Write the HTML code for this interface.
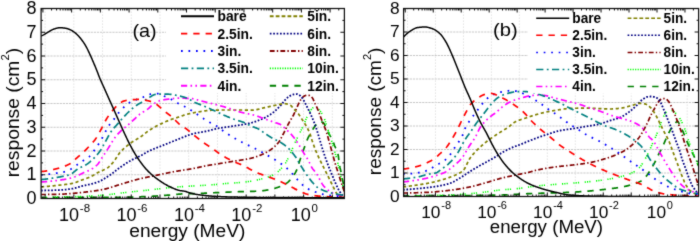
<!DOCTYPE html>
<html><head><meta charset="utf-8"><style>
html,body{margin:0;padding:0;background:#fff;}
svg{display:block;}
text{font-family:"Liberation Sans", Arial, Helvetica, sans-serif;fill:#000;}
</style></head><body>
<svg width="700" height="241" viewBox="0 0 700 241">
<defs><filter id="soft" x="0" y="0" width="700" height="241" filterUnits="userSpaceOnUse" primitiveUnits="userSpaceOnUse" color-interpolation-filters="sRGB"><feConvolveMatrix order="3" kernelMatrix="0.02 0.08 0.02 0.08 0.6 0.08 0.02 0.08 0.02" edgeMode="duplicate"/></filter></defs>
<rect width="700" height="241" fill="#fff"/>
<g filter="url(#soft)">
<rect width="700" height="241" fill="#fff"/>
<clipPath id="clipa"><rect x="41.1" y="8.5" width="303.29999999999995" height="190.0"/></clipPath>
<path d="M41.1,174.75 H344.4 M41.1,151.00 H344.4 M41.1,127.25 H344.4 M41.1,103.50 H344.4 M41.1,79.75 H344.4 M41.1,56.00 H344.4 M41.1,32.25 H344.4" stroke="#c8c8c8" stroke-width="1" stroke-dasharray="2.2,0.9" fill="none"/>
<path d="M45.12,8.5 V198.5 M73.84,8.5 V198.5 M102.56,8.5 V198.5 M131.28,8.5 V198.5 M160.00,8.5 V198.5 M188.72,8.5 V198.5 M217.44,8.5 V198.5 M246.16,8.5 V198.5 M274.88,8.5 V198.5 M303.60,8.5 V198.5 M332.32,8.5 V198.5" stroke="#dedede" stroke-width="1" stroke-dasharray="1.3,1.7" fill="none"/>
<g clip-path="url(#clipa)" fill="none" stroke-linejoin="round">
<path d="M41.00,197.80 L41.50,197.79 L42.00,197.79 L42.50,197.78 L43.00,197.78 L43.50,197.77 L44.00,197.77 L44.50,197.76 L45.00,197.76 L45.50,197.75 L46.00,197.75 L46.50,197.74 L47.00,197.73 L47.50,197.73 L48.00,197.72 L48.50,197.72 L49.00,197.71 L49.50,197.71 L50.00,197.70 L50.50,197.70 L51.00,197.69 L51.50,197.69 L52.00,197.68 L52.50,197.68 L53.00,197.67 L53.50,197.67 L54.00,197.66 L54.50,197.66 L55.00,197.65 L55.50,197.65 L56.00,197.64 L56.50,197.64 L57.00,197.64 L57.50,197.63 L58.00,197.63 L58.50,197.62 L59.00,197.62 L59.50,197.61 L60.00,197.61 L60.50,197.60 L61.00,197.60 L61.50,197.59 L62.00,197.59 L62.50,197.59 L63.00,197.58 L63.50,197.58 L64.00,197.57 L64.50,197.57 L65.00,197.56 L65.50,197.56 L66.00,197.56 L66.50,197.55 L67.00,197.55 L67.50,197.54 L68.00,197.54 L68.50,197.54 L69.00,197.53 L69.50,197.53 L70.00,197.52 L70.50,197.52 L71.00,197.52 L71.50,197.51 L72.00,197.51 L72.50,197.50 L73.00,197.50 L73.50,197.50 L74.00,197.49 L74.50,197.49 L75.00,197.49 L75.50,197.48 L76.00,197.48 L76.50,197.48 L77.00,197.47 L77.50,197.47 L78.00,197.47 L78.50,197.46 L79.00,197.46 L79.50,197.46 L80.00,197.45 L80.50,197.45 L81.00,197.45 L81.50,197.44 L82.00,197.44 L82.50,197.44 L83.00,197.44 L83.50,197.43 L84.00,197.43 L84.50,197.43 L85.00,197.42 L85.50,197.42 L86.00,197.42 L86.50,197.42 L87.00,197.41 L87.50,197.41 L88.00,197.41 L88.50,197.41 L89.00,197.40 L89.50,197.40 L90.00,197.40 L90.50,197.40 L91.00,197.40 L91.50,197.39 L92.00,197.39 L92.50,197.39 L93.00,197.39 L93.50,197.39 L94.00,197.38 L94.50,197.38 L95.00,197.38 L95.50,197.38 L96.00,197.38 L96.50,197.38 L97.00,197.37 L97.50,197.37 L98.00,197.37 L98.50,197.37 L99.00,197.37 L99.50,197.37 L100.00,197.37 L100.50,197.37 L101.00,197.36 L101.50,197.36 L102.00,197.36 L102.50,197.36 L103.00,197.36 L103.50,197.36 L104.00,197.36 L104.50,197.36 L105.00,197.36 L105.50,197.35 L106.00,197.35 L106.50,197.35 L107.00,197.35 L107.50,197.35 L108.00,197.35 L108.50,197.35 L109.00,197.35 L109.50,197.34 L110.00,197.34 L110.50,197.34 L111.00,197.34 L111.50,197.34 L112.00,197.34 L112.50,197.33 L113.00,197.33 L113.50,197.33 L114.00,197.33 L114.50,197.33 L115.00,197.33 L115.50,197.32 L116.00,197.32 L116.50,197.32 L117.00,197.32 L117.50,197.31 L118.00,197.31 L118.50,197.31 L119.00,197.31 L119.50,197.30 L120.00,197.30 L120.50,197.30 L121.00,197.29 L121.50,197.29 L122.00,197.28 L122.50,197.28 L123.00,197.27 L123.50,197.26 L124.00,197.26 L124.50,197.25 L125.00,197.24 L125.50,197.23 L126.00,197.22 L126.50,197.21 L127.00,197.20 L127.50,197.19 L128.00,197.18 L128.50,197.16 L129.00,197.15 L129.50,197.14 L130.00,197.12 L130.50,197.11 L131.00,197.10 L131.50,197.08 L132.00,197.07 L132.50,197.05 L133.00,197.03 L133.50,197.02 L134.00,197.00 L134.50,196.98 L135.00,196.97 L135.50,196.95 L136.00,196.93 L136.50,196.91 L137.00,196.90 L137.50,196.88 L138.00,196.86 L138.50,196.84 L139.00,196.82 L139.50,196.80 L140.00,196.78 L140.50,196.76 L141.00,196.74 L141.50,196.72 L142.00,196.70 L142.50,196.68 L143.00,196.66 L143.50,196.64 L144.00,196.61 L144.50,196.59 L145.00,196.57 L145.50,196.55 L146.00,196.53 L146.50,196.51 L147.00,196.49 L147.50,196.46 L148.00,196.44 L148.50,196.42 L149.00,196.40 L149.50,196.38 L150.00,196.35 L150.50,196.33 L151.00,196.31 L151.50,196.28 L152.00,196.25 L152.50,196.23 L153.00,196.20 L153.50,196.17 L154.00,196.14 L154.50,196.11 L155.00,196.08 L155.50,196.05 L156.00,196.02 L156.50,195.98 L157.00,195.95 L157.50,195.92 L158.00,195.88 L158.50,195.85 L159.00,195.81 L159.50,195.78 L160.00,195.74 L160.50,195.71 L161.00,195.67 L161.50,195.64 L162.00,195.60 L162.50,195.56 L163.00,195.52 L163.50,195.49 L164.00,195.45 L164.50,195.41 L165.00,195.37 L165.50,195.34 L166.00,195.30 L166.50,195.26 L167.00,195.22 L167.50,195.19 L168.00,195.15 L168.50,195.11 L169.00,195.07 L169.50,195.04 L170.00,195.00 L170.50,194.96 L171.00,194.92 L171.50,194.88 L172.00,194.84 L172.50,194.79 L173.00,194.75 L173.50,194.70 L174.00,194.65 L174.50,194.60 L175.00,194.55 L175.50,194.50 L176.00,194.45 L176.50,194.40 L177.00,194.36 L177.50,194.31 L178.00,194.26 L178.50,194.21 L179.00,194.16 L179.50,194.12 L180.00,194.07 L180.50,194.03 L181.00,193.99 L181.50,193.95 L182.00,193.91 L182.50,193.87 L183.00,193.84 L183.50,193.81 L184.00,193.78 L184.50,193.76 L185.00,193.73 L185.50,193.72 L186.00,193.70 L186.50,193.69 L187.00,193.67 L187.50,193.66 L188.00,193.65 L188.50,193.64 L189.00,193.64 L189.50,193.63 L190.00,193.62 L190.50,193.61 L191.00,193.61 L191.50,193.60 L192.00,193.59 L192.50,193.59 L193.00,193.58 L193.50,193.58 L194.00,193.57 L194.50,193.56 L195.00,193.55 L195.50,193.55 L196.00,193.54 L196.50,193.53 L197.00,193.52 L197.50,193.50 L198.00,193.49 L198.50,193.48 L199.00,193.46 L199.50,193.44 L200.00,193.42 L200.50,193.40 L201.00,193.38 L201.50,193.36 L202.00,193.34 L202.50,193.31 L203.00,193.28 L203.50,193.26 L204.00,193.23 L204.50,193.20 L205.00,193.18 L205.50,193.15 L206.00,193.12 L206.50,193.10 L207.00,193.07 L207.50,193.04 L208.00,193.02 L208.50,192.99 L209.00,192.96 L209.50,192.94 L210.00,192.92 L210.50,192.90 L211.00,192.87 L211.50,192.85 L212.00,192.83 L212.50,192.81 L213.00,192.79 L213.50,192.77 L214.00,192.75 L214.50,192.73 L215.00,192.71 L215.50,192.69 L216.00,192.68 L216.50,192.66 L217.00,192.64 L217.50,192.62 L218.00,192.60 L218.50,192.58 L219.00,192.56 L219.50,192.54 L220.00,192.52 L220.50,192.50 L221.00,192.48 L221.50,192.46 L222.00,192.44 L222.50,192.42 L223.00,192.40 L223.50,192.37 L224.00,192.35 L224.50,192.33 L225.00,192.30 L225.50,192.27 L226.00,192.25 L226.50,192.22 L227.00,192.19 L227.50,192.17 L228.00,192.14 L228.50,192.11 L229.00,192.09 L229.50,192.06 L230.00,192.03 L230.50,192.01 L231.00,191.98 L231.50,191.96 L232.00,191.93 L232.50,191.91 L233.00,191.89 L233.50,191.87 L234.00,191.85 L234.50,191.83 L235.00,191.81 L235.50,191.79 L236.00,191.78 L236.50,191.77 L237.00,191.75 L237.50,191.74 L238.00,191.73 L238.50,191.72 L239.00,191.71 L239.50,191.70 L240.00,191.69 L240.50,191.68 L241.00,191.67 L241.50,191.66 L242.00,191.65 L242.50,191.64 L243.00,191.63 L243.50,191.62 L244.00,191.61 L244.50,191.60 L245.00,191.59 L245.50,191.58 L246.00,191.56 L246.50,191.55 L247.00,191.54 L247.50,191.53 L248.00,191.51 L248.50,191.50 L249.00,191.48 L249.50,191.47 L250.00,191.45 L250.50,191.43 L251.00,191.42 L251.50,191.40 L252.00,191.38 L252.50,191.36 L253.00,191.34 L253.50,191.32 L254.00,191.30 L254.50,191.28 L255.00,191.26 L255.50,191.23 L256.00,191.21 L256.50,191.18 L257.00,191.16 L257.50,191.13 L258.00,191.10 L258.50,191.07 L259.00,191.04 L259.50,191.01 L260.00,190.97 L260.50,190.94 L261.00,190.90 L261.50,190.86 L262.00,190.81 L262.50,190.76 L263.00,190.70 L263.50,190.64 L264.00,190.57 L264.50,190.50 L265.00,190.42 L265.50,190.34 L266.00,190.26 L266.50,190.17 L267.00,190.08 L267.50,189.99 L268.00,189.89 L268.50,189.80 L269.00,189.70 L269.50,189.60 L270.00,189.50 L270.50,189.40 L271.00,189.29 L271.50,189.18 L272.00,189.06 L272.50,188.94 L273.00,188.81 L273.50,188.68 L274.00,188.55 L274.50,188.41 L275.00,188.26 L275.50,188.11 L276.00,187.96 L276.50,187.80 L277.00,187.64 L277.50,187.47 L278.00,187.30 L278.50,187.12 L279.00,186.94 L279.50,186.75 L280.00,186.56 L280.50,186.36 L281.00,186.15 L281.50,185.94 L282.00,185.72 L282.50,185.49 L283.00,185.25 L283.50,185.00 L284.00,184.74 L284.50,184.46 L285.00,184.18 L285.50,183.88 L286.00,183.56 L286.50,183.23 L287.00,182.89 L287.50,182.53 L288.00,182.14 L288.50,181.70 L289.00,181.20 L289.50,180.65 L290.00,180.05 L290.50,179.42 L291.00,178.76 L291.50,178.08 L292.00,177.39 L292.50,176.69 L293.00,176.00 L293.50,175.32 L294.00,174.63 L294.50,173.93 L295.00,173.19 L295.50,172.38 L296.00,171.49 L296.50,170.50 L297.00,169.29 L297.50,167.82 L298.00,166.22 L298.50,164.57 L299.00,163.00 L299.50,161.49 L300.00,159.97 L300.50,158.46 L301.00,156.96 L301.50,155.50 L302.00,154.07 L302.50,152.66 L303.00,151.27 L303.50,149.89 L304.00,148.53 L304.50,147.18 L305.00,145.83 L305.50,144.46 L306.00,143.07 L306.50,141.69 L307.00,140.37 L307.50,139.13 L308.00,138.00 L308.50,136.99 L309.00,136.06 L309.50,135.19 L310.00,134.35 L310.50,133.52 L311.00,132.67 L311.50,131.79 L312.00,130.89 L312.50,129.99 L313.00,129.12 L313.50,128.28 L314.00,127.50 L314.50,126.76 L315.00,126.04 L315.50,125.36 L316.00,124.74 L316.50,124.20 L317.00,123.71 L317.50,123.20 L318.00,122.72 L318.50,122.28 L319.00,121.92 L319.50,121.69 L320.00,121.60 L320.50,121.63 L321.00,121.72 L321.50,121.86 L322.00,122.04 L322.50,122.26 L323.00,122.50 L323.50,122.92 L324.00,123.60 L324.50,124.48 L325.00,125.48 L325.50,126.51 L326.00,127.50 L326.50,128.51 L327.00,129.61 L327.50,130.76 L328.00,131.91 L328.50,133.00 L329.00,134.00 L329.50,134.87 L330.00,135.64 L330.50,136.37 L331.00,137.09 L331.50,137.86 L332.00,138.72 L332.50,139.72 L333.00,140.99 L333.50,142.47 L334.00,144.02 L334.50,145.48 L335.00,146.72 L335.50,147.68 L336.00,148.51 L336.50,149.38 L337.00,150.46 L337.50,151.98 L338.00,154.15 L338.50,157.00 L339.00,161.80 L339.50,165.30 L340.00,167.71 L340.50,169.79 L341.00,172.00 L341.50,174.51 L342.00,177.10 L342.50,179.64 L343.00,182.00 L343.50,184.17 L344.00,186.24 L344.50,188.18 L345.00,190.00" stroke="#008000" stroke-width="1.7" stroke-dasharray="6.3,6"/>
<path d="M41.00,197.20 L41.50,197.20 L42.00,197.20 L42.50,197.20 L43.00,197.20 L43.50,197.20 L44.00,197.19 L44.50,197.19 L45.00,197.19 L45.50,197.19 L46.00,197.18 L46.50,197.18 L47.00,197.18 L47.50,197.17 L48.00,197.17 L48.50,197.16 L49.00,197.16 L49.50,197.15 L50.00,197.15 L50.50,197.14 L51.00,197.14 L51.50,197.13 L52.00,197.13 L52.50,197.12 L53.00,197.11 L53.50,197.11 L54.00,197.10 L54.50,197.09 L55.00,197.08 L55.50,197.08 L56.00,197.07 L56.50,197.06 L57.00,197.05 L57.50,197.04 L58.00,197.04 L58.50,197.03 L59.00,197.02 L59.50,197.01 L60.00,197.00 L60.50,196.99 L61.00,196.98 L61.50,196.97 L62.00,196.96 L62.50,196.95 L63.00,196.94 L63.50,196.93 L64.00,196.92 L64.50,196.91 L65.00,196.90 L65.50,196.89 L66.00,196.88 L66.50,196.87 L67.00,196.86 L67.50,196.85 L68.00,196.84 L68.50,196.83 L69.00,196.82 L69.50,196.81 L70.00,196.80 L70.50,196.79 L71.00,196.78 L71.50,196.77 L72.00,196.75 L72.50,196.74 L73.00,196.73 L73.50,196.71 L74.00,196.70 L74.50,196.69 L75.00,196.67 L75.50,196.66 L76.00,196.64 L76.50,196.62 L77.00,196.61 L77.50,196.59 L78.00,196.57 L78.50,196.55 L79.00,196.54 L79.50,196.52 L80.00,196.50 L80.50,196.48 L81.00,196.46 L81.50,196.44 L82.00,196.42 L82.50,196.40 L83.00,196.38 L83.50,196.35 L84.00,196.33 L84.50,196.31 L85.00,196.28 L85.50,196.26 L86.00,196.24 L86.50,196.21 L87.00,196.19 L87.50,196.16 L88.00,196.14 L88.50,196.11 L89.00,196.09 L89.50,196.06 L90.00,196.03 L90.50,196.01 L91.00,195.98 L91.50,195.95 L92.00,195.92 L92.50,195.89 L93.00,195.86 L93.50,195.84 L94.00,195.81 L94.50,195.78 L95.00,195.75 L95.50,195.72 L96.00,195.68 L96.50,195.65 L97.00,195.62 L97.50,195.59 L98.00,195.56 L98.50,195.53 L99.00,195.49 L99.50,195.46 L100.00,195.43 L100.50,195.39 L101.00,195.36 L101.50,195.32 L102.00,195.28 L102.50,195.24 L103.00,195.20 L103.50,195.15 L104.00,195.10 L104.50,195.06 L105.00,195.01 L105.50,194.95 L106.00,194.90 L106.50,194.85 L107.00,194.79 L107.50,194.73 L108.00,194.68 L108.50,194.62 L109.00,194.56 L109.50,194.50 L110.00,194.43 L110.50,194.37 L111.00,194.31 L111.50,194.24 L112.00,194.18 L112.50,194.11 L113.00,194.05 L113.50,193.98 L114.00,193.92 L114.50,193.85 L115.00,193.79 L115.50,193.72 L116.00,193.65 L116.50,193.59 L117.00,193.52 L117.50,193.46 L118.00,193.39 L118.50,193.33 L119.00,193.27 L119.50,193.20 L120.00,193.14 L120.50,193.08 L121.00,193.02 L121.50,192.96 L122.00,192.90 L122.50,192.84 L123.00,192.79 L123.50,192.73 L124.00,192.68 L124.50,192.62 L125.00,192.57 L125.50,192.51 L126.00,192.46 L126.50,192.40 L127.00,192.35 L127.50,192.30 L128.00,192.24 L128.50,192.19 L129.00,192.13 L129.50,192.08 L130.00,192.03 L130.50,191.97 L131.00,191.92 L131.50,191.87 L132.00,191.81 L132.50,191.76 L133.00,191.71 L133.50,191.65 L134.00,191.60 L134.50,191.55 L135.00,191.50 L135.50,191.44 L136.00,191.39 L136.50,191.34 L137.00,191.28 L137.50,191.23 L138.00,191.18 L138.50,191.13 L139.00,191.07 L139.50,191.02 L140.00,190.97 L140.50,190.91 L141.00,190.86 L141.50,190.81 L142.00,190.76 L142.50,190.70 L143.00,190.65 L143.50,190.60 L144.00,190.54 L144.50,190.49 L145.00,190.43 L145.50,190.38 L146.00,190.33 L146.50,190.27 L147.00,190.22 L147.50,190.16 L148.00,190.11 L148.50,190.05 L149.00,190.00 L149.50,189.94 L150.00,189.89 L150.50,189.83 L151.00,189.78 L151.50,189.72 L152.00,189.66 L152.50,189.60 L153.00,189.54 L153.50,189.48 L154.00,189.42 L154.50,189.36 L155.00,189.30 L155.50,189.24 L156.00,189.18 L156.50,189.12 L157.00,189.06 L157.50,189.00 L158.00,188.94 L158.50,188.87 L159.00,188.81 L159.50,188.75 L160.00,188.69 L160.50,188.63 L161.00,188.57 L161.50,188.51 L162.00,188.45 L162.50,188.39 L163.00,188.33 L163.50,188.27 L164.00,188.22 L164.50,188.16 L165.00,188.10 L165.50,188.05 L166.00,187.99 L166.50,187.93 L167.00,187.88 L167.50,187.83 L168.00,187.77 L168.50,187.72 L169.00,187.67 L169.50,187.62 L170.00,187.57 L170.50,187.52 L171.00,187.48 L171.50,187.43 L172.00,187.39 L172.50,187.34 L173.00,187.30 L173.50,187.26 L174.00,187.22 L174.50,187.18 L175.00,187.14 L175.50,187.10 L176.00,187.06 L176.50,187.02 L177.00,186.99 L177.50,186.95 L178.00,186.91 L178.50,186.88 L179.00,186.84 L179.50,186.81 L180.00,186.77 L180.50,186.74 L181.00,186.71 L181.50,186.67 L182.00,186.64 L182.50,186.61 L183.00,186.58 L183.50,186.54 L184.00,186.51 L184.50,186.48 L185.00,186.45 L185.50,186.42 L186.00,186.39 L186.50,186.36 L187.00,186.33 L187.50,186.30 L188.00,186.26 L188.50,186.23 L189.00,186.20 L189.50,186.17 L190.00,186.14 L190.50,186.11 L191.00,186.08 L191.50,186.05 L192.00,186.02 L192.50,185.99 L193.00,185.97 L193.50,185.94 L194.00,185.91 L194.50,185.88 L195.00,185.86 L195.50,185.83 L196.00,185.80 L196.50,185.78 L197.00,185.75 L197.50,185.72 L198.00,185.70 L198.50,185.67 L199.00,185.64 L199.50,185.62 L200.00,185.59 L200.50,185.56 L201.00,185.54 L201.50,185.51 L202.00,185.48 L202.50,185.45 L203.00,185.42 L203.50,185.39 L204.00,185.36 L204.50,185.33 L205.00,185.30 L205.50,185.27 L206.00,185.24 L206.50,185.20 L207.00,185.17 L207.50,185.14 L208.00,185.10 L208.50,185.07 L209.00,185.03 L209.50,185.00 L210.00,184.96 L210.50,184.93 L211.00,184.89 L211.50,184.85 L212.00,184.82 L212.50,184.78 L213.00,184.74 L213.50,184.70 L214.00,184.66 L214.50,184.62 L215.00,184.58 L215.50,184.54 L216.00,184.50 L216.50,184.46 L217.00,184.41 L217.50,184.37 L218.00,184.32 L218.50,184.27 L219.00,184.23 L219.50,184.18 L220.00,184.13 L220.50,184.07 L221.00,184.02 L221.50,183.97 L222.00,183.92 L222.50,183.87 L223.00,183.82 L223.50,183.77 L224.00,183.72 L224.50,183.67 L225.00,183.62 L225.50,183.57 L226.00,183.53 L226.50,183.48 L227.00,183.44 L227.50,183.40 L228.00,183.36 L228.50,183.32 L229.00,183.29 L229.50,183.25 L230.00,183.22 L230.50,183.19 L231.00,183.15 L231.50,183.12 L232.00,183.09 L232.50,183.06 L233.00,183.03 L233.50,183.00 L234.00,182.97 L234.50,182.94 L235.00,182.91 L235.50,182.88 L236.00,182.84 L236.50,182.81 L237.00,182.77 L237.50,182.74 L238.00,182.70 L238.50,182.66 L239.00,182.62 L239.50,182.57 L240.00,182.53 L240.50,182.48 L241.00,182.44 L241.50,182.39 L242.00,182.34 L242.50,182.29 L243.00,182.23 L243.50,182.18 L244.00,182.12 L244.50,182.07 L245.00,182.01 L245.50,181.95 L246.00,181.89 L246.50,181.83 L247.00,181.76 L247.50,181.70 L248.00,181.63 L248.50,181.56 L249.00,181.49 L249.50,181.42 L250.00,181.34 L250.50,181.27 L251.00,181.19 L251.50,181.11 L252.00,181.02 L252.50,180.94 L253.00,180.84 L253.50,180.75 L254.00,180.65 L254.50,180.55 L255.00,180.45 L255.50,180.35 L256.00,180.24 L256.50,180.13 L257.00,180.02 L257.50,179.90 L258.00,179.79 L258.50,179.67 L259.00,179.55 L259.50,179.43 L260.00,179.30 L260.50,179.18 L261.00,179.05 L261.50,178.93 L262.00,178.80 L262.50,178.67 L263.00,178.54 L263.50,178.41 L264.00,178.27 L264.50,178.13 L265.00,177.99 L265.50,177.84 L266.00,177.69 L266.50,177.54 L267.00,177.38 L267.50,177.21 L268.00,177.04 L268.50,176.87 L269.00,176.68 L269.50,176.50 L270.00,176.30 L270.50,176.10 L271.00,175.88 L271.50,175.66 L272.00,175.43 L272.50,175.18 L273.00,174.93 L273.50,174.66 L274.00,174.38 L274.50,174.09 L275.00,173.79 L275.50,173.47 L276.00,173.14 L276.50,172.79 L277.00,172.42 L277.50,172.03 L278.00,171.63 L278.50,171.20 L279.00,170.75 L279.50,170.28 L280.00,169.79 L280.50,169.29 L281.00,168.76 L281.50,168.21 L282.00,167.65 L282.50,167.07 L283.00,166.46 L283.50,165.84 L284.00,165.20 L284.50,164.54 L285.00,163.86 L285.50,163.12 L286.00,162.29 L286.50,161.40 L287.00,160.47 L287.50,159.49 L288.00,158.50 L288.50,157.50 L289.00,156.47 L289.50,155.40 L290.00,154.28 L290.50,153.14 L291.00,151.99 L291.50,150.83 L292.00,149.68 L292.50,148.55 L293.00,147.41 L293.50,146.26 L294.00,145.10 L294.50,143.95 L295.00,142.80 L295.50,141.68 L296.00,140.57 L296.50,139.50 L297.00,138.46 L297.50,137.46 L298.00,136.49 L298.50,135.52 L299.00,134.56 L299.50,133.60 L300.00,132.62 L300.50,131.62 L301.00,130.58 L301.50,129.52 L302.00,128.44 L302.50,127.35 L303.00,126.24 L303.50,125.13 L304.00,124.00 L304.50,122.85 L305.00,121.66 L305.50,120.46 L306.00,119.27 L306.50,118.11 L307.00,117.00 L307.50,115.89 L308.00,114.76 L308.50,113.66 L309.00,112.63 L309.50,111.73 L310.00,111.00 L310.50,110.37 L311.00,109.76 L311.50,109.17 L312.00,108.63 L312.50,108.17 L313.00,107.81 L313.50,107.58 L314.00,107.50 L314.50,107.53 L315.00,107.62 L315.50,107.77 L316.00,107.95 L316.50,108.18 L317.00,108.45 L317.50,108.73 L318.00,109.04 L318.50,109.37 L319.00,109.73 L319.50,110.21 L320.00,110.82 L320.50,111.50 L321.00,112.24 L321.50,113.00 L322.00,113.80 L322.50,114.69 L323.00,115.65 L323.50,116.69 L324.00,117.80 L324.50,118.99 L325.00,120.36 L325.50,121.87 L326.00,123.47 L326.50,125.11 L327.00,126.74 L327.50,128.31 L328.00,129.83 L328.50,131.36 L329.00,132.89 L329.50,134.43 L330.00,136.00 L330.50,137.60 L331.00,139.22 L331.50,140.85 L332.00,142.51 L332.50,144.17 L333.00,145.83 L333.50,147.50 L334.00,149.15 L334.50,150.80 L335.00,152.48 L335.50,154.21 L336.00,156.00 L336.50,157.86 L337.00,159.78 L337.50,161.76 L338.00,163.79 L338.50,165.87 L339.00,168.00 L339.50,170.23 L340.00,172.59 L340.50,175.00 L341.00,177.41 L341.50,179.77 L342.00,182.00 L342.50,184.13 L343.00,186.21 L343.50,188.24 L344.00,190.22 L344.50,192.14 L345.00,194.00" stroke="#00ff00" stroke-width="1.6" stroke-dasharray="1.2,1.1,1.2,1.1,1.2,5.6"/>
<path d="M41.00,194.50 L41.50,194.50 L42.00,194.50 L42.50,194.50 L43.00,194.50 L43.50,194.49 L44.00,194.49 L44.50,194.49 L45.00,194.48 L45.50,194.48 L46.00,194.47 L46.50,194.47 L47.00,194.46 L47.50,194.46 L48.00,194.45 L48.50,194.44 L49.00,194.44 L49.50,194.43 L50.00,194.42 L50.50,194.41 L51.00,194.40 L51.50,194.39 L52.00,194.38 L52.50,194.38 L53.00,194.37 L53.50,194.35 L54.00,194.34 L54.50,194.33 L55.00,194.32 L55.50,194.31 L56.00,194.30 L56.50,194.29 L57.00,194.28 L57.50,194.26 L58.00,194.25 L58.50,194.24 L59.00,194.23 L59.50,194.21 L60.00,194.20 L60.50,194.19 L61.00,194.17 L61.50,194.15 L62.00,194.13 L62.50,194.11 L63.00,194.09 L63.50,194.06 L64.00,194.03 L64.50,194.01 L65.00,193.98 L65.50,193.94 L66.00,193.91 L66.50,193.88 L67.00,193.84 L67.50,193.81 L68.00,193.77 L68.50,193.73 L69.00,193.70 L69.50,193.66 L70.00,193.62 L70.50,193.58 L71.00,193.54 L71.50,193.49 L72.00,193.45 L72.50,193.41 L73.00,193.37 L73.50,193.33 L74.00,193.28 L74.50,193.24 L75.00,193.20 L75.50,193.16 L76.00,193.11 L76.50,193.07 L77.00,193.02 L77.50,192.97 L78.00,192.92 L78.50,192.87 L79.00,192.82 L79.50,192.77 L80.00,192.72 L80.50,192.66 L81.00,192.61 L81.50,192.55 L82.00,192.50 L82.50,192.44 L83.00,192.38 L83.50,192.32 L84.00,192.26 L84.50,192.20 L85.00,192.14 L85.50,192.08 L86.00,192.01 L86.50,191.95 L87.00,191.89 L87.50,191.82 L88.00,191.76 L88.50,191.70 L89.00,191.63 L89.50,191.57 L90.00,191.50 L90.50,191.43 L91.00,191.37 L91.50,191.30 L92.00,191.24 L92.50,191.17 L93.00,191.10 L93.50,191.04 L94.00,190.97 L94.50,190.90 L95.00,190.83 L95.50,190.76 L96.00,190.68 L96.50,190.61 L97.00,190.54 L97.50,190.46 L98.00,190.38 L98.50,190.30 L99.00,190.22 L99.50,190.14 L100.00,190.05 L100.50,189.97 L101.00,189.88 L101.50,189.79 L102.00,189.69 L102.50,189.60 L103.00,189.50 L103.50,189.40 L104.00,189.29 L104.50,189.18 L105.00,189.06 L105.50,188.94 L106.00,188.81 L106.50,188.68 L107.00,188.55 L107.50,188.41 L108.00,188.27 L108.50,188.12 L109.00,187.97 L109.50,187.82 L110.00,187.67 L110.50,187.52 L111.00,187.36 L111.50,187.20 L112.00,187.04 L112.50,186.88 L113.00,186.72 L113.50,186.56 L114.00,186.39 L114.50,186.23 L115.00,186.07 L115.50,185.91 L116.00,185.74 L116.50,185.58 L117.00,185.42 L117.50,185.26 L118.00,185.11 L118.50,184.95 L119.00,184.80 L119.50,184.65 L120.00,184.50 L120.50,184.35 L121.00,184.20 L121.50,184.05 L122.00,183.90 L122.50,183.75 L123.00,183.60 L123.50,183.45 L124.00,183.30 L124.50,183.14 L125.00,182.99 L125.50,182.83 L126.00,182.68 L126.50,182.53 L127.00,182.37 L127.50,182.22 L128.00,182.07 L128.50,181.91 L129.00,181.76 L129.50,181.61 L130.00,181.46 L130.50,181.31 L131.00,181.16 L131.50,181.02 L132.00,180.87 L132.50,180.73 L133.00,180.58 L133.50,180.44 L134.00,180.30 L134.50,180.16 L135.00,180.03 L135.50,179.89 L136.00,179.76 L136.50,179.63 L137.00,179.50 L137.50,179.38 L138.00,179.25 L138.50,179.13 L139.00,179.01 L139.50,178.89 L140.00,178.77 L140.50,178.66 L141.00,178.54 L141.50,178.43 L142.00,178.31 L142.50,178.20 L143.00,178.09 L143.50,177.98 L144.00,177.87 L144.50,177.77 L145.00,177.66 L145.50,177.55 L146.00,177.45 L146.50,177.34 L147.00,177.24 L147.50,177.13 L148.00,177.03 L148.50,176.92 L149.00,176.82 L149.50,176.72 L150.00,176.62 L150.50,176.51 L151.00,176.41 L151.50,176.31 L152.00,176.20 L152.50,176.10 L153.00,176.00 L153.50,175.89 L154.00,175.79 L154.50,175.68 L155.00,175.58 L155.50,175.47 L156.00,175.37 L156.50,175.26 L157.00,175.16 L157.50,175.05 L158.00,174.94 L158.50,174.84 L159.00,174.73 L159.50,174.63 L160.00,174.52 L160.50,174.41 L161.00,174.31 L161.50,174.20 L162.00,174.10 L162.50,173.99 L163.00,173.89 L163.50,173.78 L164.00,173.68 L164.50,173.57 L165.00,173.47 L165.50,173.37 L166.00,173.26 L166.50,173.16 L167.00,173.06 L167.50,172.96 L168.00,172.85 L168.50,172.75 L169.00,172.65 L169.50,172.55 L170.00,172.45 L170.50,172.36 L171.00,172.26 L171.50,172.16 L172.00,172.06 L172.50,171.97 L173.00,171.87 L173.50,171.78 L174.00,171.68 L174.50,171.59 L175.00,171.50 L175.50,171.41 L176.00,171.32 L176.50,171.23 L177.00,171.15 L177.50,171.06 L178.00,170.98 L178.50,170.89 L179.00,170.81 L179.50,170.73 L180.00,170.65 L180.50,170.57 L181.00,170.49 L181.50,170.41 L182.00,170.33 L182.50,170.25 L183.00,170.17 L183.50,170.10 L184.00,170.02 L184.50,169.94 L185.00,169.86 L185.50,169.78 L186.00,169.71 L186.50,169.63 L187.00,169.55 L187.50,169.47 L188.00,169.39 L188.50,169.31 L189.00,169.23 L189.50,169.15 L190.00,169.07 L190.50,168.98 L191.00,168.90 L191.50,168.81 L192.00,168.73 L192.50,168.64 L193.00,168.55 L193.50,168.46 L194.00,168.37 L194.50,168.28 L195.00,168.18 L195.50,168.08 L196.00,167.98 L196.50,167.88 L197.00,167.77 L197.50,167.66 L198.00,167.55 L198.50,167.43 L199.00,167.32 L199.50,167.20 L200.00,167.09 L200.50,166.97 L201.00,166.86 L201.50,166.74 L202.00,166.63 L202.50,166.52 L203.00,166.41 L203.50,166.30 L204.00,166.20 L204.50,166.10 L205.00,166.00 L205.50,165.91 L206.00,165.81 L206.50,165.72 L207.00,165.63 L207.50,165.54 L208.00,165.45 L208.50,165.36 L209.00,165.28 L209.50,165.19 L210.00,165.11 L210.50,165.03 L211.00,164.94 L211.50,164.86 L212.00,164.78 L212.50,164.70 L213.00,164.62 L213.50,164.54 L214.00,164.46 L214.50,164.38 L215.00,164.30 L215.50,164.22 L216.00,164.14 L216.50,164.06 L217.00,163.97 L217.50,163.89 L218.00,163.81 L218.50,163.73 L219.00,163.65 L219.50,163.57 L220.00,163.48 L220.50,163.40 L221.00,163.32 L221.50,163.23 L222.00,163.15 L222.50,163.07 L223.00,162.98 L223.50,162.90 L224.00,162.82 L224.50,162.73 L225.00,162.65 L225.50,162.56 L226.00,162.48 L226.50,162.40 L227.00,162.31 L227.50,162.23 L228.00,162.15 L228.50,162.06 L229.00,161.98 L229.50,161.90 L230.00,161.81 L230.50,161.73 L231.00,161.65 L231.50,161.57 L232.00,161.48 L232.50,161.40 L233.00,161.32 L233.50,161.23 L234.00,161.15 L234.50,161.07 L235.00,160.98 L235.50,160.90 L236.00,160.82 L236.50,160.74 L237.00,160.67 L237.50,160.59 L238.00,160.51 L238.50,160.44 L239.00,160.37 L239.50,160.29 L240.00,160.22 L240.50,160.15 L241.00,160.07 L241.50,160.00 L242.00,159.93 L242.50,159.85 L243.00,159.77 L243.50,159.70 L244.00,159.62 L244.50,159.54 L245.00,159.46 L245.50,159.37 L246.00,159.29 L246.50,159.20 L247.00,159.11 L247.50,159.01 L248.00,158.92 L248.50,158.82 L249.00,158.72 L249.50,158.61 L250.00,158.50 L250.50,158.39 L251.00,158.27 L251.50,158.14 L252.00,158.01 L252.50,157.88 L253.00,157.74 L253.50,157.60 L254.00,157.45 L254.50,157.30 L255.00,157.14 L255.50,156.98 L256.00,156.82 L256.50,156.65 L257.00,156.47 L257.50,156.30 L258.00,156.11 L258.50,155.93 L259.00,155.74 L259.50,155.55 L260.00,155.35 L260.50,155.15 L261.00,154.95 L261.50,154.74 L262.00,154.53 L262.50,154.31 L263.00,154.09 L263.50,153.86 L264.00,153.62 L264.50,153.37 L265.00,153.12 L265.50,152.86 L266.00,152.59 L266.50,152.32 L267.00,152.03 L267.50,151.74 L268.00,151.45 L268.50,151.14 L269.00,150.82 L269.50,150.50 L270.00,150.17 L270.50,149.83 L271.00,149.48 L271.50,149.12 L272.00,148.75 L272.50,148.37 L273.00,147.98 L273.50,147.56 L274.00,147.14 L274.50,146.69 L275.00,146.23 L275.50,145.74 L276.00,145.24 L276.50,144.71 L277.00,144.17 L277.50,143.59 L278.00,143.00 L278.50,142.38 L279.00,141.73 L279.50,141.03 L280.00,140.24 L280.50,139.36 L281.00,138.43 L281.50,137.46 L282.00,136.46 L282.50,135.47 L283.00,134.50 L283.50,133.53 L284.00,132.53 L284.50,131.51 L285.00,130.49 L285.50,129.48 L286.00,128.50 L286.50,127.53 L287.00,126.58 L287.50,125.63 L288.00,124.69 L288.50,123.76 L289.00,122.84 L289.50,121.94 L290.00,121.07 L290.50,120.22 L291.00,119.39 L291.50,118.55 L292.00,117.71 L292.50,116.84 L293.00,115.94 L293.50,115.00 L294.00,114.00 L294.50,112.94 L295.00,111.85 L295.50,110.73 L296.00,109.61 L296.50,108.50 L297.00,107.36 L297.50,106.19 L298.00,105.00 L298.50,103.85 L299.00,102.77 L299.50,101.80 L300.00,100.91 L300.50,100.07 L301.00,99.29 L301.50,98.59 L302.00,98.00 L302.50,97.48 L303.00,96.99 L303.50,96.55 L304.00,96.17 L304.50,95.89 L305.00,95.68 L305.50,95.50 L306.00,95.35 L306.50,95.24 L307.00,95.20 L307.50,95.22 L308.00,95.26 L308.50,95.32 L309.00,95.40 L309.50,95.54 L310.00,95.77 L310.50,96.09 L311.00,96.47 L311.50,96.91 L312.00,97.40 L312.50,98.06 L313.00,98.96 L313.50,100.04 L314.00,101.21 L314.50,102.39 L315.00,103.50 L315.50,104.54 L316.00,105.57 L316.50,106.62 L317.00,107.70 L317.50,108.83 L318.00,110.03 L318.50,111.33 L319.00,112.69 L319.50,114.08 L320.00,115.46 L320.50,116.80 L321.00,118.11 L321.50,119.40 L322.00,120.69 L322.50,121.97 L323.00,123.24 L323.50,124.50 L324.00,125.71 L324.50,126.90 L325.00,128.10 L325.50,129.36 L326.00,130.71 L326.50,132.21 L327.00,133.85 L327.50,135.59 L328.00,137.39 L328.50,139.21 L329.00,141.00 L329.50,142.78 L330.00,144.59 L330.50,146.42 L331.00,148.26 L331.50,150.09 L332.00,151.91 L332.50,153.72 L333.00,155.56 L333.50,157.41 L334.00,159.26 L334.50,161.09 L335.00,162.88 L335.50,164.61 L336.00,166.28 L336.50,167.84 L337.00,169.30 L337.50,170.73 L338.00,172.19 L338.50,173.75 L339.00,175.40 L339.50,177.09 L340.00,178.79 L340.50,180.44 L341.00,182.00 L341.50,183.49 L342.00,184.96 L342.50,186.39 L343.00,187.79 L343.50,189.15 L344.00,190.48 L344.50,191.76 L345.00,193.00" stroke="#800000" stroke-width="1.7" stroke-dasharray="4.8,2.2,1.4,2.2"/>
<path d="M41.00,190.50 L41.50,190.50 L42.00,190.50 L42.50,190.50 L43.00,190.49 L43.50,190.49 L44.00,190.48 L44.50,190.48 L45.00,190.47 L45.50,190.46 L46.00,190.46 L46.50,190.45 L47.00,190.44 L47.50,190.43 L48.00,190.42 L48.50,190.41 L49.00,190.39 L49.50,190.38 L50.00,190.37 L50.50,190.35 L51.00,190.34 L51.50,190.32 L52.00,190.31 L52.50,190.29 L53.00,190.27 L53.50,190.25 L54.00,190.24 L54.50,190.22 L55.00,190.20 L55.50,190.18 L56.00,190.16 L56.50,190.14 L57.00,190.11 L57.50,190.09 L58.00,190.07 L58.50,190.05 L59.00,190.03 L59.50,190.00 L60.00,189.98 L60.50,189.95 L61.00,189.93 L61.50,189.90 L62.00,189.88 L62.50,189.85 L63.00,189.82 L63.50,189.78 L64.00,189.74 L64.50,189.69 L65.00,189.65 L65.50,189.60 L66.00,189.54 L66.50,189.49 L67.00,189.43 L67.50,189.37 L68.00,189.30 L68.50,189.23 L69.00,189.16 L69.50,189.09 L70.00,189.02 L70.50,188.94 L71.00,188.86 L71.50,188.78 L72.00,188.70 L72.50,188.62 L73.00,188.53 L73.50,188.45 L74.00,188.34 L74.50,188.23 L75.00,188.11 L75.50,187.98 L76.00,187.84 L76.50,187.69 L77.00,187.54 L77.50,187.39 L78.00,187.23 L78.50,187.08 L79.00,186.93 L79.50,186.78 L80.00,186.64 L80.50,186.50 L81.00,186.37 L81.50,186.24 L82.00,186.11 L82.50,185.99 L83.00,185.87 L83.50,185.75 L84.00,185.64 L84.50,185.52 L85.00,185.41 L85.50,185.30 L86.00,185.18 L86.50,185.07 L87.00,184.96 L87.50,184.85 L88.00,184.74 L88.50,184.62 L89.00,184.51 L89.50,184.40 L90.00,184.28 L90.50,184.16 L91.00,184.04 L91.50,183.92 L92.00,183.79 L92.50,183.66 L93.00,183.53 L93.50,183.39 L94.00,183.25 L94.50,183.11 L95.00,182.96 L95.50,182.81 L96.00,182.65 L96.50,182.49 L97.00,182.32 L97.50,182.14 L98.00,181.96 L98.50,181.77 L99.00,181.56 L99.50,181.34 L100.00,181.11 L100.50,180.87 L101.00,180.62 L101.50,180.35 L102.00,180.08 L102.50,179.80 L103.00,179.51 L103.50,179.21 L104.00,178.91 L104.50,178.60 L105.00,178.28 L105.50,177.96 L106.00,177.64 L106.50,177.31 L107.00,176.99 L107.50,176.66 L108.00,176.32 L108.50,175.99 L109.00,175.66 L109.50,175.33 L110.00,175.00 L110.50,174.67 L111.00,174.32 L111.50,173.97 L112.00,173.60 L112.50,173.23 L113.00,172.85 L113.50,172.47 L114.00,172.08 L114.50,171.69 L115.00,171.30 L115.50,170.90 L116.00,170.51 L116.50,170.12 L117.00,169.73 L117.50,169.34 L118.00,168.96 L118.50,168.58 L119.00,168.21 L119.50,167.85 L120.00,167.50 L120.50,167.15 L121.00,166.81 L121.50,166.46 L122.00,166.12 L122.50,165.78 L123.00,165.44 L123.50,165.10 L124.00,164.76 L124.50,164.43 L125.00,164.10 L125.50,163.77 L126.00,163.44 L126.50,163.12 L127.00,162.81 L127.50,162.49 L128.00,162.18 L128.50,161.88 L129.00,161.58 L129.50,161.28 L130.00,161.00 L130.50,160.71 L131.00,160.43 L131.50,160.16 L132.00,159.90 L132.50,159.65 L133.00,159.39 L133.50,159.15 L134.00,158.91 L134.50,158.67 L135.00,158.43 L135.50,158.20 L136.00,157.97 L136.50,157.74 L137.00,157.50 L137.50,157.27 L138.00,157.04 L138.50,156.80 L139.00,156.56 L139.50,156.31 L140.00,156.07 L140.50,155.81 L141.00,155.55 L141.50,155.29 L142.00,155.01 L142.50,154.72 L143.00,154.43 L143.50,154.14 L144.00,153.84 L144.50,153.53 L145.00,153.23 L145.50,152.93 L146.00,152.64 L146.50,152.34 L147.00,152.06 L147.50,151.78 L148.00,151.51 L148.50,151.25 L149.00,151.00 L149.50,150.76 L150.00,150.53 L150.50,150.30 L151.00,150.08 L151.50,149.86 L152.00,149.64 L152.50,149.43 L153.00,149.22 L153.50,149.02 L154.00,148.81 L154.50,148.61 L155.00,148.41 L155.50,148.22 L156.00,148.03 L156.50,147.83 L157.00,147.64 L157.50,147.45 L158.00,147.26 L158.50,147.07 L159.00,146.88 L159.50,146.69 L160.00,146.50 L160.50,146.31 L161.00,146.12 L161.50,145.93 L162.00,145.73 L162.50,145.54 L163.00,145.34 L163.50,145.14 L164.00,144.94 L164.50,144.74 L165.00,144.53 L165.50,144.33 L166.00,144.12 L166.50,143.92 L167.00,143.71 L167.50,143.51 L168.00,143.30 L168.50,143.10 L169.00,142.89 L169.50,142.69 L170.00,142.49 L170.50,142.28 L171.00,142.08 L171.50,141.88 L172.00,141.68 L172.50,141.48 L173.00,141.28 L173.50,141.08 L174.00,140.89 L174.50,140.69 L175.00,140.50 L175.50,140.31 L176.00,140.11 L176.50,139.92 L177.00,139.72 L177.50,139.52 L178.00,139.32 L178.50,139.12 L179.00,138.91 L179.50,138.71 L180.00,138.51 L180.50,138.30 L181.00,138.10 L181.50,137.90 L182.00,137.69 L182.50,137.49 L183.00,137.29 L183.50,137.09 L184.00,136.89 L184.50,136.70 L185.00,136.50 L185.50,136.31 L186.00,136.11 L186.50,135.93 L187.00,135.74 L187.50,135.56 L188.00,135.38 L188.50,135.20 L189.00,135.02 L189.50,134.85 L190.00,134.69 L190.50,134.52 L191.00,134.37 L191.50,134.21 L192.00,134.06 L192.50,133.92 L193.00,133.78 L193.50,133.65 L194.00,133.52 L194.50,133.39 L195.00,133.28 L195.50,133.17 L196.00,133.06 L196.50,132.96 L197.00,132.87 L197.50,132.77 L198.00,132.69 L198.50,132.60 L199.00,132.52 L199.50,132.44 L200.00,132.36 L200.50,132.28 L201.00,132.20 L201.50,132.12 L202.00,132.04 L202.50,131.96 L203.00,131.87 L203.50,131.79 L204.00,131.69 L204.50,131.60 L205.00,131.50 L205.50,131.40 L206.00,131.29 L206.50,131.17 L207.00,131.05 L207.50,130.93 L208.00,130.81 L208.50,130.68 L209.00,130.56 L209.50,130.43 L210.00,130.29 L210.50,130.16 L211.00,130.03 L211.50,129.90 L212.00,129.77 L212.50,129.63 L213.00,129.51 L213.50,129.38 L214.00,129.25 L214.50,129.13 L215.00,129.01 L215.50,128.90 L216.00,128.79 L216.50,128.68 L217.00,128.58 L217.50,128.48 L218.00,128.39 L218.50,128.30 L219.00,128.21 L219.50,128.12 L220.00,128.04 L220.50,127.96 L221.00,127.88 L221.50,127.80 L222.00,127.72 L222.50,127.65 L223.00,127.57 L223.50,127.50 L224.00,127.43 L224.50,127.35 L225.00,127.28 L225.50,127.21 L226.00,127.14 L226.50,127.07 L227.00,127.00 L227.50,126.93 L228.00,126.86 L228.50,126.79 L229.00,126.71 L229.50,126.64 L230.00,126.57 L230.50,126.49 L231.00,126.42 L231.50,126.34 L232.00,126.26 L232.50,126.18 L233.00,126.10 L233.50,126.03 L234.00,125.95 L234.50,125.87 L235.00,125.80 L235.50,125.72 L236.00,125.65 L236.50,125.57 L237.00,125.50 L237.50,125.42 L238.00,125.35 L238.50,125.27 L239.00,125.20 L239.50,125.12 L240.00,125.04 L240.50,124.97 L241.00,124.89 L241.50,124.81 L242.00,124.73 L242.50,124.65 L243.00,124.56 L243.50,124.48 L244.00,124.39 L244.50,124.30 L245.00,124.21 L245.50,124.11 L246.00,124.02 L246.50,123.92 L247.00,123.82 L247.50,123.72 L248.00,123.61 L248.50,123.50 L249.00,123.39 L249.50,123.27 L250.00,123.15 L250.50,123.02 L251.00,122.89 L251.50,122.75 L252.00,122.62 L252.50,122.47 L253.00,122.32 L253.50,122.17 L254.00,122.02 L254.50,121.86 L255.00,121.70 L255.50,121.53 L256.00,121.36 L256.50,121.19 L257.00,121.01 L257.50,120.83 L258.00,120.65 L258.50,120.46 L259.00,120.27 L259.50,120.08 L260.00,119.88 L260.50,119.68 L261.00,119.47 L261.50,119.26 L262.00,119.04 L262.50,118.81 L263.00,118.58 L263.50,118.34 L264.00,118.10 L264.50,117.85 L265.00,117.60 L265.50,117.33 L266.00,117.07 L266.50,116.79 L267.00,116.52 L267.50,116.23 L268.00,115.94 L268.50,115.64 L269.00,115.34 L269.50,115.03 L270.00,114.72 L270.50,114.39 L271.00,114.07 L271.50,113.73 L272.00,113.38 L272.50,113.01 L273.00,112.63 L273.50,112.23 L274.00,111.83 L274.50,111.41 L275.00,110.98 L275.50,110.53 L276.00,110.08 L276.50,109.62 L277.00,109.15 L277.50,108.67 L278.00,108.19 L278.50,107.70 L279.00,107.20 L279.50,106.70 L280.00,106.17 L280.50,105.60 L281.00,105.01 L281.50,104.40 L282.00,103.78 L282.50,103.14 L283.00,102.51 L283.50,101.89 L284.00,101.28 L284.50,100.69 L285.00,100.13 L285.50,99.60 L286.00,99.10 L286.50,98.59 L287.00,98.10 L287.50,97.62 L288.00,97.18 L288.50,96.79 L289.00,96.46 L289.50,96.17 L290.00,95.90 L290.50,95.63 L291.00,95.38 L291.50,95.14 L292.00,94.93 L292.50,94.74 L293.00,94.57 L293.50,94.44 L294.00,94.34 L294.50,94.28 L295.00,94.22 L295.50,94.17 L296.00,94.13 L296.50,94.11 L297.00,94.10 L297.50,94.17 L298.00,94.34 L298.50,94.59 L299.00,94.89 L299.50,95.20 L300.00,95.55 L300.50,96.00 L301.00,96.51 L301.50,97.09 L302.00,97.71 L302.50,98.37 L303.00,99.08 L303.50,99.92 L304.00,100.84 L304.50,101.82 L305.00,102.82 L305.50,103.81 L306.00,104.78 L306.50,105.76 L307.00,106.75 L307.50,107.75 L308.00,108.77 L308.50,109.79 L309.00,110.82 L309.50,111.86 L310.00,112.91 L310.50,113.97 L311.00,115.06 L311.50,116.16 L312.00,117.28 L312.50,118.40 L313.00,119.56 L313.50,120.76 L314.00,122.00 L314.50,123.30 L315.00,124.66 L315.50,126.06 L316.00,127.50 L316.50,128.99 L317.00,130.52 L317.50,132.12 L318.00,133.78 L318.50,135.48 L319.00,137.18 L319.50,138.87 L320.00,140.53 L320.50,142.21 L321.00,143.90 L321.50,145.59 L322.00,147.26 L322.50,148.91 L323.00,150.52 L323.50,152.09 L324.00,153.62 L324.50,155.11 L325.00,156.58 L325.50,158.02 L326.00,159.44 L326.50,160.83 L327.00,162.19 L327.50,163.53 L328.00,164.85 L328.50,166.14 L329.00,167.42 L329.50,168.67 L330.00,169.91 L330.50,171.14 L331.00,172.36 L331.50,173.57 L332.00,174.78 L332.50,175.98 L333.00,177.19 L333.50,178.41 L334.00,179.61 L334.50,180.80 L335.00,181.97 L335.50,183.12 L336.00,184.23 L336.50,185.30 L337.00,186.36 L337.50,187.42 L338.00,188.47 L338.50,189.48 L339.00,190.42 L339.50,191.27 L340.00,192.00 L340.50,192.66 L341.00,193.30 L341.50,193.92 L342.00,194.50 L342.50,195.05 L343.00,195.55 L343.50,196.00 L344.00,196.40 L344.50,196.73 L345.00,197.00" stroke="#000080" stroke-width="1.8" stroke-dasharray="1.7,1.7"/>
<path d="M41.00,186.90 L41.50,186.87 L42.00,186.83 L42.50,186.80 L43.00,186.76 L43.50,186.72 L44.00,186.69 L44.50,186.65 L45.00,186.61 L45.50,186.57 L46.00,186.53 L46.50,186.48 L47.00,186.44 L47.50,186.40 L48.00,186.35 L48.50,186.31 L49.00,186.26 L49.50,186.21 L50.00,186.17 L50.50,186.12 L51.00,186.07 L51.50,186.02 L52.00,185.97 L52.50,185.92 L53.00,185.87 L53.50,185.81 L54.00,185.76 L54.50,185.71 L55.00,185.65 L55.50,185.60 L56.00,185.54 L56.50,185.49 L57.00,185.43 L57.50,185.38 L58.00,185.32 L58.50,185.26 L59.00,185.21 L59.50,185.15 L60.00,185.09 L60.50,185.03 L61.00,184.97 L61.50,184.91 L62.00,184.85 L62.50,184.79 L63.00,184.74 L63.50,184.68 L64.00,184.62 L64.50,184.56 L65.00,184.50 L65.50,184.44 L66.00,184.37 L66.50,184.31 L67.00,184.25 L67.50,184.18 L68.00,184.11 L68.50,184.04 L69.00,183.96 L69.50,183.89 L70.00,183.80 L70.50,183.72 L71.00,183.63 L71.50,183.54 L72.00,183.45 L72.50,183.35 L73.00,183.24 L73.50,183.13 L74.00,183.00 L74.50,182.85 L75.00,182.69 L75.50,182.51 L76.00,182.33 L76.50,182.13 L77.00,181.93 L77.50,181.72 L78.00,181.51 L78.50,181.30 L79.00,181.09 L79.50,180.89 L80.00,180.69 L80.50,180.50 L81.00,180.32 L81.50,180.14 L82.00,179.96 L82.50,179.79 L83.00,179.61 L83.50,179.44 L84.00,179.27 L84.50,179.10 L85.00,178.93 L85.50,178.75 L86.00,178.57 L86.50,178.39 L87.00,178.21 L87.50,178.02 L88.00,177.83 L88.50,177.63 L89.00,177.43 L89.50,177.22 L90.00,177.00 L90.50,176.77 L91.00,176.53 L91.50,176.27 L92.00,176.01 L92.50,175.74 L93.00,175.46 L93.50,175.17 L94.00,174.88 L94.50,174.58 L95.00,174.28 L95.50,173.99 L96.00,173.69 L96.50,173.39 L97.00,173.10 L97.50,172.82 L98.00,172.54 L98.50,172.26 L99.00,172.00 L99.50,171.75 L100.00,171.51 L100.50,171.28 L101.00,171.06 L101.50,170.85 L102.00,170.63 L102.50,170.42 L103.00,170.21 L103.50,169.99 L104.00,169.77 L104.50,169.54 L105.00,169.30 L105.50,169.05 L106.00,168.78 L106.50,168.50 L107.00,168.19 L107.50,167.87 L108.00,167.50 L108.50,167.11 L109.00,166.68 L109.50,166.22 L110.00,165.74 L110.50,165.24 L111.00,164.72 L111.50,164.18 L112.00,163.63 L112.50,163.07 L113.00,162.50 L113.50,161.90 L114.00,161.26 L114.50,160.57 L115.00,159.85 L115.50,159.10 L116.00,158.33 L116.50,157.55 L117.00,156.77 L117.50,156.00 L118.00,155.24 L118.50,154.49 L119.00,153.78 L119.50,153.10 L120.00,152.47 L120.50,151.89 L121.00,151.34 L121.50,150.82 L122.00,150.31 L122.50,149.82 L123.00,149.35 L123.50,148.89 L124.00,148.44 L124.50,148.00 L125.00,147.56 L125.50,147.13 L126.00,146.70 L126.50,146.27 L127.00,145.85 L127.50,145.44 L128.00,145.04 L128.50,144.64 L129.00,144.26 L129.50,143.88 L130.00,143.51 L130.50,143.14 L131.00,142.79 L131.50,142.45 L132.00,142.11 L132.50,141.79 L133.00,141.47 L133.50,141.16 L134.00,140.86 L134.50,140.56 L135.00,140.26 L135.50,139.97 L136.00,139.67 L136.50,139.38 L137.00,139.09 L137.50,138.79 L138.00,138.49 L138.50,138.19 L139.00,137.88 L139.50,137.56 L140.00,137.24 L140.50,136.91 L141.00,136.57 L141.50,136.22 L142.00,135.85 L142.50,135.47 L143.00,135.08 L143.50,134.68 L144.00,134.28 L144.50,133.88 L145.00,133.48 L145.50,133.08 L146.00,132.69 L146.50,132.30 L147.00,131.93 L147.50,131.57 L148.00,131.22 L148.50,130.88 L149.00,130.54 L149.50,130.21 L150.00,129.88 L150.50,129.56 L151.00,129.24 L151.50,128.93 L152.00,128.62 L152.50,128.32 L153.00,128.02 L153.50,127.73 L154.00,127.44 L154.50,127.16 L155.00,126.89 L155.50,126.62 L156.00,126.35 L156.50,126.09 L157.00,125.83 L157.50,125.57 L158.00,125.32 L158.50,125.07 L159.00,124.83 L159.50,124.58 L160.00,124.34 L160.50,124.10 L161.00,123.86 L161.50,123.63 L162.00,123.39 L162.50,123.16 L163.00,122.93 L163.50,122.69 L164.00,122.46 L164.50,122.23 L165.00,122.01 L165.50,121.78 L166.00,121.56 L166.50,121.34 L167.00,121.12 L167.50,120.90 L168.00,120.69 L168.50,120.48 L169.00,120.28 L169.50,120.08 L170.00,119.89 L170.50,119.70 L171.00,119.52 L171.50,119.34 L172.00,119.17 L172.50,119.00 L173.00,118.83 L173.50,118.67 L174.00,118.51 L174.50,118.36 L175.00,118.20 L175.50,118.04 L176.00,117.89 L176.50,117.73 L177.00,117.58 L177.50,117.42 L178.00,117.26 L178.50,117.10 L179.00,116.93 L179.50,116.76 L180.00,116.59 L180.50,116.41 L181.00,116.23 L181.50,116.05 L182.00,115.87 L182.50,115.69 L183.00,115.51 L183.50,115.34 L184.00,115.17 L184.50,115.00 L185.00,114.85 L185.50,114.70 L186.00,114.55 L186.50,114.42 L187.00,114.29 L187.50,114.16 L188.00,114.04 L188.50,113.91 L189.00,113.79 L189.50,113.67 L190.00,113.55 L190.50,113.44 L191.00,113.33 L191.50,113.22 L192.00,113.11 L192.50,113.01 L193.00,112.90 L193.50,112.80 L194.00,112.70 L194.50,112.61 L195.00,112.52 L195.50,112.42 L196.00,112.34 L196.50,112.25 L197.00,112.17 L197.50,112.08 L198.00,112.00 L198.50,111.92 L199.00,111.84 L199.50,111.75 L200.00,111.67 L200.50,111.59 L201.00,111.51 L201.50,111.42 L202.00,111.34 L202.50,111.26 L203.00,111.18 L203.50,111.11 L204.00,111.03 L204.50,110.96 L205.00,110.88 L205.50,110.81 L206.00,110.75 L206.50,110.68 L207.00,110.62 L207.50,110.56 L208.00,110.51 L208.50,110.45 L209.00,110.41 L209.50,110.36 L210.00,110.32 L210.50,110.29 L211.00,110.26 L211.50,110.23 L212.00,110.21 L212.50,110.19 L213.00,110.18 L213.50,110.16 L214.00,110.15 L214.50,110.14 L215.00,110.12 L215.50,110.11 L216.00,110.10 L216.50,110.09 L217.00,110.08 L217.50,110.07 L218.00,110.06 L218.50,110.05 L219.00,110.04 L219.50,110.03 L220.00,110.02 L220.50,110.02 L221.00,110.01 L221.50,110.01 L222.00,110.00 L222.50,110.00 L223.00,110.00 L223.50,110.00 L224.00,110.00 L224.50,110.00 L225.00,110.00 L225.50,110.00 L226.00,110.00 L226.50,110.00 L227.00,110.00 L227.50,110.00 L228.00,110.00 L228.50,110.00 L229.00,110.00 L229.50,110.00 L230.00,110.00 L230.50,110.00 L231.00,110.00 L231.50,110.00 L232.00,110.00 L232.50,110.00 L233.00,110.00 L233.50,110.00 L234.00,110.00 L234.50,110.00 L235.00,110.00 L235.50,110.00 L236.00,110.00 L236.50,110.00 L237.00,110.00 L237.50,110.00 L238.00,110.00 L238.50,110.00 L239.00,110.00 L239.50,110.00 L240.00,110.00 L240.50,110.00 L241.00,110.00 L241.50,110.00 L242.00,110.01 L242.50,110.01 L243.00,110.01 L243.50,110.02 L244.00,110.02 L244.50,110.03 L245.00,110.04 L245.50,110.04 L246.00,110.05 L246.50,110.05 L247.00,110.06 L247.50,110.07 L248.00,110.07 L248.50,110.08 L249.00,110.08 L249.50,110.09 L250.00,110.09 L250.50,110.09 L251.00,110.10 L251.50,110.10 L252.00,110.10 L252.50,110.10 L253.00,110.09 L253.50,110.06 L254.00,110.03 L254.50,109.97 L255.00,109.91 L255.50,109.84 L256.00,109.75 L256.50,109.66 L257.00,109.56 L257.50,109.45 L258.00,109.34 L258.50,109.22 L259.00,109.09 L259.50,108.96 L260.00,108.83 L260.50,108.70 L261.00,108.57 L261.50,108.43 L262.00,108.30 L262.50,108.17 L263.00,108.04 L263.50,107.92 L264.00,107.80 L264.50,107.69 L265.00,107.58 L265.50,107.47 L266.00,107.36 L266.50,107.25 L267.00,107.14 L267.50,107.03 L268.00,106.91 L268.50,106.80 L269.00,106.68 L269.50,106.57 L270.00,106.45 L270.50,106.34 L271.00,106.22 L271.50,106.11 L272.00,105.99 L272.50,105.88 L273.00,105.77 L273.50,105.67 L274.00,105.56 L274.50,105.46 L275.00,105.36 L275.50,105.26 L276.00,105.16 L276.50,105.05 L277.00,104.94 L277.50,104.83 L278.00,104.71 L278.50,104.60 L279.00,104.48 L279.50,104.37 L280.00,104.27 L280.50,104.16 L281.00,104.07 L281.50,103.98 L282.00,103.90 L282.50,103.84 L283.00,103.78 L283.50,103.74 L284.00,103.71 L284.50,103.70 L285.00,103.71 L285.50,103.75 L286.00,103.82 L286.50,103.91 L287.00,104.03 L287.50,104.17 L288.00,104.33 L288.50,104.51 L289.00,104.70 L289.50,104.90 L290.00,105.11 L290.50,105.36 L291.00,105.72 L291.50,106.19 L292.00,106.74 L292.50,107.34 L293.00,107.96 L293.50,108.58 L294.00,109.17 L294.50,109.71 L295.00,110.23 L295.50,110.73 L296.00,111.24 L296.50,111.75 L297.00,112.27 L297.50,112.82 L298.00,113.39 L298.50,114.00 L299.00,114.66 L299.50,115.38 L300.00,116.13 L300.50,116.92 L301.00,117.72 L301.50,118.53 L302.00,119.35 L302.50,120.14 L303.00,120.92 L303.50,121.68 L304.00,122.44 L304.50,123.21 L305.00,123.98 L305.50,124.78 L306.00,125.60 L306.50,126.46 L307.00,127.37 L307.50,128.30 L308.00,129.26 L308.50,130.28 L309.00,131.36 L309.50,132.51 L310.00,133.76 L310.50,135.22 L311.00,136.87 L311.50,138.58 L312.00,140.26 L312.50,141.79 L313.00,143.25 L313.50,144.67 L314.00,146.06 L314.50,147.41 L315.00,148.73 L315.50,150.01 L316.00,151.26 L316.50,152.46 L317.00,153.62 L317.50,154.76 L318.00,155.87 L318.50,156.95 L319.00,158.02 L319.50,159.08 L320.00,160.12 L320.50,161.16 L321.00,162.19 L321.50,163.22 L322.00,164.24 L322.50,165.23 L323.00,166.22 L323.50,167.20 L324.00,168.17 L324.50,169.14 L325.00,170.12 L325.50,171.10 L326.00,172.10 L326.50,173.11 L327.00,174.12 L327.50,175.14 L328.00,176.16 L328.50,177.18 L329.00,178.21 L329.50,179.23 L330.00,180.25 L330.50,181.28 L331.00,182.30 L331.50,183.32 L332.00,184.36 L332.50,185.42 L333.00,186.46 L333.50,187.49 L334.00,188.49 L334.50,189.45 L335.00,190.37 L335.50,191.33 L336.00,192.31 L336.50,193.27 L337.00,194.17 L337.50,194.95 L338.00,195.58 L338.50,196.00 L339.00,196.30 L339.50,196.59 L340.00,196.86 L340.50,197.11 L341.00,197.34 L341.50,197.55 L342.00,197.74 L342.50,197.91 L343.00,198.04 L343.50,198.15 L344.00,198.23 L344.50,198.28 L345.00,198.30" stroke="#808000" stroke-width="1.7" stroke-dasharray="3.2,2.6"/>
<path d="M41.00,181.90 L41.50,181.89 L42.00,181.87 L42.50,181.85 L43.00,181.83 L43.50,181.81 L44.00,181.78 L44.50,181.76 L45.00,181.73 L45.50,181.70 L46.00,181.66 L46.50,181.63 L47.00,181.59 L47.50,181.55 L48.00,181.50 L48.50,181.46 L49.00,181.41 L49.50,181.37 L50.00,181.32 L50.50,181.27 L51.00,181.22 L51.50,181.16 L52.00,181.11 L52.50,181.05 L53.00,180.99 L53.50,180.93 L54.00,180.87 L54.50,180.81 L55.00,180.75 L55.50,180.68 L56.00,180.62 L56.50,180.55 L57.00,180.48 L57.50,180.42 L58.00,180.35 L58.50,180.28 L59.00,180.21 L59.50,180.14 L60.00,180.07 L60.50,179.99 L61.00,179.92 L61.50,179.85 L62.00,179.78 L62.50,179.70 L63.00,179.63 L63.50,179.56 L64.00,179.48 L64.50,179.40 L65.00,179.31 L65.50,179.23 L66.00,179.13 L66.50,179.04 L67.00,178.94 L67.50,178.84 L68.00,178.73 L68.50,178.62 L69.00,178.51 L69.50,178.39 L70.00,178.27 L70.50,178.15 L71.00,178.02 L71.50,177.88 L72.00,177.75 L72.50,177.61 L73.00,177.46 L73.50,177.31 L74.00,177.14 L74.50,176.95 L75.00,176.75 L75.50,176.53 L76.00,176.31 L76.50,176.08 L77.00,175.84 L77.50,175.60 L78.00,175.37 L78.50,175.13 L79.00,174.90 L79.50,174.67 L80.00,174.43 L80.50,174.19 L81.00,173.95 L81.50,173.70 L82.00,173.46 L82.50,173.21 L83.00,172.97 L83.50,172.73 L84.00,172.50 L84.50,172.28 L85.00,172.06 L85.50,171.86 L86.00,171.66 L86.50,171.46 L87.00,171.27 L87.50,171.07 L88.00,170.86 L88.50,170.66 L89.00,170.44 L89.50,170.21 L90.00,169.97 L90.50,169.71 L91.00,169.43 L91.50,169.15 L92.00,168.85 L92.50,168.54 L93.00,168.22 L93.50,167.88 L94.00,167.52 L94.50,167.15 L95.00,166.76 L95.50,166.35 L96.00,165.92 L96.50,165.47 L97.00,165.00 L97.50,164.50 L98.00,163.95 L98.50,163.31 L99.00,162.61 L99.50,161.85 L100.00,161.06 L100.50,160.24 L101.00,159.41 L101.50,158.59 L102.00,157.78 L102.50,157.00 L103.00,156.24 L103.50,155.49 L104.00,154.73 L104.50,153.97 L105.00,153.21 L105.50,152.45 L106.00,151.69 L106.50,150.92 L107.00,150.16 L107.50,149.39 L108.00,148.62 L108.50,147.84 L109.00,147.06 L109.50,146.25 L110.00,145.42 L110.50,144.59 L111.00,143.76 L111.50,142.92 L112.00,142.10 L112.50,141.28 L113.00,140.48 L113.50,139.69 L114.00,138.94 L114.50,138.21 L115.00,137.52 L115.50,136.87 L116.00,136.25 L116.50,135.64 L117.00,135.05 L117.50,134.47 L118.00,133.91 L118.50,133.36 L119.00,132.83 L119.50,132.31 L120.00,131.80 L120.50,131.30 L121.00,130.81 L121.50,130.34 L122.00,129.87 L122.50,129.41 L123.00,128.97 L123.50,128.55 L124.00,128.14 L124.50,127.75 L125.00,127.36 L125.50,126.98 L126.00,126.60 L126.50,126.21 L127.00,125.82 L127.50,125.42 L128.00,125.00 L128.50,124.57 L129.00,124.13 L129.50,123.68 L130.00,123.22 L130.50,122.76 L131.00,122.30 L131.50,121.83 L132.00,121.36 L132.50,120.89 L133.00,120.43 L133.50,119.96 L134.00,119.50 L134.50,119.04 L135.00,118.56 L135.50,118.08 L136.00,117.59 L136.50,117.11 L137.00,116.62 L137.50,116.15 L138.00,115.68 L138.50,115.23 L139.00,114.80 L139.50,114.39 L140.00,114.00 L140.50,113.64 L141.00,113.29 L141.50,112.97 L142.00,112.65 L142.50,112.35 L143.00,112.06 L143.50,111.77 L144.00,111.49 L144.50,111.20 L145.00,110.91 L145.50,110.61 L146.00,110.31 L146.50,109.99 L147.00,109.65 L147.50,109.30 L148.00,108.92 L148.50,108.50 L149.00,108.06 L149.50,107.61 L150.00,107.14 L150.50,106.66 L151.00,106.18 L151.50,105.71 L152.00,105.26 L152.50,104.82 L153.00,104.41 L153.50,104.04 L154.00,103.70 L154.50,103.39 L155.00,103.08 L155.50,102.77 L156.00,102.48 L156.50,102.20 L157.00,101.92 L157.50,101.67 L158.00,101.42 L158.50,101.20 L159.00,101.00 L159.50,100.81 L160.00,100.66 L160.50,100.52 L161.00,100.39 L161.50,100.27 L162.00,100.16 L162.50,100.05 L163.00,99.94 L163.50,99.85 L164.00,99.75 L164.50,99.67 L165.00,99.58 L165.50,99.50 L166.00,99.43 L166.50,99.36 L167.00,99.29 L167.50,99.22 L168.00,99.16 L168.50,99.10 L169.00,99.04 L169.50,98.98 L170.00,98.92 L170.50,98.85 L171.00,98.79 L171.50,98.73 L172.00,98.67 L172.50,98.62 L173.00,98.56 L173.50,98.51 L174.00,98.46 L174.50,98.41 L175.00,98.37 L175.50,98.33 L176.00,98.29 L176.50,98.26 L177.00,98.24 L177.50,98.22 L178.00,98.21 L178.50,98.20 L179.00,98.20 L179.50,98.20 L180.00,98.20 L180.50,98.21 L181.00,98.21 L181.50,98.21 L182.00,98.22 L182.50,98.23 L183.00,98.23 L183.50,98.24 L184.00,98.25 L184.50,98.26 L185.00,98.27 L185.50,98.28 L186.00,98.29 L186.50,98.30 L187.00,98.31 L187.50,98.33 L188.00,98.34 L188.50,98.36 L189.00,98.37 L189.50,98.39 L190.00,98.40 L190.50,98.43 L191.00,98.47 L191.50,98.53 L192.00,98.60 L192.50,98.68 L193.00,98.78 L193.50,98.88 L194.00,98.99 L194.50,99.11 L195.00,99.23 L195.50,99.37 L196.00,99.50 L196.50,99.64 L197.00,99.78 L197.50,99.93 L198.00,100.07 L198.50,100.21 L199.00,100.35 L199.50,100.49 L200.00,100.62 L200.50,100.75 L201.00,100.88 L201.50,100.99 L202.00,101.11 L202.50,101.23 L203.00,101.35 L203.50,101.48 L204.00,101.60 L204.50,101.72 L205.00,101.84 L205.50,101.97 L206.00,102.09 L206.50,102.22 L207.00,102.34 L207.50,102.47 L208.00,102.60 L208.50,102.72 L209.00,102.85 L209.50,102.98 L210.00,103.11 L210.50,103.24 L211.00,103.36 L211.50,103.49 L212.00,103.62 L212.50,103.75 L213.00,103.88 L213.50,104.01 L214.00,104.14 L214.50,104.27 L215.00,104.40 L215.50,104.52 L216.00,104.65 L216.50,104.78 L217.00,104.91 L217.50,105.04 L218.00,105.17 L218.50,105.30 L219.00,105.43 L219.50,105.56 L220.00,105.69 L220.50,105.83 L221.00,105.96 L221.50,106.09 L222.00,106.23 L222.50,106.37 L223.00,106.50 L223.50,106.64 L224.00,106.78 L224.50,106.92 L225.00,107.06 L225.50,107.20 L226.00,107.35 L226.50,107.49 L227.00,107.64 L227.50,107.79 L228.00,107.94 L228.50,108.10 L229.00,108.26 L229.50,108.43 L230.00,108.60 L230.50,108.77 L231.00,108.94 L231.50,109.12 L232.00,109.29 L232.50,109.47 L233.00,109.65 L233.50,109.83 L234.00,110.00 L234.50,110.18 L235.00,110.36 L235.50,110.54 L236.00,110.71 L236.50,110.88 L237.00,111.05 L237.50,111.22 L238.00,111.38 L238.50,111.54 L239.00,111.70 L239.50,111.85 L240.00,112.00 L240.50,112.14 L241.00,112.27 L241.50,112.40 L242.00,112.53 L242.50,112.65 L243.00,112.77 L243.50,112.88 L244.00,112.99 L244.50,113.09 L245.00,113.20 L245.50,113.30 L246.00,113.40 L246.50,113.49 L247.00,113.59 L247.50,113.69 L248.00,113.78 L248.50,113.88 L249.00,113.98 L249.50,114.08 L250.00,114.18 L250.50,114.28 L251.00,114.38 L251.50,114.49 L252.00,114.60 L252.50,114.71 L253.00,114.83 L253.50,114.96 L254.00,115.08 L254.50,115.22 L255.00,115.36 L255.50,115.51 L256.00,115.66 L256.50,115.83 L257.00,116.00 L257.50,116.18 L258.00,116.36 L258.50,116.55 L259.00,116.74 L259.50,116.94 L260.00,117.13 L260.50,117.33 L261.00,117.52 L261.50,117.72 L262.00,117.90 L262.50,118.09 L263.00,118.27 L263.50,118.45 L264.00,118.63 L264.50,118.82 L265.00,119.00 L265.50,119.18 L266.00,119.36 L266.50,119.54 L267.00,119.72 L267.50,119.90 L268.00,120.08 L268.50,120.26 L269.00,120.44 L269.50,120.62 L270.00,120.80 L270.50,120.98 L271.00,121.16 L271.50,121.34 L272.00,121.52 L272.50,121.70 L273.00,121.88 L273.50,122.05 L274.00,122.23 L274.50,122.40 L275.00,122.57 L275.50,122.72 L276.00,122.87 L276.50,123.02 L277.00,123.17 L277.50,123.33 L278.00,123.49 L278.50,123.67 L279.00,123.86 L279.50,124.07 L280.00,124.30 L280.50,124.57 L281.00,124.88 L281.50,125.23 L282.00,125.62 L282.50,126.04 L283.00,126.48 L283.50,126.94 L284.00,127.41 L284.50,127.89 L285.00,128.37 L285.50,128.85 L286.00,129.32 L286.50,129.77 L287.00,130.23 L287.50,130.69 L288.00,131.16 L288.50,131.63 L289.00,132.11 L289.50,132.60 L290.00,133.10 L290.50,133.61 L291.00,134.14 L291.50,134.68 L292.00,135.24 L292.50,135.82 L293.00,136.42 L293.50,137.04 L294.00,137.69 L294.50,138.35 L295.00,139.03 L295.50,139.73 L296.00,140.45 L296.50,141.17 L297.00,141.92 L297.50,142.67 L298.00,143.44 L298.50,144.21 L299.00,144.99 L299.50,145.78 L300.00,146.59 L300.50,147.44 L301.00,148.32 L301.50,149.22 L302.00,150.11 L302.50,150.99 L303.00,151.83 L303.50,152.65 L304.00,153.44 L304.50,154.22 L305.00,155.00 L305.50,155.77 L306.00,156.54 L306.50,157.33 L307.00,158.14 L307.50,158.96 L308.00,159.82 L308.50,160.74 L309.00,161.72 L309.50,162.75 L310.00,163.80 L310.50,164.85 L311.00,165.87 L311.50,166.84 L312.00,167.72 L312.50,168.50 L313.00,169.19 L313.50,169.82 L314.00,170.42 L314.50,170.99 L315.00,171.58 L315.50,172.19 L316.00,172.86 L316.50,173.59 L317.00,174.40 L317.50,175.25 L318.00,176.15 L318.50,177.09 L319.00,178.04 L319.50,179.00 L320.00,179.97 L320.50,180.92 L321.00,181.85 L321.50,182.74 L322.00,183.59 L322.50,184.39 L323.00,185.12 L323.50,185.76 L324.00,186.34 L324.50,186.88 L325.00,187.39 L325.50,187.89 L326.00,188.36 L326.50,188.80 L327.00,189.23 L327.50,189.64 L328.00,190.03 L328.50,190.40 L329.00,190.76 L329.50,191.10 L330.00,191.43 L330.50,191.76 L331.00,192.08 L331.50,192.40 L332.00,192.71 L332.50,193.01 L333.00,193.30 L333.50,193.57 L334.00,193.82 L334.50,194.05 L335.00,194.25 L335.50,194.43 L336.00,194.57 L336.50,194.70 L337.00,194.82 L337.50,194.94 L338.00,195.06 L338.50,195.17 L339.00,195.28 L339.50,195.38 L340.00,195.48 L340.50,195.57 L341.00,195.65 L341.50,195.73 L342.00,195.80 L342.50,195.86 L343.00,195.91 L343.50,195.95 L344.00,195.98 L344.50,195.99 L345.00,196.00" stroke="#ff00ff" stroke-width="1.7" stroke-dasharray="6.2,3.3,1.6,3.3,1.6,3.3"/>
<path d="M41.00,179.60 L41.50,179.56 L42.00,179.51 L42.50,179.46 L43.00,179.41 L43.50,179.36 L44.00,179.31 L44.50,179.25 L45.00,179.20 L45.50,179.14 L46.00,179.08 L46.50,179.01 L47.00,178.95 L47.50,178.89 L48.00,178.82 L48.50,178.75 L49.00,178.68 L49.50,178.61 L50.00,178.54 L50.50,178.47 L51.00,178.39 L51.50,178.32 L52.00,178.24 L52.50,178.16 L53.00,178.08 L53.50,178.00 L54.00,177.92 L54.50,177.84 L55.00,177.76 L55.50,177.67 L56.00,177.59 L56.50,177.50 L57.00,177.41 L57.50,177.33 L58.00,177.24 L58.50,177.15 L59.00,177.06 L59.50,176.97 L60.00,176.88 L60.50,176.79 L61.00,176.70 L61.50,176.61 L62.00,176.52 L62.50,176.43 L63.00,176.34 L63.50,176.25 L64.00,176.15 L64.50,176.05 L65.00,175.94 L65.50,175.84 L66.00,175.72 L66.50,175.60 L67.00,175.48 L67.50,175.34 L68.00,175.21 L68.50,175.06 L69.00,174.90 L69.50,174.74 L70.00,174.56 L70.50,174.35 L71.00,174.10 L71.50,173.81 L72.00,173.48 L72.50,173.12 L73.00,172.74 L73.50,172.35 L74.00,171.93 L74.50,171.52 L75.00,171.09 L75.50,170.67 L76.00,170.26 L76.50,169.86 L77.00,169.48 L77.50,169.12 L78.00,168.78 L78.50,168.48 L79.00,168.20 L79.50,167.94 L80.00,167.68 L80.50,167.44 L81.00,167.21 L81.50,166.98 L82.00,166.75 L82.50,166.52 L83.00,166.30 L83.50,166.07 L84.00,165.83 L84.50,165.58 L85.00,165.33 L85.50,165.05 L86.00,164.77 L86.50,164.46 L87.00,164.14 L87.50,163.80 L88.00,163.44 L88.50,163.06 L89.00,162.67 L89.50,162.26 L90.00,161.84 L90.50,161.40 L91.00,160.96 L91.50,160.50 L92.00,160.04 L92.50,159.56 L93.00,159.08 L93.50,158.59 L94.00,158.10 L94.50,157.60 L95.00,157.08 L95.50,156.55 L96.00,156.01 L96.50,155.45 L97.00,154.88 L97.50,154.28 L98.00,153.67 L98.50,153.05 L99.00,152.40 L99.50,151.73 L100.00,151.04 L100.50,150.32 L101.00,149.54 L101.50,148.72 L102.00,147.86 L102.50,146.97 L103.00,146.06 L103.50,145.14 L104.00,144.22 L104.50,143.29 L105.00,142.39 L105.50,141.50 L106.00,140.61 L106.50,139.70 L107.00,138.77 L107.50,137.84 L108.00,136.91 L108.50,135.99 L109.00,135.08 L109.50,134.20 L110.00,133.35 L110.50,132.54 L111.00,131.79 L111.50,131.08 L112.00,130.41 L112.50,129.77 L113.00,129.16 L113.50,128.57 L114.00,127.99 L114.50,127.43 L115.00,126.88 L115.50,126.33 L116.00,125.78 L116.50,125.22 L117.00,124.66 L117.50,124.08 L118.00,123.50 L118.50,122.92 L119.00,122.34 L119.50,121.75 L120.00,121.17 L120.50,120.59 L121.00,120.02 L121.50,119.44 L122.00,118.88 L122.50,118.32 L123.00,117.76 L123.50,117.22 L124.00,116.68 L124.50,116.14 L125.00,115.61 L125.50,115.08 L126.00,114.55 L126.50,114.03 L127.00,113.52 L127.50,113.01 L128.00,112.51 L128.50,112.02 L129.00,111.54 L129.50,111.07 L130.00,110.61 L130.50,110.16 L131.00,109.71 L131.50,109.27 L132.00,108.83 L132.50,108.40 L133.00,107.98 L133.50,107.57 L134.00,107.17 L134.50,106.77 L135.00,106.39 L135.50,106.03 L136.00,105.67 L136.50,105.33 L137.00,105.00 L137.50,104.69 L138.00,104.38 L138.50,104.08 L139.00,103.79 L139.50,103.51 L140.00,103.23 L140.50,102.95 L141.00,102.67 L141.50,102.38 L142.00,102.10 L142.50,101.80 L143.00,101.50 L143.50,101.19 L144.00,100.87 L144.50,100.55 L145.00,100.23 L145.50,99.90 L146.00,99.58 L146.50,99.25 L147.00,98.93 L147.50,98.61 L148.00,98.29 L148.50,97.98 L149.00,97.67 L149.50,97.37 L150.00,97.08 L150.50,96.77 L151.00,96.45 L151.50,96.11 L152.00,95.79 L152.50,95.47 L153.00,95.18 L153.50,94.93 L154.00,94.72 L154.50,94.57 L155.00,94.49 L155.50,94.43 L156.00,94.37 L156.50,94.32 L157.00,94.27 L157.50,94.22 L158.00,94.18 L158.50,94.14 L159.00,94.11 L159.50,94.08 L160.00,94.06 L160.50,94.04 L161.00,94.02 L161.50,94.01 L162.00,94.00 L162.50,94.00 L163.00,94.00 L163.50,94.01 L164.00,94.02 L164.50,94.03 L165.00,94.05 L165.50,94.06 L166.00,94.08 L166.50,94.11 L167.00,94.13 L167.50,94.16 L168.00,94.18 L168.50,94.21 L169.00,94.24 L169.50,94.27 L170.00,94.31 L170.50,94.35 L171.00,94.40 L171.50,94.45 L172.00,94.52 L172.50,94.59 L173.00,94.67 L173.50,94.76 L174.00,94.85 L174.50,94.94 L175.00,95.04 L175.50,95.14 L176.00,95.24 L176.50,95.34 L177.00,95.44 L177.50,95.54 L178.00,95.64 L178.50,95.75 L179.00,95.86 L179.50,95.97 L180.00,96.08 L180.50,96.20 L181.00,96.32 L181.50,96.45 L182.00,96.58 L182.50,96.72 L183.00,96.86 L183.50,97.00 L184.00,97.15 L184.50,97.30 L185.00,97.46 L185.50,97.63 L186.00,97.80 L186.50,97.98 L187.00,98.19 L187.50,98.41 L188.00,98.64 L188.50,98.89 L189.00,99.15 L189.50,99.42 L190.00,99.70 L190.50,99.98 L191.00,100.27 L191.50,100.56 L192.00,100.85 L192.50,101.13 L193.00,101.41 L193.50,101.69 L194.00,101.96 L194.50,102.22 L195.00,102.47 L195.50,102.70 L196.00,102.92 L196.50,103.14 L197.00,103.35 L197.50,103.56 L198.00,103.77 L198.50,103.97 L199.00,104.16 L199.50,104.36 L200.00,104.55 L200.50,104.75 L201.00,104.94 L201.50,105.13 L202.00,105.33 L202.50,105.52 L203.00,105.72 L203.50,105.92 L204.00,106.12 L204.50,106.33 L205.00,106.54 L205.50,106.76 L206.00,106.97 L206.50,107.19 L207.00,107.41 L207.50,107.64 L208.00,107.86 L208.50,108.08 L209.00,108.31 L209.50,108.54 L210.00,108.76 L210.50,108.99 L211.00,109.22 L211.50,109.45 L212.00,109.68 L212.50,109.91 L213.00,110.14 L213.50,110.37 L214.00,110.60 L214.50,110.83 L215.00,111.05 L215.50,111.28 L216.00,111.51 L216.50,111.74 L217.00,111.97 L217.50,112.20 L218.00,112.44 L218.50,112.67 L219.00,112.90 L219.50,113.14 L220.00,113.37 L220.50,113.60 L221.00,113.84 L221.50,114.07 L222.00,114.29 L222.50,114.52 L223.00,114.75 L223.50,114.97 L224.00,115.19 L224.50,115.41 L225.00,115.63 L225.50,115.84 L226.00,116.05 L226.50,116.27 L227.00,116.48 L227.50,116.68 L228.00,116.89 L228.50,117.10 L229.00,117.30 L229.50,117.51 L230.00,117.71 L230.50,117.91 L231.00,118.11 L231.50,118.30 L232.00,118.50 L232.50,118.69 L233.00,118.88 L233.50,119.06 L234.00,119.25 L234.50,119.43 L235.00,119.61 L235.50,119.78 L236.00,119.94 L236.50,120.10 L237.00,120.25 L237.50,120.41 L238.00,120.56 L238.50,120.70 L239.00,120.85 L239.50,121.00 L240.00,121.15 L240.50,121.30 L241.00,121.45 L241.50,121.61 L242.00,121.78 L242.50,121.95 L243.00,122.12 L243.50,122.31 L244.00,122.50 L244.50,122.71 L245.00,122.93 L245.50,123.17 L246.00,123.42 L246.50,123.67 L247.00,123.94 L247.50,124.21 L248.00,124.48 L248.50,124.75 L249.00,125.01 L249.50,125.27 L250.00,125.53 L250.50,125.77 L251.00,126.00 L251.50,126.22 L252.00,126.42 L252.50,126.62 L253.00,126.81 L253.50,126.99 L254.00,127.17 L254.50,127.35 L255.00,127.53 L255.50,127.71 L256.00,127.90 L256.50,128.10 L257.00,128.30 L257.50,128.52 L258.00,128.75 L258.50,129.00 L259.00,129.27 L259.50,129.57 L260.00,129.89 L260.50,130.22 L261.00,130.58 L261.50,130.94 L262.00,131.32 L262.50,131.69 L263.00,132.07 L263.50,132.44 L264.00,132.81 L264.50,133.16 L265.00,133.50 L265.50,133.83 L266.00,134.16 L266.50,134.49 L267.00,134.82 L267.50,135.15 L268.00,135.47 L268.50,135.80 L269.00,136.12 L269.50,136.44 L270.00,136.75 L270.50,137.06 L271.00,137.37 L271.50,137.67 L272.00,137.96 L272.50,138.25 L273.00,138.53 L273.50,138.81 L274.00,139.07 L274.50,139.32 L275.00,139.56 L275.50,139.79 L276.00,140.02 L276.50,140.25 L277.00,140.48 L277.50,140.71 L278.00,140.94 L278.50,141.19 L279.00,141.44 L279.50,141.71 L280.00,142.00 L280.50,142.30 L281.00,142.61 L281.50,142.93 L282.00,143.25 L282.50,143.59 L283.00,143.94 L283.50,144.29 L284.00,144.66 L284.50,145.04 L285.00,145.42 L285.50,145.82 L286.00,146.23 L286.50,146.65 L287.00,147.09 L287.50,147.53 L288.00,147.98 L288.50,148.46 L289.00,148.95 L289.50,149.46 L290.00,149.99 L290.50,150.54 L291.00,151.10 L291.50,151.68 L292.00,152.28 L292.50,152.89 L293.00,153.52 L293.50,154.16 L294.00,154.82 L294.50,155.49 L295.00,156.17 L295.50,156.86 L296.00,157.58 L296.50,158.36 L297.00,159.18 L297.50,160.02 L298.00,160.89 L298.50,161.76 L299.00,162.63 L299.50,163.47 L300.00,164.29 L300.50,165.11 L301.00,165.94 L301.50,166.76 L302.00,167.58 L302.50,168.40 L303.00,169.21 L303.50,170.00 L304.00,170.79 L304.50,171.55 L305.00,172.30 L305.50,173.04 L306.00,173.77 L306.50,174.50 L307.00,175.22 L307.50,175.93 L308.00,176.64 L308.50,177.33 L309.00,178.02 L309.50,178.69 L310.00,179.35 L310.50,180.00 L311.00,180.63 L311.50,181.24 L312.00,181.84 L312.50,182.41 L313.00,182.99 L313.50,183.55 L314.00,184.12 L314.50,184.67 L315.00,185.20 L315.50,185.70 L316.00,186.18 L316.50,186.62 L317.00,187.02 L317.50,187.37 L318.00,187.69 L318.50,188.00 L319.00,188.30 L319.50,188.58 L320.00,188.86 L320.50,189.12 L321.00,189.37 L321.50,189.61 L322.00,189.84 L322.50,190.06 L323.00,190.27 L323.50,190.47 L324.00,190.67 L324.50,190.86 L325.00,191.05 L325.50,191.23 L326.00,191.40 L326.50,191.57 L327.00,191.74 L327.50,191.90 L328.00,192.06 L328.50,192.21 L329.00,192.35 L329.50,192.49 L330.00,192.63 L330.50,192.77 L331.00,192.90 L331.50,193.02 L332.00,193.14 L332.50,193.26 L333.00,193.38 L333.50,193.49 L334.00,193.60 L334.50,193.71 L335.00,193.81 L335.50,193.92 L336.00,194.02 L336.50,194.12 L337.00,194.22 L337.50,194.32 L338.00,194.41 L338.50,194.51 L339.00,194.60 L339.50,194.69 L340.00,194.78 L340.50,194.86 L341.00,194.94 L341.50,195.02 L342.00,195.10 L342.50,195.18 L343.00,195.25 L343.50,195.31 L344.00,195.38 L344.50,195.44 L345.00,195.50" stroke="#008080" stroke-width="1.7" stroke-dasharray="7.2,3.4,1.8,3.4"/>
<path d="M41.00,174.90 L41.50,174.87 L42.00,174.83 L42.50,174.79 L43.00,174.75 L43.50,174.71 L44.00,174.67 L44.50,174.63 L45.00,174.58 L45.50,174.53 L46.00,174.48 L46.50,174.43 L47.00,174.38 L47.50,174.32 L48.00,174.27 L48.50,174.21 L49.00,174.15 L49.50,174.09 L50.00,174.03 L50.50,173.97 L51.00,173.91 L51.50,173.84 L52.00,173.78 L52.50,173.71 L53.00,173.64 L53.50,173.58 L54.00,173.51 L54.50,173.44 L55.00,173.37 L55.50,173.30 L56.00,173.22 L56.50,173.15 L57.00,173.08 L57.50,173.00 L58.00,172.93 L58.50,172.86 L59.00,172.78 L59.50,172.71 L60.00,172.63 L60.50,172.55 L61.00,172.47 L61.50,172.39 L62.00,172.31 L62.50,172.22 L63.00,172.12 L63.50,172.02 L64.00,171.92 L64.50,171.81 L65.00,171.69 L65.50,171.57 L66.00,171.44 L66.50,171.30 L67.00,171.14 L67.50,170.96 L68.00,170.75 L68.50,170.51 L69.00,170.26 L69.50,169.99 L70.00,169.71 L70.50,169.42 L71.00,169.11 L71.50,168.80 L72.00,168.49 L72.50,168.18 L73.00,167.86 L73.50,167.54 L74.00,167.21 L74.50,166.85 L75.00,166.48 L75.50,166.10 L76.00,165.70 L76.50,165.30 L77.00,164.90 L77.50,164.50 L78.00,164.10 L78.50,163.70 L79.00,163.31 L79.50,162.94 L80.00,162.58 L80.50,162.23 L81.00,161.91 L81.50,161.60 L82.00,161.31 L82.50,161.02 L83.00,160.75 L83.50,160.48 L84.00,160.21 L84.50,159.94 L85.00,159.67 L85.50,159.39 L86.00,159.09 L86.50,158.79 L87.00,158.46 L87.50,158.12 L88.00,157.76 L88.50,157.36 L89.00,156.94 L89.50,156.46 L90.00,155.94 L90.50,155.38 L91.00,154.78 L91.50,154.15 L92.00,153.50 L92.50,152.83 L93.00,152.14 L93.50,151.45 L94.00,150.75 L94.50,150.05 L95.00,149.36 L95.50,148.67 L96.00,147.95 L96.50,147.23 L97.00,146.48 L97.50,145.73 L98.00,144.96 L98.50,144.18 L99.00,143.38 L99.50,142.58 L100.00,141.76 L100.50,140.94 L101.00,140.09 L101.50,139.23 L102.00,138.35 L102.50,137.45 L103.00,136.54 L103.50,135.62 L104.00,134.68 L104.50,133.71 L105.00,132.67 L105.50,131.59 L106.00,130.51 L106.50,129.47 L107.00,128.52 L107.50,127.68 L108.00,126.91 L108.50,126.18 L109.00,125.49 L109.50,124.83 L110.00,124.19 L110.50,123.57 L111.00,122.96 L111.50,122.36 L112.00,121.75 L112.50,121.13 L113.00,120.49 L113.50,119.83 L114.00,119.16 L114.50,118.47 L115.00,117.77 L115.50,117.07 L116.00,116.37 L116.50,115.67 L117.00,114.98 L117.50,114.30 L118.00,113.64 L118.50,113.00 L119.00,112.39 L119.50,111.80 L120.00,111.23 L120.50,110.67 L121.00,110.13 L121.50,109.59 L122.00,109.06 L122.50,108.55 L123.00,108.05 L123.50,107.56 L124.00,107.09 L124.50,106.63 L125.00,106.19 L125.50,105.77 L126.00,105.35 L126.50,104.94 L127.00,104.54 L127.50,104.14 L128.00,103.75 L128.50,103.37 L129.00,103.01 L129.50,102.66 L130.00,102.32 L130.50,102.01 L131.00,101.71 L131.50,101.44 L132.00,101.20 L132.50,100.98 L133.00,100.77 L133.50,100.58 L134.00,100.40 L134.50,100.23 L135.00,100.07 L135.50,99.91 L136.00,99.77 L136.50,99.62 L137.00,99.48 L137.50,99.34 L138.00,99.20 L138.50,99.05 L139.00,98.90 L139.50,98.74 L140.00,98.58 L140.50,98.40 L141.00,98.22 L141.50,98.02 L142.00,97.79 L142.50,97.53 L143.00,97.26 L143.50,96.97 L144.00,96.67 L144.50,96.38 L145.00,96.08 L145.50,95.79 L146.00,95.52 L146.50,95.27 L147.00,95.04 L147.50,94.85 L148.00,94.69 L148.50,94.58 L149.00,94.48 L149.50,94.39 L150.00,94.30 L150.50,94.21 L151.00,94.13 L151.50,94.05 L152.00,93.98 L152.50,93.91 L153.00,93.85 L153.50,93.79 L154.00,93.74 L154.50,93.69 L155.00,93.66 L155.50,93.63 L156.00,93.61 L156.50,93.60 L157.00,93.60 L157.50,93.64 L158.00,93.71 L158.50,93.82 L159.00,93.96 L159.50,94.12 L160.00,94.31 L160.50,94.51 L161.00,94.72 L161.50,94.95 L162.00,95.18 L162.50,95.41 L163.00,95.64 L163.50,95.87 L164.00,96.08 L164.50,96.28 L165.00,96.48 L165.50,96.69 L166.00,96.90 L166.50,97.12 L167.00,97.34 L167.50,97.56 L168.00,97.79 L168.50,98.02 L169.00,98.26 L169.50,98.50 L170.00,98.74 L170.50,98.99 L171.00,99.24 L171.50,99.50 L172.00,99.76 L172.50,100.03 L173.00,100.31 L173.50,100.60 L174.00,100.90 L174.50,101.20 L175.00,101.51 L175.50,101.82 L176.00,102.13 L176.50,102.43 L177.00,102.73 L177.50,103.03 L178.00,103.31 L178.50,103.59 L179.00,103.86 L179.50,104.12 L180.00,104.37 L180.50,104.61 L181.00,104.85 L181.50,105.08 L182.00,105.31 L182.50,105.54 L183.00,105.77 L183.50,106.00 L184.00,106.24 L184.50,106.47 L185.00,106.71 L185.50,106.96 L186.00,107.21 L186.50,107.47 L187.00,107.74 L187.50,108.03 L188.00,108.32 L188.50,108.61 L189.00,108.92 L189.50,109.23 L190.00,109.55 L190.50,109.88 L191.00,110.20 L191.50,110.53 L192.00,110.87 L192.50,111.20 L193.00,111.54 L193.50,111.87 L194.00,112.20 L194.50,112.53 L195.00,112.86 L195.50,113.20 L196.00,113.53 L196.50,113.87 L197.00,114.21 L197.50,114.56 L198.00,114.90 L198.50,115.24 L199.00,115.59 L199.50,115.93 L200.00,116.27 L200.50,116.61 L201.00,116.94 L201.50,117.27 L202.00,117.60 L202.50,117.93 L203.00,118.25 L203.50,118.57 L204.00,118.90 L204.50,119.22 L205.00,119.54 L205.50,119.86 L206.00,120.17 L206.50,120.48 L207.00,120.79 L207.50,121.10 L208.00,121.41 L208.50,121.70 L209.00,122.00 L209.50,122.29 L210.00,122.57 L210.50,122.84 L211.00,123.11 L211.50,123.37 L212.00,123.63 L212.50,123.89 L213.00,124.15 L213.50,124.41 L214.00,124.67 L214.50,124.93 L215.00,125.20 L215.50,125.47 L216.00,125.76 L216.50,126.05 L217.00,126.35 L217.50,126.66 L218.00,126.99 L218.50,127.34 L219.00,127.70 L219.50,128.07 L220.00,128.45 L220.50,128.84 L221.00,129.24 L221.50,129.63 L222.00,130.03 L222.50,130.42 L223.00,130.81 L223.50,131.19 L224.00,131.56 L224.50,131.92 L225.00,132.27 L225.50,132.61 L226.00,132.94 L226.50,133.27 L227.00,133.59 L227.50,133.91 L228.00,134.22 L228.50,134.54 L229.00,134.85 L229.50,135.15 L230.00,135.46 L230.50,135.76 L231.00,136.06 L231.50,136.36 L232.00,136.66 L232.50,136.96 L233.00,137.26 L233.50,137.55 L234.00,137.85 L234.50,138.14 L235.00,138.43 L235.50,138.72 L236.00,139.01 L236.50,139.29 L237.00,139.57 L237.50,139.85 L238.00,140.13 L238.50,140.40 L239.00,140.67 L239.50,140.94 L240.00,141.21 L240.50,141.47 L241.00,141.72 L241.50,141.98 L242.00,142.23 L242.50,142.47 L243.00,142.72 L243.50,142.96 L244.00,143.21 L244.50,143.45 L245.00,143.69 L245.50,143.93 L246.00,144.17 L246.50,144.41 L247.00,144.65 L247.50,144.90 L248.00,145.14 L248.50,145.38 L249.00,145.62 L249.50,145.86 L250.00,146.09 L250.50,146.33 L251.00,146.57 L251.50,146.80 L252.00,147.04 L252.50,147.28 L253.00,147.52 L253.50,147.76 L254.00,148.00 L254.50,148.25 L255.00,148.49 L255.50,148.75 L256.00,149.00 L256.50,149.26 L257.00,149.52 L257.50,149.78 L258.00,150.05 L258.50,150.31 L259.00,150.58 L259.50,150.86 L260.00,151.13 L260.50,151.40 L261.00,151.68 L261.50,151.96 L262.00,152.24 L262.50,152.52 L263.00,152.80 L263.50,153.08 L264.00,153.36 L264.50,153.65 L265.00,153.93 L265.50,154.22 L266.00,154.50 L266.50,154.78 L267.00,155.07 L267.50,155.35 L268.00,155.63 L268.50,155.91 L269.00,156.20 L269.50,156.48 L270.00,156.77 L270.50,157.05 L271.00,157.34 L271.50,157.63 L272.00,157.92 L272.50,158.22 L273.00,158.51 L273.50,158.81 L274.00,159.12 L274.50,159.42 L275.00,159.74 L275.50,160.05 L276.00,160.37 L276.50,160.69 L277.00,161.02 L277.50,161.35 L278.00,161.68 L278.50,162.01 L279.00,162.35 L279.50,162.68 L280.00,163.03 L280.50,163.37 L281.00,163.72 L281.50,164.08 L282.00,164.44 L282.50,164.80 L283.00,165.18 L283.50,165.55 L284.00,165.94 L284.50,166.33 L285.00,166.73 L285.50,167.13 L286.00,167.55 L286.50,167.97 L287.00,168.41 L287.50,168.86 L288.00,169.32 L288.50,169.80 L289.00,170.29 L289.50,170.79 L290.00,171.29 L290.50,171.81 L291.00,172.33 L291.50,172.85 L292.00,173.39 L292.50,173.92 L293.00,174.46 L293.50,174.99 L294.00,175.54 L294.50,176.11 L295.00,176.70 L295.50,177.30 L296.00,177.91 L296.50,178.52 L297.00,179.14 L297.50,179.75 L298.00,180.34 L298.50,180.92 L299.00,181.47 L299.50,182.00 L300.00,182.50 L300.50,182.98 L301.00,183.45 L301.50,183.92 L302.00,184.38 L302.50,184.83 L303.00,185.27 L303.50,185.70 L304.00,186.11 L304.50,186.52 L305.00,186.90 L305.50,187.27 L306.00,187.62 L306.50,187.96 L307.00,188.27 L307.50,188.56 L308.00,188.83 L308.50,189.09 L309.00,189.35 L309.50,189.59 L310.00,189.83 L310.50,190.05 L311.00,190.27 L311.50,190.49 L312.00,190.69 L312.50,190.89 L313.00,191.09 L313.50,191.28 L314.00,191.46 L314.50,191.64 L315.00,191.82 L315.50,191.99 L316.00,192.17 L316.50,192.34 L317.00,192.51 L317.50,192.68 L318.00,192.85 L318.50,193.01 L319.00,193.18 L319.50,193.34 L320.00,193.49 L320.50,193.65 L321.00,193.79 L321.50,193.94 L322.00,194.07 L322.50,194.20 L323.00,194.32 L323.50,194.43 L324.00,194.54 L324.50,194.63 L325.00,194.72 L325.50,194.80 L326.00,194.88 L326.50,194.96 L327.00,195.04 L327.50,195.12 L328.00,195.19 L328.50,195.27 L329.00,195.35 L329.50,195.42 L330.00,195.50 L330.50,195.57 L331.00,195.64 L331.50,195.71 L332.00,195.78 L332.50,195.85 L333.00,195.92 L333.50,195.98 L334.00,196.04 L334.50,196.11 L335.00,196.16 L335.50,196.22 L336.00,196.28 L336.50,196.33 L337.00,196.38 L337.50,196.43 L338.00,196.47 L338.50,196.51 L339.00,196.55 L339.50,196.59 L340.00,196.63 L340.50,196.66 L341.00,196.69 L341.50,196.71 L342.00,196.74 L342.50,196.75 L343.00,196.77 L343.50,196.78 L344.00,196.79 L344.50,196.80 L345.00,196.80" stroke="#0000ff" stroke-width="1.8" stroke-dasharray="1.7,5.8"/>
<path d="M41.00,171.60 L41.50,171.56 L42.00,171.52 L42.50,171.47 L43.00,171.42 L43.50,171.36 L44.00,171.30 L44.50,171.24 L45.00,171.17 L45.50,171.10 L46.00,171.02 L46.50,170.94 L47.00,170.85 L47.50,170.77 L48.00,170.68 L48.50,170.58 L49.00,170.49 L49.50,170.39 L50.00,170.28 L50.50,170.18 L51.00,170.07 L51.50,169.96 L52.00,169.85 L52.50,169.73 L53.00,169.61 L53.50,169.49 L54.00,169.37 L54.50,169.25 L55.00,169.13 L55.50,169.00 L56.00,168.87 L56.50,168.74 L57.00,168.61 L57.50,168.48 L58.00,168.35 L58.50,168.22 L59.00,168.08 L59.50,167.94 L60.00,167.80 L60.50,167.65 L61.00,167.49 L61.50,167.33 L62.00,167.17 L62.50,167.00 L63.00,166.82 L63.50,166.64 L64.00,166.45 L64.50,166.26 L65.00,166.06 L65.50,165.86 L66.00,165.64 L66.50,165.43 L67.00,165.20 L67.50,164.97 L68.00,164.73 L68.50,164.48 L69.00,164.23 L69.50,163.96 L70.00,163.69 L70.50,163.41 L71.00,163.12 L71.50,162.79 L72.00,162.42 L72.50,162.01 L73.00,161.58 L73.50,161.13 L74.00,160.66 L74.50,160.17 L75.00,159.69 L75.50,159.20 L76.00,158.71 L76.50,158.23 L77.00,157.77 L77.50,157.32 L78.00,156.89 L78.50,156.45 L79.00,156.02 L79.50,155.58 L80.00,155.15 L80.50,154.71 L81.00,154.27 L81.50,153.83 L82.00,153.38 L82.50,152.93 L83.00,152.47 L83.50,152.00 L84.00,151.52 L84.50,151.04 L85.00,150.55 L85.50,150.06 L86.00,149.56 L86.50,149.06 L87.00,148.55 L87.50,148.03 L88.00,147.51 L88.50,146.99 L89.00,146.45 L89.50,145.92 L90.00,145.38 L90.50,144.84 L91.00,144.31 L91.50,143.77 L92.00,143.23 L92.50,142.69 L93.00,142.13 L93.50,141.56 L94.00,140.97 L94.50,140.35 L95.00,139.72 L95.50,139.05 L96.00,138.36 L96.50,137.61 L97.00,136.81 L97.50,135.96 L98.00,135.08 L98.50,134.17 L99.00,133.24 L99.50,132.29 L100.00,131.35 L100.50,130.41 L101.00,129.48 L101.50,128.56 L102.00,127.61 L102.50,126.63 L103.00,125.64 L103.50,124.65 L104.00,123.66 L104.50,122.67 L105.00,121.70 L105.50,120.76 L106.00,119.85 L106.50,118.98 L107.00,118.16 L107.50,117.38 L108.00,116.62 L108.50,115.89 L109.00,115.17 L109.50,114.47 L110.00,113.79 L110.50,113.13 L111.00,112.48 L111.50,111.85 L112.00,111.23 L112.50,110.63 L113.00,110.05 L113.50,109.47 L114.00,108.90 L114.50,108.33 L115.00,107.77 L115.50,107.22 L116.00,106.68 L116.50,106.15 L117.00,105.65 L117.50,105.16 L118.00,104.70 L118.50,104.27 L119.00,103.87 L119.50,103.50 L120.00,103.15 L120.50,102.81 L121.00,102.47 L121.50,102.16 L122.00,101.86 L122.50,101.60 L123.00,101.36 L123.50,101.16 L124.00,101.00 L124.50,100.87 L125.00,100.74 L125.50,100.63 L126.00,100.52 L126.50,100.41 L127.00,100.32 L127.50,100.23 L128.00,100.15 L128.50,100.07 L129.00,100.00 L129.50,99.94 L130.00,99.89 L130.50,99.84 L131.00,99.80 L131.50,99.76 L132.00,99.73 L132.50,99.69 L133.00,99.65 L133.50,99.62 L134.00,99.59 L134.50,99.56 L135.00,99.53 L135.50,99.51 L136.00,99.48 L136.50,99.46 L137.00,99.44 L137.50,99.43 L138.00,99.41 L138.50,99.41 L139.00,99.40 L139.50,99.40 L140.00,99.41 L140.50,99.45 L141.00,99.49 L141.50,99.56 L142.00,99.63 L142.50,99.71 L143.00,99.80 L143.50,99.90 L144.00,99.99 L144.50,100.09 L145.00,100.19 L145.50,100.28 L146.00,100.37 L146.50,100.47 L147.00,100.57 L147.50,100.68 L148.00,100.79 L148.50,100.91 L149.00,101.03 L149.50,101.16 L150.00,101.30 L150.50,101.44 L151.00,101.59 L151.50,101.75 L152.00,101.92 L152.50,102.10 L153.00,102.29 L153.50,102.49 L154.00,102.71 L154.50,102.95 L155.00,103.22 L155.50,103.54 L156.00,103.89 L156.50,104.28 L157.00,104.68 L157.50,105.09 L158.00,105.50 L158.50,105.91 L159.00,106.35 L159.50,106.79 L160.00,107.24 L160.50,107.69 L161.00,108.14 L161.50,108.60 L162.00,109.06 L162.50,109.52 L163.00,109.97 L163.50,110.42 L164.00,110.85 L164.50,111.26 L165.00,111.67 L165.50,112.05 L166.00,112.43 L166.50,112.80 L167.00,113.16 L167.50,113.52 L168.00,113.88 L168.50,114.24 L169.00,114.60 L169.50,114.97 L170.00,115.34 L170.50,115.72 L171.00,116.12 L171.50,116.53 L172.00,116.96 L172.50,117.41 L173.00,117.89 L173.50,118.38 L174.00,118.89 L174.50,119.40 L175.00,119.92 L175.50,120.45 L176.00,120.97 L176.50,121.48 L177.00,121.99 L177.50,122.48 L178.00,122.96 L178.50,123.41 L179.00,123.84 L179.50,124.24 L180.00,124.62 L180.50,124.98 L181.00,125.33 L181.50,125.67 L182.00,126.00 L182.50,126.32 L183.00,126.64 L183.50,126.96 L184.00,127.29 L184.50,127.61 L185.00,127.95 L185.50,128.29 L186.00,128.65 L186.50,129.02 L187.00,129.41 L187.50,129.80 L188.00,130.20 L188.50,130.60 L189.00,131.01 L189.50,131.43 L190.00,131.85 L190.50,132.27 L191.00,132.69 L191.50,133.11 L192.00,133.53 L192.50,133.95 L193.00,134.37 L193.50,134.79 L194.00,135.20 L194.50,135.60 L195.00,136.00 L195.50,136.39 L196.00,136.79 L196.50,137.18 L197.00,137.57 L197.50,137.96 L198.00,138.35 L198.50,138.74 L199.00,139.13 L199.50,139.52 L200.00,139.90 L200.50,140.28 L201.00,140.66 L201.50,141.04 L202.00,141.41 L202.50,141.79 L203.00,142.16 L203.50,142.52 L204.00,142.88 L204.50,143.24 L205.00,143.60 L205.50,143.95 L206.00,144.30 L206.50,144.63 L207.00,144.97 L207.50,145.30 L208.00,145.63 L208.50,145.96 L209.00,146.28 L209.50,146.61 L210.00,146.93 L210.50,147.26 L211.00,147.59 L211.50,147.92 L212.00,148.26 L212.50,148.60 L213.00,148.95 L213.50,149.30 L214.00,149.66 L214.50,150.03 L215.00,150.39 L215.50,150.77 L216.00,151.14 L216.50,151.51 L217.00,151.88 L217.50,152.25 L218.00,152.61 L218.50,152.97 L219.00,153.33 L219.50,153.68 L220.00,154.02 L220.50,154.35 L221.00,154.67 L221.50,154.99 L222.00,155.30 L222.50,155.60 L223.00,155.91 L223.50,156.21 L224.00,156.50 L224.50,156.80 L225.00,157.09 L225.50,157.38 L226.00,157.66 L226.50,157.94 L227.00,158.22 L227.50,158.49 L228.00,158.76 L228.50,159.03 L229.00,159.30 L229.50,159.56 L230.00,159.81 L230.50,160.07 L231.00,160.32 L231.50,160.56 L232.00,160.81 L232.50,161.05 L233.00,161.28 L233.50,161.51 L234.00,161.73 L234.50,161.95 L235.00,162.16 L235.50,162.36 L236.00,162.57 L236.50,162.77 L237.00,162.97 L237.50,163.17 L238.00,163.36 L238.50,163.56 L239.00,163.76 L239.50,163.96 L240.00,164.16 L240.50,164.37 L241.00,164.57 L241.50,164.79 L242.00,165.00 L242.50,165.22 L243.00,165.45 L243.50,165.69 L244.00,165.93 L244.50,166.18 L245.00,166.44 L245.50,166.70 L246.00,166.97 L246.50,167.24 L247.00,167.52 L247.50,167.80 L248.00,168.08 L248.50,168.36 L249.00,168.65 L249.50,168.93 L250.00,169.21 L250.50,169.49 L251.00,169.77 L251.50,170.05 L252.00,170.32 L252.50,170.59 L253.00,170.85 L253.50,171.11 L254.00,171.36 L254.50,171.60 L255.00,171.84 L255.50,172.07 L256.00,172.29 L256.50,172.50 L257.00,172.71 L257.50,172.91 L258.00,173.11 L258.50,173.30 L259.00,173.49 L259.50,173.68 L260.00,173.86 L260.50,174.04 L261.00,174.22 L261.50,174.40 L262.00,174.58 L262.50,174.76 L263.00,174.93 L263.50,175.11 L264.00,175.28 L264.50,175.46 L265.00,175.63 L265.50,175.81 L266.00,175.99 L266.50,176.17 L267.00,176.35 L267.50,176.54 L268.00,176.72 L268.50,176.91 L269.00,177.09 L269.50,177.27 L270.00,177.45 L270.50,177.63 L271.00,177.81 L271.50,177.99 L272.00,178.17 L272.50,178.35 L273.00,178.53 L273.50,178.71 L274.00,178.89 L274.50,179.08 L275.00,179.26 L275.50,179.45 L276.00,179.64 L276.50,179.84 L277.00,180.03 L277.50,180.23 L278.00,180.44 L278.50,180.65 L279.00,180.86 L279.50,181.07 L280.00,181.30 L280.50,181.52 L281.00,181.76 L281.50,181.99 L282.00,182.24 L282.50,182.48 L283.00,182.73 L283.50,182.98 L284.00,183.24 L284.50,183.50 L285.00,183.75 L285.50,184.01 L286.00,184.28 L286.50,184.54 L287.00,184.80 L287.50,185.06 L288.00,185.32 L288.50,185.58 L289.00,185.84 L289.50,186.10 L290.00,186.35 L290.50,186.60 L291.00,186.85 L291.50,187.10 L292.00,187.35 L292.50,187.61 L293.00,187.86 L293.50,188.11 L294.00,188.37 L294.50,188.62 L295.00,188.88 L295.50,189.13 L296.00,189.38 L296.50,189.63 L297.00,189.87 L297.50,190.11 L298.00,190.35 L298.50,190.59 L299.00,190.82 L299.50,191.05 L300.00,191.27 L300.50,191.51 L301.00,191.74 L301.50,191.98 L302.00,192.21 L302.50,192.44 L303.00,192.67 L303.50,192.90 L304.00,193.11 L304.50,193.32 L305.00,193.52 L305.50,193.71 L306.00,193.89 L306.50,194.05 L307.00,194.20 L307.50,194.32 L308.00,194.44 L308.50,194.56 L309.00,194.67 L309.50,194.78 L310.00,194.88 L310.50,194.98 L311.00,195.07 L311.50,195.16 L312.00,195.25 L312.50,195.33 L313.00,195.41 L313.50,195.48 L314.00,195.55 L314.50,195.62 L315.00,195.68 L315.50,195.74 L316.00,195.80 L316.50,195.85 L317.00,195.91 L317.50,195.96 L318.00,196.01 L318.50,196.06 L319.00,196.11 L319.50,196.15 L320.00,196.20 L320.50,196.24 L321.00,196.29 L321.50,196.33 L322.00,196.37 L322.50,196.40 L323.00,196.44 L323.50,196.48 L324.00,196.51 L324.50,196.54 L325.00,196.57 L325.50,196.60 L326.00,196.63 L326.50,196.66 L327.00,196.69 L327.50,196.71 L328.00,196.73 L328.50,196.76 L329.00,196.78 L329.50,196.81 L330.00,196.83 L330.50,196.85 L331.00,196.88 L331.50,196.90 L332.00,196.92 L332.50,196.95 L333.00,196.97 L333.50,196.99 L334.00,197.01 L334.50,197.03 L335.00,197.05 L335.50,197.07 L336.00,197.09 L336.50,197.11 L337.00,197.13 L337.50,197.14 L338.00,197.16 L338.50,197.18 L339.00,197.19 L339.50,197.20 L340.00,197.22 L340.50,197.23 L341.00,197.24 L341.50,197.25 L342.00,197.26 L342.50,197.27 L343.00,197.28 L343.50,197.29 L344.00,197.29 L344.50,197.30 L345.00,197.30" stroke="#ff0000" stroke-width="1.7" stroke-dasharray="6.3,6"/>
<path d="M41.00,36.00 L41.50,35.83 L42.00,35.64 L42.50,35.42 L43.00,35.18 L43.50,34.91 L44.00,34.63 L44.50,34.33 L45.00,34.03 L45.50,33.72 L46.00,33.40 L46.50,33.08 L47.00,32.77 L47.50,32.47 L48.00,32.17 L48.50,31.89 L49.00,31.60 L49.50,31.30 L50.00,30.99 L50.50,30.69 L51.00,30.40 L51.50,30.12 L52.00,29.86 L52.50,29.62 L53.00,29.41 L53.50,29.23 L54.00,29.06 L54.50,28.89 L55.00,28.72 L55.50,28.55 L56.00,28.39 L56.50,28.25 L57.00,28.11 L57.50,27.99 L58.00,27.89 L58.50,27.81 L59.00,27.75 L59.50,27.71 L60.00,27.70 L60.50,27.71 L61.00,27.73 L61.50,27.75 L62.00,27.79 L62.50,27.83 L63.00,27.88 L63.50,27.94 L64.00,28.01 L64.50,28.07 L65.00,28.15 L65.50,28.22 L66.00,28.30 L66.50,28.39 L67.00,28.52 L67.50,28.67 L68.00,28.84 L68.50,29.03 L69.00,29.23 L69.50,29.45 L70.00,29.68 L70.50,29.91 L71.00,30.14 L71.50,30.40 L72.00,30.69 L72.50,30.99 L73.00,31.31 L73.50,31.65 L74.00,32.01 L74.50,32.37 L75.00,32.75 L75.50,33.16 L76.00,33.59 L76.50,34.05 L77.00,34.52 L77.50,35.02 L78.00,35.53 L78.50,36.06 L79.00,36.60 L79.50,37.16 L80.00,37.74 L80.50,38.34 L81.00,38.96 L81.50,39.61 L82.00,40.27 L82.50,40.96 L83.00,41.66 L83.50,42.38 L84.00,43.13 L84.50,43.90 L85.00,44.71 L85.50,45.54 L86.00,46.41 L86.50,47.30 L87.00,48.24 L87.50,49.24 L88.00,50.28 L88.50,51.34 L89.00,52.42 L89.50,53.50 L90.00,54.58 L90.50,55.68 L91.00,56.79 L91.50,57.92 L92.00,59.05 L92.50,60.20 L93.00,61.35 L93.50,62.52 L94.00,63.69 L94.50,64.88 L95.00,66.07 L95.50,67.28 L96.00,68.50 L96.50,69.74 L97.00,71.01 L97.50,72.30 L98.00,73.60 L98.50,74.90 L99.00,76.19 L99.50,77.45 L100.00,78.68 L100.50,79.87 L101.00,81.02 L101.50,82.15 L102.00,83.26 L102.50,84.35 L103.00,85.45 L103.50,86.55 L104.00,87.67 L104.50,88.79 L105.00,89.91 L105.50,91.03 L106.00,92.15 L106.50,93.28 L107.00,94.40 L107.50,95.51 L108.00,96.63 L108.50,97.75 L109.00,98.86 L109.50,99.96 L110.00,101.07 L110.50,102.18 L111.00,103.28 L111.50,104.39 L112.00,105.51 L112.50,106.62 L113.00,107.75 L113.50,108.88 L114.00,110.01 L114.50,111.15 L115.00,112.29 L115.50,113.42 L116.00,114.55 L116.50,115.67 L117.00,116.80 L117.50,117.92 L118.00,119.04 L118.50,120.15 L119.00,121.27 L119.50,122.39 L120.00,123.50 L120.50,124.62 L121.00,125.74 L121.50,126.85 L122.00,127.97 L122.50,129.08 L123.00,130.19 L123.50,131.28 L124.00,132.37 L124.50,133.45 L125.00,134.53 L125.50,135.61 L126.00,136.67 L126.50,137.72 L127.00,138.77 L127.50,139.80 L128.00,140.81 L128.50,141.82 L129.00,142.82 L129.50,143.81 L130.00,144.79 L130.50,145.76 L131.00,146.71 L131.50,147.65 L132.00,148.57 L132.50,149.48 L133.00,150.37 L133.50,151.26 L134.00,152.13 L134.50,152.99 L135.00,153.83 L135.50,154.66 L136.00,155.46 L136.50,156.25 L137.00,157.02 L137.50,157.78 L138.00,158.53 L138.50,159.26 L139.00,159.98 L139.50,160.68 L140.00,161.36 L140.50,162.04 L141.00,162.71 L141.50,163.38 L142.00,164.04 L142.50,164.69 L143.00,165.34 L143.50,165.98 L144.00,166.60 L144.50,167.22 L145.00,167.82 L145.50,168.41 L146.00,168.98 L146.50,169.54 L147.00,170.08 L147.50,170.60 L148.00,171.10 L148.50,171.60 L149.00,172.09 L149.50,172.56 L150.00,173.03 L150.50,173.50 L151.00,173.95 L151.50,174.40 L152.00,174.83 L152.50,175.26 L153.00,175.69 L153.50,176.10 L154.00,176.51 L154.50,176.91 L155.00,177.31 L155.50,177.69 L156.00,178.08 L156.50,178.45 L157.00,178.82 L157.50,179.18 L158.00,179.54 L158.50,179.90 L159.00,180.25 L159.50,180.60 L160.00,180.94 L160.50,181.28 L161.00,181.62 L161.50,181.95 L162.00,182.28 L162.50,182.60 L163.00,182.92 L163.50,183.24 L164.00,183.54 L164.50,183.85 L165.00,184.14 L165.50,184.44 L166.00,184.72 L166.50,185.00 L167.00,185.28 L167.50,185.54 L168.00,185.81 L168.50,186.06 L169.00,186.31 L169.50,186.55 L170.00,186.79 L170.50,187.02 L171.00,187.26 L171.50,187.50 L172.00,187.73 L172.50,187.96 L173.00,188.19 L173.50,188.41 L174.00,188.63 L174.50,188.84 L175.00,189.05 L175.50,189.25 L176.00,189.44 L176.50,189.62 L177.00,189.79 L177.50,189.95 L178.00,190.10 L178.50,190.24 L179.00,190.37 L179.50,190.48 L180.00,190.58 L180.50,190.66 L181.00,190.74 L181.50,190.80 L182.00,190.86 L182.50,190.92 L183.00,190.98 L183.50,191.05 L184.00,191.12 L184.50,191.20 L185.00,191.30 L185.50,191.42 L186.00,191.57 L186.50,191.74 L187.00,191.92 L187.50,192.11 L188.00,192.30 L188.50,192.48 L189.00,192.64 L189.50,192.78 L190.00,192.92 L190.50,193.06 L191.00,193.20 L191.50,193.33 L192.00,193.46 L192.50,193.58 L193.00,193.70 L193.50,193.82 L194.00,193.93 L194.50,194.03 L195.00,194.13 L195.50,194.22 L196.00,194.30 L196.50,194.39 L197.00,194.47 L197.50,194.55 L198.00,194.63 L198.50,194.71 L199.00,194.78 L199.50,194.85 L200.00,194.92 L200.50,194.99 L201.00,195.06 L201.50,195.12 L202.00,195.18 L202.50,195.24 L203.00,195.30 L203.50,195.36 L204.00,195.41 L204.50,195.47 L205.00,195.52 L205.50,195.57 L206.00,195.62 L206.50,195.67 L207.00,195.71 L207.50,195.76 L208.00,195.81 L208.50,195.85 L209.00,195.89 L209.50,195.94 L210.00,195.98 L210.50,196.02 L211.00,196.06 L211.50,196.10 L212.00,196.13 L212.50,196.17 L213.00,196.21 L213.50,196.24 L214.00,196.27 L214.50,196.30 L215.00,196.33 L215.50,196.36 L216.00,196.39 L216.50,196.42 L217.00,196.44 L217.50,196.47 L218.00,196.49 L218.50,196.52 L219.00,196.54 L219.50,196.57 L220.00,196.59 L220.50,196.61 L221.00,196.64 L221.50,196.66 L222.00,196.68 L222.50,196.70 L223.00,196.72 L223.50,196.74 L224.00,196.76 L224.50,196.78 L225.00,196.80 L225.50,196.82 L226.00,196.84 L226.50,196.85 L227.00,196.87 L227.50,196.89 L228.00,196.90 L228.50,196.92 L229.00,196.93 L229.50,196.95 L230.00,196.96 L230.50,196.97 L231.00,196.98 L231.50,197.00 L232.00,197.01 L232.50,197.02 L233.00,197.03 L233.50,197.04 L234.00,197.05 L234.50,197.06 L235.00,197.07 L235.50,197.08 L236.00,197.09 L236.50,197.10 L237.00,197.11 L237.50,197.12 L238.00,197.13 L238.50,197.14 L239.00,197.14 L239.50,197.15 L240.00,197.16 L240.50,197.17 L241.00,197.18 L241.50,197.19 L242.00,197.20 L242.50,197.20 L243.00,197.21 L243.50,197.22 L244.00,197.23 L244.50,197.23 L245.00,197.24 L245.50,197.25 L246.00,197.26 L246.50,197.26 L247.00,197.27 L247.50,197.28 L248.00,197.28 L248.50,197.29 L249.00,197.30 L249.50,197.30 L250.00,197.31 L250.50,197.31 L251.00,197.32 L251.50,197.33 L252.00,197.33 L252.50,197.34 L253.00,197.34 L253.50,197.35 L254.00,197.35 L254.50,197.36 L255.00,197.36 L255.50,197.37 L256.00,197.37 L256.50,197.37 L257.00,197.38 L257.50,197.38 L258.00,197.39 L258.50,197.39 L259.00,197.39 L259.50,197.40 L260.00,197.40 L260.50,197.40 L261.00,197.41 L261.50,197.41 L262.00,197.41 L262.50,197.42 L263.00,197.42 L263.50,197.42 L264.00,197.42 L264.50,197.43 L265.00,197.43 L265.50,197.43 L266.00,197.44 L266.50,197.44 L267.00,197.44 L267.50,197.45 L268.00,197.45 L268.50,197.45 L269.00,197.45 L269.50,197.46 L270.00,197.46 L270.50,197.46 L271.00,197.47 L271.50,197.47 L272.00,197.47 L272.50,197.47 L273.00,197.48 L273.50,197.48 L274.00,197.48 L274.50,197.49 L275.00,197.49 L275.50,197.49 L276.00,197.49 L276.50,197.50 L277.00,197.50 L277.50,197.50 L278.00,197.50 L278.50,197.51 L279.00,197.51 L279.50,197.51 L280.00,197.52 L280.50,197.52 L281.00,197.52 L281.50,197.52 L282.00,197.53 L282.50,197.53 L283.00,197.53 L283.50,197.53 L284.00,197.54 L284.50,197.54 L285.00,197.54 L285.50,197.54 L286.00,197.55 L286.50,197.55 L287.00,197.55 L287.50,197.55 L288.00,197.56 L288.50,197.56 L289.00,197.56 L289.50,197.56 L290.00,197.56 L290.50,197.57 L291.00,197.57 L291.50,197.57 L292.00,197.57 L292.50,197.58 L293.00,197.58 L293.50,197.58 L294.00,197.58 L294.50,197.58 L295.00,197.59 L295.50,197.59 L296.00,197.59 L296.50,197.59 L297.00,197.60 L297.50,197.60 L298.00,197.60 L298.50,197.60 L299.00,197.60 L299.50,197.61 L300.00,197.61 L300.50,197.61 L301.00,197.61 L301.50,197.61 L302.00,197.61 L302.50,197.62 L303.00,197.62 L303.50,197.62 L304.00,197.62 L304.50,197.62 L305.00,197.63 L305.50,197.63 L306.00,197.63 L306.50,197.63 L307.00,197.63 L307.50,197.63 L308.00,197.64 L308.50,197.64 L309.00,197.64 L309.50,197.64 L310.00,197.64 L310.50,197.64 L311.00,197.65 L311.50,197.65 L312.00,197.65 L312.50,197.65 L313.00,197.65 L313.50,197.65 L314.00,197.65 L314.50,197.66 L315.00,197.66 L315.50,197.66 L316.00,197.66 L316.50,197.66 L317.00,197.66 L317.50,197.66 L318.00,197.67 L318.50,197.67 L319.00,197.67 L319.50,197.67 L320.00,197.67 L320.50,197.67 L321.00,197.67 L321.50,197.67 L322.00,197.67 L322.50,197.68 L323.00,197.68 L323.50,197.68 L324.00,197.68 L324.50,197.68 L325.00,197.68 L325.50,197.68 L326.00,197.68 L326.50,197.68 L327.00,197.68 L327.50,197.69 L328.00,197.69 L328.50,197.69 L329.00,197.69 L329.50,197.69 L330.00,197.69 L330.50,197.69 L331.00,197.69 L331.50,197.69 L332.00,197.69 L332.50,197.69 L333.00,197.69 L333.50,197.69 L334.00,197.69 L334.50,197.69 L335.00,197.70 L335.50,197.70 L336.00,197.70 L336.50,197.70 L337.00,197.70 L337.50,197.70 L338.00,197.70 L338.50,197.70 L339.00,197.70 L339.50,197.70 L340.00,197.70 L340.50,197.70 L341.00,197.70 L341.50,197.70 L342.00,197.70 L342.50,197.70 L343.00,197.70 L343.50,197.70 L344.00,197.70 L344.50,197.70 L345.00,197.70" stroke="#000000" stroke-width="1.5"/>
</g>
<rect x="166" y="9.2" width="177.8" height="83.8" fill="#fff"/>
<path d="M41.1,198.50 h4 M344.4,198.50 h-4 M41.1,186.62 h2 M344.4,186.62 h-2 M41.1,174.75 h4 M344.4,174.75 h-4 M41.1,162.88 h2 M344.4,162.88 h-2 M41.1,151.00 h4 M344.4,151.00 h-4 M41.1,139.12 h2 M344.4,139.12 h-2 M41.1,127.25 h4 M344.4,127.25 h-4 M41.1,115.38 h2 M344.4,115.38 h-2 M41.1,103.50 h4 M344.4,103.50 h-4 M41.1,91.62 h2 M344.4,91.62 h-2 M41.1,79.75 h4 M344.4,79.75 h-4 M41.1,67.88 h2 M344.4,67.88 h-2 M41.1,56.00 h4 M344.4,56.00 h-4 M41.1,44.12 h2 M344.4,44.12 h-2 M41.1,32.25 h4 M344.4,32.25 h-4 M41.1,20.38 h2 M344.4,20.38 h-2 M41.1,8.50 h4 M344.4,8.50 h-4 M42.34,198.5 v-2 M43.81,198.5 v-2 M41.61,8.5 v2 M45.12,198.5 v-4 M42.92,8.5 v4 M53.77,198.5 v-2 M51.57,8.5 v2 M58.82,198.5 v-2 M56.62,8.5 v2 M62.41,198.5 v-2 M60.21,8.5 v2 M65.19,198.5 v-2 M62.99,8.5 v2 M67.47,198.5 v-2 M65.27,8.5 v2 M69.39,198.5 v-2 M67.19,8.5 v2 M71.06,198.5 v-2 M68.86,8.5 v2 M72.53,198.5 v-2 M70.33,8.5 v2 M73.84,198.5 v-4 M71.64,8.5 v4 M82.49,198.5 v-2 M80.29,8.5 v2 M87.54,198.5 v-2 M85.34,8.5 v2 M91.13,198.5 v-2 M88.93,8.5 v2 M93.91,198.5 v-2 M91.71,8.5 v2 M96.19,198.5 v-2 M93.99,8.5 v2 M98.11,198.5 v-2 M95.91,8.5 v2 M99.78,198.5 v-2 M97.58,8.5 v2 M101.25,198.5 v-2 M99.05,8.5 v2 M102.56,198.5 v-4 M100.36,8.5 v4 M111.21,198.5 v-2 M109.01,8.5 v2 M116.26,198.5 v-2 M114.06,8.5 v2 M119.85,198.5 v-2 M117.65,8.5 v2 M122.63,198.5 v-2 M120.43,8.5 v2 M124.91,198.5 v-2 M122.71,8.5 v2 M126.83,198.5 v-2 M124.63,8.5 v2 M128.50,198.5 v-2 M126.30,8.5 v2 M129.97,198.5 v-2 M127.77,8.5 v2 M131.28,198.5 v-4 M129.08,8.5 v4 M139.93,198.5 v-2 M137.73,8.5 v2 M144.98,198.5 v-2 M142.78,8.5 v2 M148.57,198.5 v-2 M146.37,8.5 v2 M151.35,198.5 v-2 M149.15,8.5 v2 M153.63,198.5 v-2 M151.43,8.5 v2 M155.55,198.5 v-2 M153.35,8.5 v2 M157.22,198.5 v-2 M155.02,8.5 v2 M158.69,198.5 v-2 M156.49,8.5 v2 M160.00,198.5 v-4 M157.80,8.5 v4 M168.65,198.5 v-2 M166.45,8.5 v2 M173.70,198.5 v-2 M171.50,8.5 v2 M177.29,198.5 v-2 M175.09,8.5 v2 M180.07,198.5 v-2 M177.87,8.5 v2 M182.35,198.5 v-2 M180.15,8.5 v2 M184.27,198.5 v-2 M182.07,8.5 v2 M185.94,198.5 v-2 M183.74,8.5 v2 M187.41,198.5 v-2 M185.21,8.5 v2 M188.72,198.5 v-4 M186.52,8.5 v4 M197.37,198.5 v-2 M195.17,8.5 v2 M202.42,198.5 v-2 M200.22,8.5 v2 M206.01,198.5 v-2 M203.81,8.5 v2 M208.79,198.5 v-2 M206.59,8.5 v2 M211.07,198.5 v-2 M208.87,8.5 v2 M212.99,198.5 v-2 M210.79,8.5 v2 M214.66,198.5 v-2 M212.46,8.5 v2 M216.13,198.5 v-2 M213.93,8.5 v2 M217.44,198.5 v-4 M215.24,8.5 v4 M226.09,198.5 v-2 M223.89,8.5 v2 M231.14,198.5 v-2 M228.94,8.5 v2 M234.73,198.5 v-2 M232.53,8.5 v2 M237.51,198.5 v-2 M235.31,8.5 v2 M239.79,198.5 v-2 M237.59,8.5 v2 M241.71,198.5 v-2 M239.51,8.5 v2 M243.38,198.5 v-2 M241.18,8.5 v2 M244.85,198.5 v-2 M242.65,8.5 v2 M246.16,198.5 v-4 M243.96,8.5 v4 M254.81,198.5 v-2 M252.61,8.5 v2 M259.86,198.5 v-2 M257.66,8.5 v2 M263.45,198.5 v-2 M261.25,8.5 v2 M266.23,198.5 v-2 M264.03,8.5 v2 M268.51,198.5 v-2 M266.31,8.5 v2 M270.43,198.5 v-2 M268.23,8.5 v2 M272.10,198.5 v-2 M269.90,8.5 v2 M273.57,198.5 v-2 M271.37,8.5 v2 M274.88,198.5 v-4 M272.68,8.5 v4 M283.53,198.5 v-2 M281.33,8.5 v2 M288.58,198.5 v-2 M286.38,8.5 v2 M292.17,198.5 v-2 M289.97,8.5 v2 M294.95,198.5 v-2 M292.75,8.5 v2 M297.23,198.5 v-2 M295.03,8.5 v2 M299.15,198.5 v-2 M296.95,8.5 v2 M300.82,198.5 v-2 M298.62,8.5 v2 M302.29,198.5 v-2 M300.09,8.5 v2 M303.60,198.5 v-4 M301.40,8.5 v4 M312.25,198.5 v-2 M310.05,8.5 v2 M317.30,198.5 v-2 M315.10,8.5 v2 M320.89,198.5 v-2 M318.69,8.5 v2 M323.67,198.5 v-2 M321.47,8.5 v2 M325.95,198.5 v-2 M323.75,8.5 v2 M327.87,198.5 v-2 M325.67,8.5 v2 M329.54,198.5 v-2 M327.34,8.5 v2 M331.01,198.5 v-2 M328.81,8.5 v2 M332.32,198.5 v-4 M330.12,8.5 v4 M340.97,198.5 v-2 M338.77,8.5 v2" stroke="#111" stroke-width="1" fill="none"/>
<rect x="41.1" y="8.5" width="303.29999999999995" height="190.0" fill="none" stroke="#111" stroke-width="1.25"/>
<text x="36.5" y="204.00" text-anchor="end" font-size="18">0</text>
<text x="36.5" y="180.25" text-anchor="end" font-size="18">1</text>
<text x="36.5" y="156.50" text-anchor="end" font-size="18">2</text>
<text x="36.5" y="132.75" text-anchor="end" font-size="18">3</text>
<text x="36.5" y="109.00" text-anchor="end" font-size="18">4</text>
<text x="36.5" y="85.25" text-anchor="end" font-size="18">5</text>
<text x="36.5" y="61.50" text-anchor="end" font-size="18">6</text>
<text x="36.5" y="37.75" text-anchor="end" font-size="18">7</text>
<text x="36.5" y="14.00" text-anchor="end" font-size="18">8</text>
<text x="59.02" y="221.3" font-size="18" transform="translate(59.02 0) scale(1.0 1) translate(-59.02 0)">10</text>
<text x="79.84" y="211.5" font-size="11.5" transform="translate(79.84 0) scale(1.0 1) translate(-79.84 0)">-8</text>
<text x="116.46" y="221.3" font-size="18" transform="translate(116.46 0) scale(1.0 1) translate(-116.46 0)">10</text>
<text x="137.28" y="211.5" font-size="11.5" transform="translate(137.28 0) scale(1.0 1) translate(-137.28 0)">-6</text>
<text x="173.90" y="221.3" font-size="18" transform="translate(173.90 0) scale(1.0 1) translate(-173.90 0)">10</text>
<text x="194.72" y="211.5" font-size="11.5" transform="translate(194.72 0) scale(1.0 1) translate(-194.72 0)">-4</text>
<text x="231.34" y="221.3" font-size="18" transform="translate(231.34 0) scale(1.0 1) translate(-231.34 0)">10</text>
<text x="252.16" y="211.5" font-size="11.5" transform="translate(252.16 0) scale(1.0 1) translate(-252.16 0)">-2</text>
<text x="290.70" y="221.3" font-size="18" transform="translate(290.70 0) scale(1.0 1) translate(-290.70 0)">10</text>
<text x="311.51" y="211.5" font-size="11.5" transform="translate(311.51 0) scale(1.0 1) translate(-311.51 0)">0</text>
<text x="129.3" y="237.2" font-size="19" transform="translate(129.3 0) scale(1.01 1) translate(-129.3 0)">energy (MeV)</text>
<text transform="translate(18.6 177.3) rotate(-90) scale(1.015 1)" x="0" y="0" font-size="19">response (cm<tspan font-size="11.0" dy="-10.1">2</tspan><tspan dy="10.1">)</tspan></text>
<text x="132.5" y="37.5" font-size="18" transform="translate(132.5 0) scale(1.1 1) translate(-132.5 0)">(a)</text>
<path d="M181,16.30 H214" stroke="#000000" stroke-width="1.9"/>
<text x="217.5" y="21.20" font-size="13.8" font-weight="bold" transform="translate(217.5 0) scale(1.0 1) translate(-217.5 0)">bare</text>
<path d="M181,33.65 H214" stroke="#ff0000" stroke-width="1.9" stroke-dasharray="6.3,6"/>
<text x="217.5" y="38.55" font-size="13.8" font-weight="bold" transform="translate(217.5 0) scale(1.0 1) translate(-217.5 0)">2.5in.</text>
<path d="M181,51.00 H214" stroke="#0000ff" stroke-width="1.9" stroke-dasharray="1.7,5.8"/>
<text x="217.5" y="55.90" font-size="13.8" font-weight="bold" transform="translate(217.5 0) scale(1.0 1) translate(-217.5 0)">3in.</text>
<path d="M181,68.35 H214" stroke="#008080" stroke-width="1.9" stroke-dasharray="7.2,3.4,1.8,3.4"/>
<text x="217.5" y="73.25" font-size="13.8" font-weight="bold" transform="translate(217.5 0) scale(1.0 1) translate(-217.5 0)">3.5in.</text>
<path d="M181,85.70 H214" stroke="#ff00ff" stroke-width="1.9" stroke-dasharray="6.2,3.3,1.6,3.3,1.6,3.3"/>
<text x="217.5" y="90.60" font-size="13.8" font-weight="bold" transform="translate(217.5 0) scale(1.0 1) translate(-217.5 0)">4in.</text>
<path d="M269.8,16.30 H302.8" stroke="#808000" stroke-width="1.9" stroke-dasharray="3.8,2.1"/>
<text x="307.3" y="21.20" font-size="13.8" font-weight="bold" transform="translate(307.3 0) scale(1.0 1) translate(-307.3 0)">5in.</text>
<path d="M269.8,33.65 H302.8" stroke="#000080" stroke-width="1.9" stroke-dasharray="1.7,1.7"/>
<text x="307.3" y="38.55" font-size="13.8" font-weight="bold" transform="translate(307.3 0) scale(1.0 1) translate(-307.3 0)">6in.</text>
<path d="M269.8,51.00 H302.8" stroke="#800000" stroke-width="1.9" stroke-dasharray="4.8,2.2,1.4,2.2"/>
<text x="307.3" y="55.90" font-size="13.8" font-weight="bold" transform="translate(307.3 0) scale(1.0 1) translate(-307.3 0)">8in.</text>
<path d="M269.8,68.35 H302.8" stroke="#00ff00" stroke-width="1.9" stroke-dasharray="1.2,1.3"/>
<text x="307.3" y="73.25" font-size="13.8" font-weight="bold" transform="translate(307.3 0) scale(1.0 1) translate(-307.3 0)">10in.</text>
<path d="M269.8,85.70 H302.8" stroke="#008000" stroke-width="1.9" stroke-dasharray="6.3,6"/>
<text x="307.3" y="90.60" font-size="13.8" font-weight="bold" transform="translate(307.3 0) scale(1.0 1) translate(-307.3 0)">12in.</text>
<clipPath id="clipb"><rect x="403.6" y="8.5" width="295.0" height="188.0"/></clipPath>
<path d="M403.6,173.00 H698.6 M403.6,149.50 H698.6 M403.6,126.00 H698.6 M403.6,102.50 H698.6 M403.6,79.00 H698.6 M403.6,55.50 H698.6 M403.6,32.00 H698.6" stroke="#c8c8c8" stroke-width="1" stroke-dasharray="2.2,0.9" fill="none"/>
<path d="M407.47,8.5 V196.5 M435.44,8.5 V196.5 M463.41,8.5 V196.5 M491.38,8.5 V196.5 M519.35,8.5 V196.5 M547.32,8.5 V196.5 M575.29,8.5 V196.5 M603.26,8.5 V196.5 M631.23,8.5 V196.5 M659.20,8.5 V196.5 M687.17,8.5 V196.5" stroke="#dedede" stroke-width="1" stroke-dasharray="1.3,1.7" fill="none"/>
<g clip-path="url(#clipb)" fill="none" stroke-linejoin="round">
<path d="M403.00,196.20 L403.50,196.20 L404.00,196.19 L404.50,196.19 L405.00,196.19 L405.50,196.19 L406.00,196.18 L406.50,196.18 L407.00,196.18 L407.50,196.17 L408.00,196.17 L408.50,196.17 L409.00,196.17 L409.50,196.16 L410.00,196.16 L410.50,196.16 L411.00,196.15 L411.50,196.15 L412.00,196.15 L412.50,196.14 L413.00,196.14 L413.50,196.14 L414.00,196.13 L414.50,196.13 L415.00,196.13 L415.50,196.12 L416.00,196.12 L416.50,196.11 L417.00,196.11 L417.50,196.11 L418.00,196.10 L418.50,196.10 L419.00,196.10 L419.50,196.09 L420.00,196.09 L420.50,196.08 L421.00,196.08 L421.50,196.08 L422.00,196.07 L422.50,196.07 L423.00,196.06 L423.50,196.06 L424.00,196.05 L424.50,196.05 L425.00,196.05 L425.50,196.04 L426.00,196.04 L426.50,196.03 L427.00,196.03 L427.50,196.02 L428.00,196.02 L428.50,196.02 L429.00,196.01 L429.50,196.01 L430.00,196.00 L430.50,196.00 L431.00,195.99 L431.50,195.99 L432.00,195.98 L432.50,195.98 L433.00,195.97 L433.50,195.97 L434.00,195.96 L434.50,195.96 L435.00,195.96 L435.50,195.95 L436.00,195.95 L436.50,195.94 L437.00,195.94 L437.50,195.93 L438.00,195.93 L438.50,195.92 L439.00,195.92 L439.50,195.91 L440.00,195.91 L440.50,195.90 L441.00,195.90 L441.50,195.89 L442.00,195.89 L442.50,195.88 L443.00,195.87 L443.50,195.87 L444.00,195.86 L444.50,195.86 L445.00,195.85 L445.50,195.85 L446.00,195.84 L446.50,195.84 L447.00,195.83 L447.50,195.83 L448.00,195.82 L448.50,195.82 L449.00,195.81 L449.50,195.81 L450.00,195.80 L450.50,195.79 L451.00,195.79 L451.50,195.78 L452.00,195.78 L452.50,195.77 L453.00,195.77 L453.50,195.76 L454.00,195.76 L454.50,195.75 L455.00,195.75 L455.50,195.74 L456.00,195.73 L456.50,195.73 L457.00,195.72 L457.50,195.72 L458.00,195.71 L458.50,195.71 L459.00,195.70 L459.50,195.70 L460.00,195.69 L460.50,195.68 L461.00,195.68 L461.50,195.67 L462.00,195.67 L462.50,195.66 L463.00,195.66 L463.50,195.65 L464.00,195.64 L464.50,195.64 L465.00,195.63 L465.50,195.63 L466.00,195.62 L466.50,195.61 L467.00,195.61 L467.50,195.60 L468.00,195.60 L468.50,195.59 L469.00,195.58 L469.50,195.58 L470.00,195.57 L470.50,195.56 L471.00,195.56 L471.50,195.55 L472.00,195.55 L472.50,195.54 L473.00,195.53 L473.50,195.53 L474.00,195.52 L474.50,195.51 L475.00,195.50 L475.50,195.50 L476.00,195.49 L476.50,195.48 L477.00,195.48 L477.50,195.47 L478.00,195.46 L478.50,195.45 L479.00,195.45 L479.50,195.44 L480.00,195.43 L480.50,195.42 L481.00,195.42 L481.50,195.41 L482.00,195.40 L482.50,195.39 L483.00,195.38 L483.50,195.38 L484.00,195.37 L484.50,195.36 L485.00,195.35 L485.50,195.34 L486.00,195.33 L486.50,195.32 L487.00,195.32 L487.50,195.31 L488.00,195.30 L488.50,195.29 L489.00,195.28 L489.50,195.27 L490.00,195.26 L490.50,195.25 L491.00,195.24 L491.50,195.23 L492.00,195.22 L492.50,195.21 L493.00,195.20 L493.50,195.19 L494.00,195.18 L494.50,195.17 L495.00,195.16 L495.50,195.15 L496.00,195.14 L496.50,195.13 L497.00,195.12 L497.50,195.10 L498.00,195.09 L498.50,195.08 L499.00,195.07 L499.50,195.06 L500.00,195.05 L500.50,195.03 L501.00,195.02 L501.50,195.01 L502.00,195.00 L502.50,194.98 L503.00,194.97 L503.50,194.95 L504.00,194.94 L504.50,194.92 L505.00,194.90 L505.50,194.88 L506.00,194.86 L506.50,194.84 L507.00,194.82 L507.50,194.80 L508.00,194.77 L508.50,194.75 L509.00,194.73 L509.50,194.70 L510.00,194.67 L510.50,194.65 L511.00,194.62 L511.50,194.59 L512.00,194.57 L512.50,194.54 L513.00,194.51 L513.50,194.48 L514.00,194.45 L514.50,194.42 L515.00,194.39 L515.50,194.36 L516.00,194.33 L516.50,194.30 L517.00,194.27 L517.50,194.24 L518.00,194.21 L518.50,194.18 L519.00,194.15 L519.50,194.12 L520.00,194.09 L520.50,194.06 L521.00,194.03 L521.50,194.00 L522.00,193.98 L522.50,193.95 L523.00,193.92 L523.50,193.89 L524.00,193.86 L524.50,193.84 L525.00,193.81 L525.50,193.78 L526.00,193.76 L526.50,193.73 L527.00,193.71 L527.50,193.69 L528.00,193.66 L528.50,193.64 L529.00,193.62 L529.50,193.60 L530.00,193.58 L530.50,193.56 L531.00,193.54 L531.50,193.52 L532.00,193.50 L532.50,193.49 L533.00,193.47 L533.50,193.45 L534.00,193.43 L534.50,193.42 L535.00,193.40 L535.50,193.38 L536.00,193.37 L536.50,193.35 L537.00,193.34 L537.50,193.32 L538.00,193.30 L538.50,193.29 L539.00,193.27 L539.50,193.26 L540.00,193.24 L540.50,193.23 L541.00,193.22 L541.50,193.20 L542.00,193.19 L542.50,193.17 L543.00,193.16 L543.50,193.15 L544.00,193.13 L544.50,193.12 L545.00,193.10 L545.50,193.09 L546.00,193.08 L546.50,193.06 L547.00,193.05 L547.50,193.04 L548.00,193.02 L548.50,193.01 L549.00,193.00 L549.50,192.98 L550.00,192.97 L550.50,192.96 L551.00,192.94 L551.50,192.93 L552.00,192.92 L552.50,192.90 L553.00,192.89 L553.50,192.87 L554.00,192.86 L554.50,192.85 L555.00,192.83 L555.50,192.82 L556.00,192.80 L556.50,192.79 L557.00,192.77 L557.50,192.76 L558.00,192.74 L558.50,192.73 L559.00,192.71 L559.50,192.70 L560.00,192.68 L560.50,192.66 L561.00,192.65 L561.50,192.63 L562.00,192.61 L562.50,192.60 L563.00,192.58 L563.50,192.56 L564.00,192.54 L564.50,192.53 L565.00,192.51 L565.50,192.49 L566.00,192.47 L566.50,192.45 L567.00,192.43 L567.50,192.41 L568.00,192.39 L568.50,192.37 L569.00,192.34 L569.50,192.32 L570.00,192.30 L570.50,192.28 L571.00,192.25 L571.50,192.23 L572.00,192.20 L572.50,192.18 L573.00,192.15 L573.50,192.12 L574.00,192.10 L574.50,192.07 L575.00,192.04 L575.50,192.01 L576.00,191.98 L576.50,191.95 L577.00,191.92 L577.50,191.89 L578.00,191.85 L578.50,191.82 L579.00,191.79 L579.50,191.75 L580.00,191.72 L580.50,191.68 L581.00,191.65 L581.50,191.61 L582.00,191.58 L582.50,191.54 L583.00,191.50 L583.50,191.47 L584.00,191.43 L584.50,191.39 L585.00,191.35 L585.50,191.31 L586.00,191.28 L586.50,191.24 L587.00,191.20 L587.50,191.16 L588.00,191.12 L588.50,191.08 L589.00,191.03 L589.50,190.99 L590.00,190.95 L590.50,190.91 L591.00,190.86 L591.50,190.82 L592.00,190.77 L592.50,190.72 L593.00,190.67 L593.50,190.63 L594.00,190.58 L594.50,190.53 L595.00,190.48 L595.50,190.43 L596.00,190.38 L596.50,190.32 L597.00,190.27 L597.50,190.22 L598.00,190.16 L598.50,190.11 L599.00,190.05 L599.50,190.00 L600.00,189.94 L600.50,189.89 L601.00,189.83 L601.50,189.77 L602.00,189.72 L602.50,189.66 L603.00,189.60 L603.50,189.54 L604.00,189.48 L604.50,189.43 L605.00,189.37 L605.50,189.31 L606.00,189.25 L606.50,189.19 L607.00,189.13 L607.50,189.07 L608.00,189.01 L608.50,188.95 L609.00,188.89 L609.50,188.83 L610.00,188.77 L610.50,188.70 L611.00,188.64 L611.50,188.58 L612.00,188.52 L612.50,188.45 L613.00,188.39 L613.50,188.32 L614.00,188.26 L614.50,188.19 L615.00,188.12 L615.50,188.05 L616.00,187.98 L616.50,187.91 L617.00,187.83 L617.50,187.76 L618.00,187.68 L618.50,187.61 L619.00,187.53 L619.50,187.44 L620.00,187.36 L620.50,187.28 L621.00,187.19 L621.50,187.10 L622.00,187.01 L622.50,186.91 L623.00,186.82 L623.50,186.72 L624.00,186.62 L624.50,186.51 L625.00,186.40 L625.50,186.29 L626.00,186.18 L626.50,186.06 L627.00,185.94 L627.50,185.82 L628.00,185.70 L628.50,185.57 L629.00,185.44 L629.50,185.30 L630.00,185.17 L630.50,185.03 L631.00,184.89 L631.50,184.74 L632.00,184.59 L632.50,184.44 L633.00,184.29 L633.50,184.13 L634.00,183.97 L634.50,183.81 L635.00,183.64 L635.50,183.47 L636.00,183.29 L636.50,183.11 L637.00,182.92 L637.50,182.72 L638.00,182.51 L638.50,182.29 L639.00,182.06 L639.50,181.81 L640.00,181.56 L640.50,181.29 L641.00,181.00 L641.50,180.69 L642.00,180.34 L642.50,179.95 L643.00,179.53 L643.50,179.09 L644.00,178.61 L644.50,178.11 L645.00,177.59 L645.50,177.06 L646.00,176.50 L646.50,175.91 L647.00,175.26 L647.50,174.56 L648.00,173.83 L648.50,173.06 L649.00,172.27 L649.50,171.46 L650.00,170.64 L650.50,169.82 L651.00,169.00 L651.50,168.18 L652.00,167.36 L652.50,166.51 L653.00,165.66 L653.50,164.78 L654.00,163.88 L654.50,162.95 L655.00,162.00 L655.50,161.00 L656.00,159.93 L656.50,158.83 L657.00,157.72 L657.50,156.61 L658.00,155.53 L658.50,154.50 L659.00,153.53 L659.50,152.61 L660.00,151.72 L660.50,150.83 L661.00,149.93 L661.50,148.99 L662.00,148.00 L662.50,146.94 L663.00,145.82 L663.50,144.66 L664.00,143.48 L664.50,142.30 L665.00,141.13 L665.50,140.00 L666.00,138.89 L666.50,137.77 L667.00,136.66 L667.50,135.57 L668.00,134.51 L668.50,133.48 L669.00,132.50 L669.50,131.55 L670.00,130.63 L670.50,129.73 L671.00,128.86 L671.50,128.02 L672.00,127.24 L672.50,126.50 L673.00,125.80 L673.50,125.13 L674.00,124.49 L674.50,123.89 L675.00,123.32 L675.50,122.79 L676.00,122.30 L676.50,121.76 L677.00,121.33 L677.50,121.21 L678.00,121.64 L678.50,122.44 L679.00,123.34 L679.50,124.18 L680.00,125.12 L680.50,126.14 L681.00,127.21 L681.50,128.29 L682.00,129.37 L682.50,130.50 L683.00,131.66 L683.50,132.84 L684.00,134.04 L684.50,135.24 L685.00,136.49 L685.50,137.77 L686.00,139.06 L686.50,140.33 L687.00,141.56 L687.50,142.73 L688.00,143.83 L688.50,144.90 L689.00,145.93 L689.50,146.95 L690.00,147.96 L690.50,148.97 L691.00,150.00 L691.50,151.04 L692.00,152.08 L692.50,153.12 L693.00,154.15 L693.50,155.19 L694.00,156.23 L694.50,157.27 L695.00,158.32 L695.50,159.37 L696.00,160.42 L696.50,161.48 L697.00,162.55 L697.50,163.61 L698.00,164.68 L698.50,165.76 L699.00,166.84 L699.50,167.92 L700.00,169.00" stroke="#008000" stroke-width="1.7" stroke-dasharray="6.3,6"/>
<path d="M403.00,196.00 L403.50,196.00 L404.00,196.00 L404.50,196.00 L405.00,196.00 L405.50,196.00 L406.00,195.99 L406.50,195.99 L407.00,195.99 L407.50,195.99 L408.00,195.99 L408.50,195.98 L409.00,195.98 L409.50,195.97 L410.00,195.97 L410.50,195.97 L411.00,195.96 L411.50,195.96 L412.00,195.95 L412.50,195.95 L413.00,195.94 L413.50,195.94 L414.00,195.93 L414.50,195.92 L415.00,195.92 L415.50,195.91 L416.00,195.90 L416.50,195.90 L417.00,195.89 L417.50,195.88 L418.00,195.87 L418.50,195.87 L419.00,195.86 L419.50,195.85 L420.00,195.84 L420.50,195.83 L421.00,195.82 L421.50,195.81 L422.00,195.80 L422.50,195.79 L423.00,195.78 L423.50,195.77 L424.00,195.76 L424.50,195.75 L425.00,195.74 L425.50,195.73 L426.00,195.72 L426.50,195.71 L427.00,195.69 L427.50,195.68 L428.00,195.67 L428.50,195.66 L429.00,195.64 L429.50,195.63 L430.00,195.62 L430.50,195.61 L431.00,195.59 L431.50,195.58 L432.00,195.57 L432.50,195.55 L433.00,195.54 L433.50,195.53 L434.00,195.51 L434.50,195.50 L435.00,195.48 L435.50,195.47 L436.00,195.45 L436.50,195.44 L437.00,195.42 L437.50,195.41 L438.00,195.39 L438.50,195.38 L439.00,195.36 L439.50,195.35 L440.00,195.33 L440.50,195.32 L441.00,195.30 L441.50,195.29 L442.00,195.27 L442.50,195.25 L443.00,195.24 L443.50,195.22 L444.00,195.20 L444.50,195.19 L445.00,195.17 L445.50,195.15 L446.00,195.14 L446.50,195.12 L447.00,195.10 L447.50,195.09 L448.00,195.07 L448.50,195.05 L449.00,195.03 L449.50,195.02 L450.00,195.00 L450.50,194.98 L451.00,194.96 L451.50,194.94 L452.00,194.92 L452.50,194.90 L453.00,194.88 L453.50,194.85 L454.00,194.83 L454.50,194.80 L455.00,194.77 L455.50,194.75 L456.00,194.72 L456.50,194.69 L457.00,194.66 L457.50,194.63 L458.00,194.60 L458.50,194.56 L459.00,194.53 L459.50,194.49 L460.00,194.46 L460.50,194.42 L461.00,194.39 L461.50,194.35 L462.00,194.31 L462.50,194.27 L463.00,194.23 L463.50,194.19 L464.00,194.15 L464.50,194.11 L465.00,194.07 L465.50,194.03 L466.00,193.99 L466.50,193.94 L467.00,193.90 L467.50,193.86 L468.00,193.81 L468.50,193.77 L469.00,193.72 L469.50,193.67 L470.00,193.63 L470.50,193.58 L471.00,193.53 L471.50,193.49 L472.00,193.44 L472.50,193.39 L473.00,193.34 L473.50,193.29 L474.00,193.24 L474.50,193.20 L475.00,193.15 L475.50,193.10 L476.00,193.05 L476.50,193.00 L477.00,192.95 L477.50,192.90 L478.00,192.85 L478.50,192.79 L479.00,192.74 L479.50,192.69 L480.00,192.64 L480.50,192.59 L481.00,192.54 L481.50,192.49 L482.00,192.44 L482.50,192.38 L483.00,192.32 L483.50,192.27 L484.00,192.20 L484.50,192.14 L485.00,192.07 L485.50,192.01 L486.00,191.94 L486.50,191.87 L487.00,191.80 L487.50,191.73 L488.00,191.66 L488.50,191.58 L489.00,191.51 L489.50,191.43 L490.00,191.36 L490.50,191.28 L491.00,191.21 L491.50,191.13 L492.00,191.06 L492.50,190.99 L493.00,190.91 L493.50,190.84 L494.00,190.77 L494.50,190.70 L495.00,190.63 L495.50,190.56 L496.00,190.49 L496.50,190.42 L497.00,190.36 L497.50,190.30 L498.00,190.24 L498.50,190.18 L499.00,190.12 L499.50,190.07 L500.00,190.02 L500.50,189.97 L501.00,189.92 L501.50,189.88 L502.00,189.84 L502.50,189.79 L503.00,189.75 L503.50,189.72 L504.00,189.68 L504.50,189.64 L505.00,189.60 L505.50,189.57 L506.00,189.53 L506.50,189.50 L507.00,189.46 L507.50,189.43 L508.00,189.40 L508.50,189.36 L509.00,189.33 L509.50,189.29 L510.00,189.26 L510.50,189.23 L511.00,189.19 L511.50,189.15 L512.00,189.12 L512.50,189.08 L513.00,189.04 L513.50,189.00 L514.00,188.96 L514.50,188.91 L515.00,188.87 L515.50,188.82 L516.00,188.77 L516.50,188.72 L517.00,188.67 L517.50,188.61 L518.00,188.55 L518.50,188.49 L519.00,188.43 L519.50,188.36 L520.00,188.30 L520.50,188.23 L521.00,188.16 L521.50,188.09 L522.00,188.02 L522.50,187.95 L523.00,187.88 L523.50,187.80 L524.00,187.73 L524.50,187.65 L525.00,187.57 L525.50,187.50 L526.00,187.42 L526.50,187.35 L527.00,187.27 L527.50,187.19 L528.00,187.12 L528.50,187.04 L529.00,186.97 L529.50,186.89 L530.00,186.82 L530.50,186.75 L531.00,186.67 L531.50,186.60 L532.00,186.53 L532.50,186.47 L533.00,186.40 L533.50,186.34 L534.00,186.27 L534.50,186.21 L535.00,186.15 L535.50,186.10 L536.00,186.04 L536.50,185.99 L537.00,185.94 L537.50,185.89 L538.00,185.84 L538.50,185.79 L539.00,185.74 L539.50,185.69 L540.00,185.65 L540.50,185.60 L541.00,185.55 L541.50,185.51 L542.00,185.46 L542.50,185.42 L543.00,185.37 L543.50,185.33 L544.00,185.29 L544.50,185.25 L545.00,185.20 L545.50,185.16 L546.00,185.12 L546.50,185.08 L547.00,185.04 L547.50,185.00 L548.00,184.96 L548.50,184.92 L549.00,184.88 L549.50,184.84 L550.00,184.80 L550.50,184.76 L551.00,184.73 L551.50,184.69 L552.00,184.65 L552.50,184.61 L553.00,184.57 L553.50,184.54 L554.00,184.50 L554.50,184.46 L555.00,184.43 L555.50,184.39 L556.00,184.35 L556.50,184.32 L557.00,184.28 L557.50,184.24 L558.00,184.21 L558.50,184.17 L559.00,184.13 L559.50,184.10 L560.00,184.06 L560.50,184.03 L561.00,183.99 L561.50,183.95 L562.00,183.92 L562.50,183.88 L563.00,183.84 L563.50,183.80 L564.00,183.77 L564.50,183.73 L565.00,183.69 L565.50,183.65 L566.00,183.62 L566.50,183.58 L567.00,183.54 L567.50,183.50 L568.00,183.46 L568.50,183.42 L569.00,183.38 L569.50,183.34 L570.00,183.30 L570.50,183.26 L571.00,183.22 L571.50,183.18 L572.00,183.14 L572.50,183.10 L573.00,183.06 L573.50,183.02 L574.00,182.98 L574.50,182.95 L575.00,182.91 L575.50,182.87 L576.00,182.83 L576.50,182.79 L577.00,182.75 L577.50,182.72 L578.00,182.68 L578.50,182.64 L579.00,182.60 L579.50,182.56 L580.00,182.52 L580.50,182.48 L581.00,182.44 L581.50,182.40 L582.00,182.36 L582.50,182.32 L583.00,182.28 L583.50,182.23 L584.00,182.19 L584.50,182.15 L585.00,182.10 L585.50,182.06 L586.00,182.01 L586.50,181.96 L587.00,181.92 L587.50,181.87 L588.00,181.82 L588.50,181.77 L589.00,181.72 L589.50,181.67 L590.00,181.62 L590.50,181.56 L591.00,181.51 L591.50,181.46 L592.00,181.40 L592.50,181.35 L593.00,181.29 L593.50,181.23 L594.00,181.18 L594.50,181.12 L595.00,181.06 L595.50,181.00 L596.00,180.94 L596.50,180.88 L597.00,180.81 L597.50,180.75 L598.00,180.69 L598.50,180.62 L599.00,180.56 L599.50,180.49 L600.00,180.43 L600.50,180.36 L601.00,180.29 L601.50,180.22 L602.00,180.15 L602.50,180.08 L603.00,180.01 L603.50,179.94 L604.00,179.86 L604.50,179.79 L605.00,179.71 L605.50,179.64 L606.00,179.56 L606.50,179.48 L607.00,179.41 L607.50,179.33 L608.00,179.25 L608.50,179.17 L609.00,179.08 L609.50,179.00 L610.00,178.92 L610.50,178.83 L611.00,178.74 L611.50,178.66 L612.00,178.57 L612.50,178.47 L613.00,178.38 L613.50,178.29 L614.00,178.19 L614.50,178.09 L615.00,177.99 L615.50,177.89 L616.00,177.79 L616.50,177.68 L617.00,177.57 L617.50,177.46 L618.00,177.35 L618.50,177.24 L619.00,177.12 L619.50,177.00 L620.00,176.88 L620.50,176.76 L621.00,176.63 L621.50,176.50 L622.00,176.37 L622.50,176.23 L623.00,176.09 L623.50,175.95 L624.00,175.81 L624.50,175.66 L625.00,175.50 L625.50,175.34 L626.00,175.18 L626.50,175.01 L627.00,174.84 L627.50,174.66 L628.00,174.48 L628.50,174.29 L629.00,174.10 L629.50,173.90 L630.00,173.69 L630.50,173.48 L631.00,173.26 L631.50,173.03 L632.00,172.80 L632.50,172.56 L633.00,172.31 L633.50,172.05 L634.00,171.78 L634.50,171.50 L635.00,171.19 L635.50,170.87 L636.00,170.52 L636.50,170.15 L637.00,169.77 L637.50,169.36 L638.00,168.93 L638.50,168.48 L639.00,168.01 L639.50,167.52 L640.00,167.00 L640.50,166.43 L641.00,165.78 L641.50,165.07 L642.00,164.30 L642.50,163.50 L643.00,162.67 L643.50,161.84 L644.00,161.00 L644.50,160.16 L645.00,159.29 L645.50,158.40 L646.00,157.49 L646.50,156.56 L647.00,155.61 L647.50,154.63 L648.00,153.63 L648.50,152.62 L649.00,151.58 L649.50,150.49 L650.00,149.34 L650.50,148.17 L651.00,146.98 L651.50,145.80 L652.00,144.63 L652.50,143.50 L653.00,142.41 L653.50,141.36 L654.00,140.32 L654.50,139.28 L655.00,138.23 L655.50,137.14 L656.00,136.00 L656.50,134.80 L657.00,133.55 L657.50,132.27 L658.00,130.96 L658.50,129.63 L659.00,128.31 L659.50,127.00 L660.00,125.65 L660.50,124.24 L661.00,122.81 L661.50,121.39 L662.00,120.02 L662.50,118.74 L663.00,117.60 L663.50,116.62 L664.00,115.65 L664.50,114.70 L665.00,113.79 L665.50,112.94 L666.00,112.19 L666.50,111.57 L667.00,111.09 L667.50,110.80 L668.00,110.61 L668.50,110.45 L669.00,110.32 L669.50,110.23 L670.00,110.20 L670.50,110.23 L671.00,110.31 L671.50,110.43 L672.00,110.59 L672.50,110.77 L673.00,110.97 L673.50,111.20 L674.00,111.54 L674.50,111.99 L675.00,112.53 L675.50,113.11 L676.00,113.71 L676.50,114.29 L677.00,114.84 L677.50,115.40 L678.00,115.97 L678.50,116.57 L679.00,117.21 L679.50,117.90 L680.00,118.66 L680.50,119.53 L681.00,120.50 L681.50,121.55 L682.00,122.63 L682.50,123.71 L683.00,124.80 L683.50,125.91 L684.00,127.06 L684.50,128.27 L685.00,129.57 L685.50,130.98 L686.00,132.51 L686.50,134.10 L687.00,135.72 L687.50,137.34 L688.00,138.90 L688.50,140.39 L689.00,141.85 L689.50,143.29 L690.00,144.71 L690.50,146.11 L691.00,147.50 L691.50,148.88 L692.00,150.27 L692.50,151.64 L693.00,152.98 L693.50,154.27 L694.00,155.50 L694.50,156.67 L695.00,157.79 L695.50,158.87 L696.00,159.92 L696.50,160.96 L697.00,162.00 L697.50,163.03 L698.00,164.05 L698.50,165.06 L699.00,166.05 L699.50,167.03 L700.00,168.00" stroke="#00ff00" stroke-width="1.6" stroke-dasharray="1.2,1.1,1.2,1.1,1.2,5.6"/>
<path d="M403.00,193.00 L403.50,193.00 L404.00,193.00 L404.50,193.00 L405.00,192.99 L405.50,192.99 L406.00,192.99 L406.50,192.98 L407.00,192.97 L407.50,192.97 L408.00,192.96 L408.50,192.95 L409.00,192.94 L409.50,192.94 L410.00,192.93 L410.50,192.92 L411.00,192.90 L411.50,192.89 L412.00,192.88 L412.50,192.87 L413.00,192.86 L413.50,192.84 L414.00,192.83 L414.50,192.81 L415.00,192.80 L415.50,192.78 L416.00,192.77 L416.50,192.75 L417.00,192.74 L417.50,192.72 L418.00,192.70 L418.50,192.68 L419.00,192.67 L419.50,192.65 L420.00,192.63 L420.50,192.61 L421.00,192.59 L421.50,192.57 L422.00,192.55 L422.50,192.54 L423.00,192.52 L423.50,192.50 L424.00,192.48 L424.50,192.46 L425.00,192.44 L425.50,192.42 L426.00,192.40 L426.50,192.37 L427.00,192.35 L427.50,192.33 L428.00,192.30 L428.50,192.28 L429.00,192.25 L429.50,192.22 L430.00,192.19 L430.50,192.16 L431.00,192.12 L431.50,192.09 L432.00,192.05 L432.50,192.02 L433.00,191.98 L433.50,191.94 L434.00,191.90 L434.50,191.86 L435.00,191.82 L435.50,191.78 L436.00,191.73 L436.50,191.69 L437.00,191.64 L437.50,191.60 L438.00,191.55 L438.50,191.50 L439.00,191.46 L439.50,191.41 L440.00,191.36 L440.50,191.31 L441.00,191.26 L441.50,191.21 L442.00,191.15 L442.50,191.10 L443.00,191.05 L443.50,190.99 L444.00,190.94 L444.50,190.89 L445.00,190.83 L445.50,190.78 L446.00,190.72 L446.50,190.67 L447.00,190.61 L447.50,190.56 L448.00,190.50 L448.50,190.44 L449.00,190.39 L449.50,190.33 L450.00,190.27 L450.50,190.20 L451.00,190.14 L451.50,190.08 L452.00,190.01 L452.50,189.94 L453.00,189.88 L453.50,189.81 L454.00,189.74 L454.50,189.66 L455.00,189.59 L455.50,189.52 L456.00,189.44 L456.50,189.37 L457.00,189.29 L457.50,189.21 L458.00,189.13 L458.50,189.05 L459.00,188.97 L459.50,188.89 L460.00,188.80 L460.50,188.72 L461.00,188.63 L461.50,188.55 L462.00,188.46 L462.50,188.37 L463.00,188.28 L463.50,188.19 L464.00,188.10 L464.50,188.01 L465.00,187.91 L465.50,187.82 L466.00,187.73 L466.50,187.63 L467.00,187.53 L467.50,187.44 L468.00,187.34 L468.50,187.24 L469.00,187.14 L469.50,187.04 L470.00,186.94 L470.50,186.83 L471.00,186.72 L471.50,186.61 L472.00,186.49 L472.50,186.37 L473.00,186.26 L473.50,186.13 L474.00,186.01 L474.50,185.88 L475.00,185.76 L475.50,185.63 L476.00,185.49 L476.50,185.36 L477.00,185.23 L477.50,185.09 L478.00,184.96 L478.50,184.82 L479.00,184.68 L479.50,184.54 L480.00,184.40 L480.50,184.26 L481.00,184.12 L481.50,183.98 L482.00,183.84 L482.50,183.70 L483.00,183.56 L483.50,183.42 L484.00,183.28 L484.50,183.14 L485.00,183.00 L485.50,182.86 L486.00,182.72 L486.50,182.57 L487.00,182.43 L487.50,182.28 L488.00,182.13 L488.50,181.98 L489.00,181.83 L489.50,181.67 L490.00,181.52 L490.50,181.36 L491.00,181.21 L491.50,181.05 L492.00,180.90 L492.50,180.74 L493.00,180.59 L493.50,180.43 L494.00,180.28 L494.50,180.12 L495.00,179.97 L495.50,179.82 L496.00,179.67 L496.50,179.52 L497.00,179.38 L497.50,179.23 L498.00,179.09 L498.50,178.95 L499.00,178.82 L499.50,178.68 L500.00,178.55 L500.50,178.42 L501.00,178.30 L501.50,178.17 L502.00,178.05 L502.50,177.93 L503.00,177.80 L503.50,177.69 L504.00,177.57 L504.50,177.45 L505.00,177.33 L505.50,177.22 L506.00,177.10 L506.50,176.99 L507.00,176.88 L507.50,176.77 L508.00,176.65 L508.50,176.54 L509.00,176.43 L509.50,176.33 L510.00,176.22 L510.50,176.11 L511.00,176.00 L511.50,175.89 L512.00,175.79 L512.50,175.68 L513.00,175.57 L513.50,175.47 L514.00,175.36 L514.50,175.25 L515.00,175.15 L515.50,175.04 L516.00,174.94 L516.50,174.83 L517.00,174.73 L517.50,174.63 L518.00,174.53 L518.50,174.43 L519.00,174.34 L519.50,174.24 L520.00,174.15 L520.50,174.05 L521.00,173.96 L521.50,173.86 L522.00,173.77 L522.50,173.67 L523.00,173.58 L523.50,173.48 L524.00,173.38 L524.50,173.28 L525.00,173.18 L525.50,173.08 L526.00,172.97 L526.50,172.86 L527.00,172.75 L527.50,172.64 L528.00,172.52 L528.50,172.40 L529.00,172.27 L529.50,172.14 L530.00,172.00 L530.50,171.86 L531.00,171.71 L531.50,171.56 L532.00,171.41 L532.50,171.26 L533.00,171.11 L533.50,170.96 L534.00,170.81 L534.50,170.67 L535.00,170.54 L535.50,170.41 L536.00,170.29 L536.50,170.18 L537.00,170.07 L537.50,169.96 L538.00,169.86 L538.50,169.76 L539.00,169.65 L539.50,169.55 L540.00,169.45 L540.50,169.35 L541.00,169.26 L541.50,169.16 L542.00,169.06 L542.50,168.97 L543.00,168.88 L543.50,168.79 L544.00,168.70 L544.50,168.61 L545.00,168.52 L545.50,168.43 L546.00,168.35 L546.50,168.26 L547.00,168.18 L547.50,168.10 L548.00,168.01 L548.50,167.93 L549.00,167.86 L549.50,167.78 L550.00,167.70 L550.50,167.62 L551.00,167.55 L551.50,167.47 L552.00,167.40 L552.50,167.33 L553.00,167.26 L553.50,167.18 L554.00,167.11 L554.50,167.05 L555.00,166.98 L555.50,166.91 L556.00,166.84 L556.50,166.78 L557.00,166.71 L557.50,166.65 L558.00,166.59 L558.50,166.53 L559.00,166.47 L559.50,166.41 L560.00,166.36 L560.50,166.30 L561.00,166.25 L561.50,166.20 L562.00,166.15 L562.50,166.10 L563.00,166.05 L563.50,166.00 L564.00,165.95 L564.50,165.90 L565.00,165.85 L565.50,165.80 L566.00,165.75 L566.50,165.70 L567.00,165.65 L567.50,165.60 L568.00,165.55 L568.50,165.49 L569.00,165.44 L569.50,165.38 L570.00,165.32 L570.50,165.26 L571.00,165.21 L571.50,165.15 L572.00,165.09 L572.50,165.03 L573.00,164.97 L573.50,164.91 L574.00,164.86 L574.50,164.80 L575.00,164.74 L575.50,164.68 L576.00,164.62 L576.50,164.56 L577.00,164.50 L577.50,164.44 L578.00,164.38 L578.50,164.32 L579.00,164.25 L579.50,164.19 L580.00,164.12 L580.50,164.06 L581.00,163.99 L581.50,163.93 L582.00,163.86 L582.50,163.79 L583.00,163.72 L583.50,163.65 L584.00,163.57 L584.50,163.50 L585.00,163.42 L585.50,163.35 L586.00,163.27 L586.50,163.19 L587.00,163.10 L587.50,163.02 L588.00,162.93 L588.50,162.85 L589.00,162.76 L589.50,162.66 L590.00,162.57 L590.50,162.47 L591.00,162.37 L591.50,162.27 L592.00,162.16 L592.50,162.05 L593.00,161.94 L593.50,161.83 L594.00,161.72 L594.50,161.60 L595.00,161.48 L595.50,161.36 L596.00,161.24 L596.50,161.11 L597.00,160.99 L597.50,160.86 L598.00,160.73 L598.50,160.60 L599.00,160.46 L599.50,160.33 L600.00,160.19 L600.50,160.05 L601.00,159.91 L601.50,159.77 L602.00,159.62 L602.50,159.48 L603.00,159.33 L603.50,159.18 L604.00,159.03 L604.50,158.88 L605.00,158.73 L605.50,158.58 L606.00,158.42 L606.50,158.27 L607.00,158.11 L607.50,157.95 L608.00,157.79 L608.50,157.63 L609.00,157.46 L609.50,157.29 L610.00,157.12 L610.50,156.95 L611.00,156.77 L611.50,156.59 L612.00,156.41 L612.50,156.23 L613.00,156.04 L613.50,155.85 L614.00,155.66 L614.50,155.46 L615.00,155.26 L615.50,155.05 L616.00,154.85 L616.50,154.63 L617.00,154.42 L617.50,154.20 L618.00,153.98 L618.50,153.75 L619.00,153.52 L619.50,153.28 L620.00,153.04 L620.50,152.80 L621.00,152.55 L621.50,152.30 L622.00,152.04 L622.50,151.77 L623.00,151.49 L623.50,151.20 L624.00,150.90 L624.50,150.60 L625.00,150.28 L625.50,149.96 L626.00,149.62 L626.50,149.28 L627.00,148.93 L627.50,148.57 L628.00,148.21 L628.50,147.84 L629.00,147.46 L629.50,147.07 L630.00,146.68 L630.50,146.28 L631.00,145.87 L631.50,145.45 L632.00,145.02 L632.50,144.58 L633.00,144.13 L633.50,143.66 L634.00,143.18 L634.50,142.69 L635.00,142.18 L635.50,141.66 L636.00,141.13 L636.50,140.58 L637.00,140.01 L637.50,139.44 L638.00,138.84 L638.50,138.23 L639.00,137.57 L639.50,136.87 L640.00,136.13 L640.50,135.37 L641.00,134.59 L641.50,133.80 L642.00,132.98 L642.50,132.13 L643.00,131.24 L643.50,130.34 L644.00,129.42 L644.50,128.50 L645.00,127.57 L645.50,126.64 L646.00,125.69 L646.50,124.72 L647.00,123.73 L647.50,122.71 L648.00,121.66 L648.50,120.53 L649.00,119.37 L649.50,118.20 L650.00,117.07 L650.50,116.00 L651.00,115.00 L651.50,114.05 L652.00,113.12 L652.50,112.21 L653.00,111.31 L653.50,110.41 L654.00,109.50 L654.50,108.56 L655.00,107.60 L655.50,106.64 L656.00,105.71 L656.50,104.82 L657.00,104.00 L657.50,103.23 L658.00,102.49 L658.50,101.79 L659.00,101.15 L659.50,100.60 L660.00,100.08 L660.50,99.56 L661.00,99.13 L661.50,98.85 L662.00,98.75 L662.50,98.68 L663.00,98.61 L663.50,98.57 L664.00,98.53 L664.50,98.51 L665.00,98.50 L665.50,98.59 L666.00,98.84 L666.50,99.22 L667.00,99.69 L667.50,100.21 L668.00,100.77 L668.50,101.33 L669.00,102.02 L669.50,102.84 L670.00,103.75 L670.50,104.71 L671.00,105.70 L671.50,106.79 L672.00,107.96 L672.50,109.18 L673.00,110.39 L673.50,111.56 L674.00,112.70 L674.50,113.82 L675.00,114.97 L675.50,116.16 L676.00,117.41 L676.50,118.75 L677.00,120.15 L677.50,121.56 L678.00,122.96 L678.50,124.30 L679.00,125.58 L679.50,126.85 L680.00,128.15 L680.50,129.52 L681.00,131.01 L681.50,132.64 L682.00,134.33 L682.50,136.00 L683.00,137.65 L683.50,139.31 L684.00,140.97 L684.50,142.60 L685.00,144.19 L685.50,145.72 L686.00,147.21 L686.50,148.68 L687.00,150.12 L687.50,151.56 L688.00,153.01 L688.50,154.48 L689.00,155.95 L689.50,157.42 L690.00,158.91 L690.50,160.40 L691.00,161.89 L691.50,163.39 L692.00,164.90 L692.50,166.43 L693.00,168.00 L693.50,169.63 L694.00,171.33 L694.50,173.06 L695.00,174.77 L695.50,176.43 L696.00,178.00 L696.50,179.50 L697.00,180.97 L697.50,182.40 L698.00,183.81 L698.50,185.17 L699.00,186.49 L699.50,187.77 L700.00,189.00" stroke="#800000" stroke-width="1.7" stroke-dasharray="4.8,2.2,1.4,2.2"/>
<path d="M403.00,189.80 L403.50,189.77 L404.00,189.74 L404.50,189.70 L405.00,189.67 L405.50,189.63 L406.00,189.60 L406.50,189.56 L407.00,189.52 L407.50,189.49 L408.00,189.45 L408.50,189.41 L409.00,189.37 L409.50,189.33 L410.00,189.29 L410.50,189.25 L411.00,189.21 L411.50,189.17 L412.00,189.13 L412.50,189.08 L413.00,189.04 L413.50,189.00 L414.00,188.95 L414.50,188.91 L415.00,188.86 L415.50,188.82 L416.00,188.77 L416.50,188.72 L417.00,188.68 L417.50,188.63 L418.00,188.58 L418.50,188.54 L419.00,188.49 L419.50,188.44 L420.00,188.39 L420.50,188.34 L421.00,188.29 L421.50,188.24 L422.00,188.19 L422.50,188.14 L423.00,188.09 L423.50,188.04 L424.00,187.99 L424.50,187.94 L425.00,187.88 L425.50,187.83 L426.00,187.78 L426.50,187.72 L427.00,187.67 L427.50,187.61 L428.00,187.56 L428.50,187.50 L429.00,187.44 L429.50,187.38 L430.00,187.32 L430.50,187.26 L431.00,187.20 L431.50,187.13 L432.00,187.07 L432.50,187.00 L433.00,186.93 L433.50,186.86 L434.00,186.79 L434.50,186.72 L435.00,186.64 L435.50,186.56 L436.00,186.48 L436.50,186.40 L437.00,186.32 L437.50,186.24 L438.00,186.15 L438.50,186.06 L439.00,185.97 L439.50,185.88 L440.00,185.78 L440.50,185.69 L441.00,185.59 L441.50,185.49 L442.00,185.38 L442.50,185.27 L443.00,185.16 L443.50,185.05 L444.00,184.93 L444.50,184.81 L445.00,184.69 L445.50,184.56 L446.00,184.44 L446.50,184.30 L447.00,184.17 L447.50,184.03 L448.00,183.88 L448.50,183.73 L449.00,183.58 L449.50,183.43 L450.00,183.27 L450.50,183.10 L451.00,182.93 L451.50,182.74 L452.00,182.54 L452.50,182.32 L453.00,182.08 L453.50,181.84 L454.00,181.57 L454.50,181.30 L455.00,181.02 L455.50,180.73 L456.00,180.44 L456.50,180.14 L457.00,179.83 L457.50,179.52 L458.00,179.22 L458.50,178.91 L459.00,178.60 L459.50,178.30 L460.00,178.00 L460.50,177.70 L461.00,177.40 L461.50,177.08 L462.00,176.77 L462.50,176.45 L463.00,176.12 L463.50,175.79 L464.00,175.46 L464.50,175.13 L465.00,174.79 L465.50,174.46 L466.00,174.12 L466.50,173.78 L467.00,173.45 L467.50,173.12 L468.00,172.79 L468.50,172.46 L469.00,172.13 L469.50,171.81 L470.00,171.50 L470.50,171.19 L471.00,170.88 L471.50,170.57 L472.00,170.26 L472.50,169.95 L473.00,169.65 L473.50,169.34 L474.00,169.04 L474.50,168.74 L475.00,168.44 L475.50,168.14 L476.00,167.85 L476.50,167.55 L477.00,167.26 L477.50,166.96 L478.00,166.67 L478.50,166.38 L479.00,166.10 L479.50,165.82 L480.00,165.53 L480.50,165.26 L481.00,164.98 L481.50,164.70 L482.00,164.43 L482.50,164.15 L483.00,163.88 L483.50,163.61 L484.00,163.34 L484.50,163.06 L485.00,162.79 L485.50,162.51 L486.00,162.23 L486.50,161.96 L487.00,161.68 L487.50,161.40 L488.00,161.12 L488.50,160.84 L489.00,160.56 L489.50,160.28 L490.00,160.01 L490.50,159.73 L491.00,159.45 L491.50,159.16 L492.00,158.88 L492.50,158.60 L493.00,158.31 L493.50,158.02 L494.00,157.73 L494.50,157.44 L495.00,157.14 L495.50,156.84 L496.00,156.53 L496.50,156.21 L497.00,155.89 L497.50,155.57 L498.00,155.25 L498.50,154.92 L499.00,154.60 L499.50,154.27 L500.00,153.95 L500.50,153.63 L501.00,153.31 L501.50,153.00 L502.00,152.70 L502.50,152.40 L503.00,152.11 L503.50,151.83 L504.00,151.55 L504.50,151.28 L505.00,151.01 L505.50,150.74 L506.00,150.47 L506.50,150.21 L507.00,149.95 L507.50,149.69 L508.00,149.44 L508.50,149.19 L509.00,148.94 L509.50,148.70 L510.00,148.47 L510.50,148.24 L511.00,148.02 L511.50,147.80 L512.00,147.59 L512.50,147.38 L513.00,147.19 L513.50,146.99 L514.00,146.80 L514.50,146.62 L515.00,146.44 L515.50,146.26 L516.00,146.08 L516.50,145.90 L517.00,145.73 L517.50,145.55 L518.00,145.37 L518.50,145.19 L519.00,145.00 L519.50,144.82 L520.00,144.62 L520.50,144.43 L521.00,144.23 L521.50,144.03 L522.00,143.83 L522.50,143.63 L523.00,143.43 L523.50,143.23 L524.00,143.03 L524.50,142.82 L525.00,142.62 L525.50,142.41 L526.00,142.21 L526.50,142.01 L527.00,141.80 L527.50,141.60 L528.00,141.40 L528.50,141.20 L529.00,141.00 L529.50,140.80 L530.00,140.60 L530.50,140.40 L531.00,140.20 L531.50,140.01 L532.00,139.81 L532.50,139.61 L533.00,139.41 L533.50,139.21 L534.00,139.01 L534.50,138.82 L535.00,138.62 L535.50,138.43 L536.00,138.24 L536.50,138.05 L537.00,137.86 L537.50,137.68 L538.00,137.50 L538.50,137.32 L539.00,137.14 L539.50,136.97 L540.00,136.80 L540.50,136.63 L541.00,136.45 L541.50,136.29 L542.00,136.12 L542.50,135.95 L543.00,135.79 L543.50,135.62 L544.00,135.46 L544.50,135.30 L545.00,135.14 L545.50,134.98 L546.00,134.82 L546.50,134.66 L547.00,134.50 L547.50,134.34 L548.00,134.18 L548.50,134.02 L549.00,133.85 L549.50,133.68 L550.00,133.52 L550.50,133.35 L551.00,133.18 L551.50,133.02 L552.00,132.85 L552.50,132.69 L553.00,132.52 L553.50,132.36 L554.00,132.20 L554.50,132.05 L555.00,131.89 L555.50,131.74 L556.00,131.60 L556.50,131.45 L557.00,131.32 L557.50,131.18 L558.00,131.05 L558.50,130.93 L559.00,130.81 L559.50,130.70 L560.00,130.60 L560.50,130.50 L561.00,130.41 L561.50,130.32 L562.00,130.23 L562.50,130.14 L563.00,130.06 L563.50,129.98 L564.00,129.90 L564.50,129.83 L565.00,129.76 L565.50,129.68 L566.00,129.61 L566.50,129.55 L567.00,129.48 L567.50,129.41 L568.00,129.34 L568.50,129.27 L569.00,129.21 L569.50,129.14 L570.00,129.07 L570.50,129.00 L571.00,128.93 L571.50,128.86 L572.00,128.79 L572.50,128.71 L573.00,128.63 L573.50,128.55 L574.00,128.47 L574.50,128.39 L575.00,128.31 L575.50,128.22 L576.00,128.14 L576.50,128.06 L577.00,127.97 L577.50,127.89 L578.00,127.80 L578.50,127.72 L579.00,127.63 L579.50,127.55 L580.00,127.46 L580.50,127.37 L581.00,127.29 L581.50,127.20 L582.00,127.12 L582.50,127.03 L583.00,126.94 L583.50,126.86 L584.00,126.77 L584.50,126.69 L585.00,126.60 L585.50,126.52 L586.00,126.43 L586.50,126.35 L587.00,126.27 L587.50,126.19 L588.00,126.12 L588.50,126.04 L589.00,125.96 L589.50,125.89 L590.00,125.81 L590.50,125.74 L591.00,125.66 L591.50,125.58 L592.00,125.51 L592.50,125.43 L593.00,125.35 L593.50,125.27 L594.00,125.18 L594.50,125.10 L595.00,125.01 L595.50,124.92 L596.00,124.83 L596.50,124.73 L597.00,124.63 L597.50,124.53 L598.00,124.42 L598.50,124.31 L599.00,124.19 L599.50,124.06 L600.00,123.93 L600.50,123.79 L601.00,123.65 L601.50,123.50 L602.00,123.34 L602.50,123.18 L603.00,123.02 L603.50,122.86 L604.00,122.69 L604.50,122.52 L605.00,122.34 L605.50,122.17 L606.00,122.00 L606.50,121.82 L607.00,121.65 L607.50,121.47 L608.00,121.30 L608.50,121.13 L609.00,120.96 L609.50,120.79 L610.00,120.63 L610.50,120.47 L611.00,120.31 L611.50,120.16 L612.00,120.01 L612.50,119.87 L613.00,119.72 L613.50,119.58 L614.00,119.44 L614.50,119.30 L615.00,119.15 L615.50,119.01 L616.00,118.86 L616.50,118.71 L617.00,118.55 L617.50,118.39 L618.00,118.23 L618.50,118.05 L619.00,117.87 L619.50,117.69 L620.00,117.49 L620.50,117.28 L621.00,117.07 L621.50,116.83 L622.00,116.59 L622.50,116.32 L623.00,116.04 L623.50,115.75 L624.00,115.45 L624.50,115.14 L625.00,114.81 L625.50,114.48 L626.00,114.14 L626.50,113.79 L627.00,113.44 L627.50,113.09 L628.00,112.73 L628.50,112.36 L629.00,112.00 L629.50,111.63 L630.00,111.24 L630.50,110.85 L631.00,110.44 L631.50,110.02 L632.00,109.60 L632.50,109.16 L633.00,108.72 L633.50,108.28 L634.00,107.82 L634.50,107.37 L635.00,106.90 L635.50,106.44 L636.00,105.98 L636.50,105.51 L637.00,105.02 L637.50,104.50 L638.00,103.96 L638.50,103.40 L639.00,102.85 L639.50,102.30 L640.00,101.76 L640.50,101.24 L641.00,100.74 L641.50,100.28 L642.00,99.87 L642.50,99.50 L643.00,99.16 L643.50,98.82 L644.00,98.48 L644.50,98.16 L645.00,97.86 L645.50,97.58 L646.00,97.33 L646.50,97.12 L647.00,96.95 L647.50,96.83 L648.00,96.76 L648.50,96.69 L649.00,96.63 L649.50,96.58 L650.00,96.54 L650.50,96.52 L651.00,96.50 L651.50,96.51 L652.00,96.54 L652.50,96.60 L653.00,96.68 L653.50,96.78 L654.00,96.89 L654.50,97.00 L655.00,97.13 L655.50,97.31 L656.00,97.52 L656.50,97.76 L657.00,98.05 L657.50,98.37 L658.00,98.72 L658.50,99.17 L659.00,99.78 L659.50,100.53 L660.00,101.36 L660.50,102.26 L661.00,103.18 L661.50,104.24 L662.00,105.42 L662.50,106.66 L663.00,107.89 L663.50,109.06 L664.00,110.20 L664.50,111.34 L665.00,112.49 L665.50,113.67 L666.00,114.90 L666.50,116.21 L667.00,117.56 L667.50,118.92 L668.00,120.24 L668.50,121.49 L669.00,122.65 L669.50,123.77 L670.00,124.89 L670.50,126.06 L671.00,127.31 L671.50,128.66 L672.00,130.06 L672.50,131.50 L673.00,132.93 L673.50,134.35 L674.00,135.72 L674.50,137.07 L675.00,138.41 L675.50,139.74 L676.00,141.07 L676.50,142.40 L677.00,143.73 L677.50,145.03 L678.00,146.31 L678.50,147.59 L679.00,148.92 L679.50,150.32 L680.00,151.81 L680.50,153.50 L681.00,155.33 L681.50,157.14 L682.00,158.80 L682.50,160.29 L683.00,161.69 L683.50,163.03 L684.00,164.34 L684.50,165.65 L685.00,167.00 L685.50,168.39 L686.00,169.80 L686.50,171.22 L687.00,172.63 L687.50,174.03 L688.00,175.40 L688.50,176.73 L689.00,178.00 L689.50,179.26 L690.00,180.53 L690.50,181.79 L691.00,183.02 L691.50,184.18 L692.00,185.25 L692.50,186.20 L693.00,187.00 L693.50,187.71 L694.00,188.42 L694.50,189.10 L695.00,189.77 L695.50,190.41 L696.00,191.01 L696.50,191.58 L697.00,192.10 L697.50,192.57 L698.00,192.99 L698.50,193.35 L699.00,193.64 L699.50,193.86 L700.00,194.00" stroke="#000080" stroke-width="1.8" stroke-dasharray="1.7,1.7"/>
<path d="M403.00,186.90 L403.50,186.84 L404.00,186.78 L404.50,186.73 L405.00,186.67 L405.50,186.61 L406.00,186.54 L406.50,186.48 L407.00,186.42 L407.50,186.36 L408.00,186.29 L408.50,186.23 L409.00,186.16 L409.50,186.10 L410.00,186.03 L410.50,185.97 L411.00,185.90 L411.50,185.83 L412.00,185.76 L412.50,185.69 L413.00,185.62 L413.50,185.55 L414.00,185.48 L414.50,185.41 L415.00,185.34 L415.50,185.27 L416.00,185.20 L416.50,185.12 L417.00,185.05 L417.50,184.97 L418.00,184.90 L418.50,184.83 L419.00,184.75 L419.50,184.67 L420.00,184.60 L420.50,184.52 L421.00,184.45 L421.50,184.37 L422.00,184.29 L422.50,184.21 L423.00,184.13 L423.50,184.05 L424.00,183.97 L424.50,183.89 L425.00,183.80 L425.50,183.72 L426.00,183.63 L426.50,183.54 L427.00,183.45 L427.50,183.36 L428.00,183.27 L428.50,183.17 L429.00,183.08 L429.50,182.98 L430.00,182.88 L430.50,182.78 L431.00,182.67 L431.50,182.56 L432.00,182.45 L432.50,182.34 L433.00,182.23 L433.50,182.11 L434.00,181.99 L434.50,181.87 L435.00,181.74 L435.50,181.62 L436.00,181.49 L436.50,181.36 L437.00,181.23 L437.50,181.10 L438.00,180.96 L438.50,180.83 L439.00,180.69 L439.50,180.55 L440.00,180.41 L440.50,180.27 L441.00,180.13 L441.50,179.99 L442.00,179.84 L442.50,179.70 L443.00,179.55 L443.50,179.40 L444.00,179.25 L444.50,179.10 L445.00,178.94 L445.50,178.78 L446.00,178.62 L446.50,178.46 L447.00,178.29 L447.50,178.12 L448.00,177.95 L448.50,177.77 L449.00,177.59 L449.50,177.40 L450.00,177.21 L450.50,177.02 L451.00,176.82 L451.50,176.62 L452.00,176.43 L452.50,176.24 L453.00,176.04 L453.50,175.85 L454.00,175.66 L454.50,175.46 L455.00,175.26 L455.50,175.05 L456.00,174.84 L456.50,174.62 L457.00,174.40 L457.50,174.16 L458.00,173.91 L458.50,173.66 L459.00,173.39 L459.50,173.11 L460.00,172.81 L460.50,172.50 L461.00,172.17 L461.50,171.82 L462.00,171.46 L462.50,171.07 L463.00,170.67 L463.50,170.22 L464.00,169.62 L464.50,168.88 L465.00,168.03 L465.50,167.09 L466.00,166.08 L466.50,165.03 L467.00,163.95 L467.50,162.87 L468.00,161.80 L468.50,160.78 L469.00,159.83 L469.50,158.96 L470.00,158.20 L470.50,157.51 L471.00,156.85 L471.50,156.21 L472.00,155.59 L472.50,154.99 L473.00,154.41 L473.50,153.84 L474.00,153.29 L474.50,152.75 L475.00,152.22 L475.50,151.70 L476.00,151.19 L476.50,150.68 L477.00,150.18 L477.50,149.69 L478.00,149.20 L478.50,148.70 L479.00,148.22 L479.50,147.74 L480.00,147.26 L480.50,146.80 L481.00,146.34 L481.50,145.89 L482.00,145.44 L482.50,145.00 L483.00,144.56 L483.50,144.13 L484.00,143.71 L484.50,143.29 L485.00,142.88 L485.50,142.48 L486.00,142.07 L486.50,141.68 L487.00,141.29 L487.50,140.90 L488.00,140.53 L488.50,140.15 L489.00,139.78 L489.50,139.42 L490.00,139.06 L490.50,138.70 L491.00,138.35 L491.50,138.00 L492.00,137.66 L492.50,137.32 L493.00,136.97 L493.50,136.64 L494.00,136.30 L494.50,135.96 L495.00,135.63 L495.50,135.30 L496.00,134.96 L496.50,134.63 L497.00,134.30 L497.50,133.97 L498.00,133.65 L498.50,133.33 L499.00,133.01 L499.50,132.70 L500.00,132.39 L500.50,132.08 L501.00,131.78 L501.50,131.48 L502.00,131.17 L502.50,130.87 L503.00,130.57 L503.50,130.27 L504.00,129.96 L504.50,129.65 L505.00,129.34 L505.50,129.03 L506.00,128.71 L506.50,128.38 L507.00,128.05 L507.50,127.72 L508.00,127.38 L508.50,127.03 L509.00,126.66 L509.50,126.27 L510.00,125.85 L510.50,125.43 L511.00,125.00 L511.50,124.57 L512.00,124.14 L512.50,123.73 L513.00,123.33 L513.50,122.95 L514.00,122.60 L514.50,122.28 L515.00,122.00 L515.50,121.75 L516.00,121.51 L516.50,121.28 L517.00,121.06 L517.50,120.85 L518.00,120.65 L518.50,120.45 L519.00,120.27 L519.50,120.08 L520.00,119.91 L520.50,119.74 L521.00,119.57 L521.50,119.40 L522.00,119.24 L522.50,119.08 L523.00,118.92 L523.50,118.76 L524.00,118.60 L524.50,118.44 L525.00,118.27 L525.50,118.10 L526.00,117.93 L526.50,117.76 L527.00,117.59 L527.50,117.41 L528.00,117.24 L528.50,117.07 L529.00,116.90 L529.50,116.73 L530.00,116.56 L530.50,116.40 L531.00,116.23 L531.50,116.07 L532.00,115.90 L532.50,115.74 L533.00,115.58 L533.50,115.43 L534.00,115.27 L534.50,115.12 L535.00,114.97 L535.50,114.82 L536.00,114.67 L536.50,114.53 L537.00,114.39 L537.50,114.25 L538.00,114.11 L538.50,113.97 L539.00,113.84 L539.50,113.70 L540.00,113.57 L540.50,113.43 L541.00,113.30 L541.50,113.18 L542.00,113.05 L542.50,112.92 L543.00,112.80 L543.50,112.68 L544.00,112.56 L544.50,112.44 L545.00,112.32 L545.50,112.21 L546.00,112.10 L546.50,111.99 L547.00,111.88 L547.50,111.78 L548.00,111.68 L548.50,111.58 L549.00,111.48 L549.50,111.38 L550.00,111.28 L550.50,111.19 L551.00,111.10 L551.50,111.00 L552.00,110.91 L552.50,110.82 L553.00,110.74 L553.50,110.65 L554.00,110.57 L554.50,110.48 L555.00,110.40 L555.50,110.32 L556.00,110.24 L556.50,110.16 L557.00,110.08 L557.50,110.01 L558.00,109.93 L558.50,109.86 L559.00,109.78 L559.50,109.70 L560.00,109.62 L560.50,109.54 L561.00,109.46 L561.50,109.39 L562.00,109.31 L562.50,109.23 L563.00,109.15 L563.50,109.08 L564.00,109.01 L564.50,108.94 L565.00,108.87 L565.50,108.81 L566.00,108.75 L566.50,108.70 L567.00,108.65 L567.50,108.60 L568.00,108.57 L568.50,108.53 L569.00,108.50 L569.50,108.48 L570.00,108.46 L570.50,108.44 L571.00,108.42 L571.50,108.40 L572.00,108.38 L572.50,108.36 L573.00,108.34 L573.50,108.32 L574.00,108.31 L574.50,108.29 L575.00,108.28 L575.50,108.26 L576.00,108.25 L576.50,108.24 L577.00,108.23 L577.50,108.22 L578.00,108.21 L578.50,108.21 L579.00,108.20 L579.50,108.20 L580.00,108.20 L580.50,108.20 L581.00,108.20 L581.50,108.20 L582.00,108.20 L582.50,108.20 L583.00,108.20 L583.50,108.20 L584.00,108.20 L584.50,108.20 L585.00,108.20 L585.50,108.20 L586.00,108.20 L586.50,108.20 L587.00,108.20 L587.50,108.20 L588.00,108.20 L588.50,108.20 L589.00,108.20 L589.50,108.20 L590.00,108.20 L590.50,108.20 L591.00,108.21 L591.50,108.22 L592.00,108.23 L592.50,108.24 L593.00,108.26 L593.50,108.28 L594.00,108.30 L594.50,108.33 L595.00,108.35 L595.50,108.38 L596.00,108.40 L596.50,108.43 L597.00,108.46 L597.50,108.48 L598.00,108.51 L598.50,108.53 L599.00,108.56 L599.50,108.58 L600.00,108.60 L600.50,108.62 L601.00,108.64 L601.50,108.67 L602.00,108.69 L602.50,108.71 L603.00,108.74 L603.50,108.77 L604.00,108.79 L604.50,108.82 L605.00,108.84 L605.50,108.87 L606.00,108.89 L606.50,108.91 L607.00,108.93 L607.50,108.95 L608.00,108.96 L608.50,108.98 L609.00,108.99 L609.50,108.99 L610.00,109.00 L610.50,109.00 L611.00,109.00 L611.50,108.99 L612.00,108.97 L612.50,108.95 L613.00,108.93 L613.50,108.90 L614.00,108.87 L614.50,108.84 L615.00,108.80 L615.50,108.76 L616.00,108.71 L616.50,108.66 L617.00,108.61 L617.50,108.56 L618.00,108.51 L618.50,108.45 L619.00,108.40 L619.50,108.34 L620.00,108.28 L620.50,108.22 L621.00,108.16 L621.50,108.09 L622.00,108.01 L622.50,107.92 L623.00,107.82 L623.50,107.72 L624.00,107.60 L624.50,107.48 L625.00,107.36 L625.50,107.23 L626.00,107.09 L626.50,106.96 L627.00,106.82 L627.50,106.68 L628.00,106.54 L628.50,106.40 L629.00,106.26 L629.50,106.12 L630.00,105.98 L630.50,105.85 L631.00,105.72 L631.50,105.60 L632.00,105.46 L632.50,105.30 L633.00,105.15 L633.50,104.98 L634.00,104.81 L634.50,104.64 L635.00,104.47 L635.50,104.31 L636.00,104.15 L636.50,103.99 L637.00,103.85 L637.50,103.72 L638.00,103.60 L638.50,103.50 L639.00,103.41 L639.50,103.35 L640.00,103.31 L640.50,103.30 L641.00,103.31 L641.50,103.34 L642.00,103.39 L642.50,103.45 L643.00,103.53 L643.50,103.62 L644.00,103.72 L644.50,103.83 L645.00,103.95 L645.50,104.07 L646.00,104.22 L646.50,104.43 L647.00,104.69 L647.50,104.99 L648.00,105.34 L648.50,105.73 L649.00,106.14 L649.50,106.58 L650.00,107.04 L650.50,107.51 L651.00,108.00 L651.50,108.55 L652.00,109.17 L652.50,109.86 L653.00,110.59 L653.50,111.36 L654.00,112.17 L654.50,112.99 L655.00,113.83 L655.50,114.67 L656.00,115.55 L656.50,116.47 L657.00,117.44 L657.50,118.44 L658.00,119.45 L658.50,120.48 L659.00,121.50 L659.50,122.50 L660.00,123.50 L660.50,124.51 L661.00,125.53 L661.50,126.55 L662.00,127.57 L662.50,128.59 L663.00,129.60 L663.50,130.60 L664.00,131.59 L664.50,132.54 L665.00,133.48 L665.50,134.40 L666.00,135.31 L666.50,136.24 L667.00,137.18 L667.50,138.14 L668.00,139.15 L668.50,140.20 L669.00,141.30 L669.50,142.48 L670.00,143.75 L670.50,145.09 L671.00,146.47 L671.50,147.87 L672.00,149.29 L672.50,150.69 L673.00,152.06 L673.50,153.40 L674.00,154.72 L674.50,156.03 L675.00,157.34 L675.50,158.64 L676.00,159.95 L676.50,161.26 L677.00,162.58 L677.50,163.90 L678.00,165.24 L678.50,166.61 L679.00,167.99 L679.50,169.37 L680.00,170.74 L680.50,172.09 L681.00,173.41 L681.50,174.70 L682.00,175.95 L682.50,177.21 L683.00,178.48 L683.50,179.72 L684.00,180.94 L684.50,182.10 L685.00,183.19 L685.50,184.20 L686.00,185.10 L686.50,185.94 L687.00,186.75 L687.50,187.53 L688.00,188.27 L688.50,188.95 L689.00,189.57 L689.50,190.11 L690.00,190.55 L690.50,190.91 L691.00,191.26 L691.50,191.60 L692.00,191.93 L692.50,192.25 L693.00,192.56 L693.50,192.86 L694.00,193.15 L694.50,193.42 L695.00,193.67 L695.50,193.90 L696.00,194.12 L696.50,194.32 L697.00,194.49 L697.50,194.64 L698.00,194.77 L698.50,194.87 L699.00,194.94 L699.50,194.98 L700.00,195.00" stroke="#808000" stroke-width="1.7" stroke-dasharray="3.2,2.6"/>
<path d="M403.00,181.90 L403.50,181.85 L404.00,181.80 L404.50,181.75 L405.00,181.70 L405.50,181.65 L406.00,181.59 L406.50,181.54 L407.00,181.48 L407.50,181.42 L408.00,181.36 L408.50,181.30 L409.00,181.23 L409.50,181.17 L410.00,181.10 L410.50,181.03 L411.00,180.96 L411.50,180.89 L412.00,180.82 L412.50,180.75 L413.00,180.68 L413.50,180.60 L414.00,180.53 L414.50,180.45 L415.00,180.38 L415.50,180.30 L416.00,180.22 L416.50,180.14 L417.00,180.06 L417.50,179.98 L418.00,179.90 L418.50,179.82 L419.00,179.73 L419.50,179.65 L420.00,179.56 L420.50,179.47 L421.00,179.38 L421.50,179.28 L422.00,179.19 L422.50,179.09 L423.00,178.99 L423.50,178.88 L424.00,178.78 L424.50,178.67 L425.00,178.57 L425.50,178.46 L426.00,178.34 L426.50,178.23 L427.00,178.11 L427.50,178.00 L428.00,177.88 L428.50,177.75 L429.00,177.63 L429.50,177.49 L430.00,177.36 L430.50,177.22 L431.00,177.08 L431.50,176.94 L432.00,176.79 L432.50,176.64 L433.00,176.49 L433.50,176.33 L434.00,176.18 L434.50,176.02 L435.00,175.86 L435.50,175.70 L436.00,175.53 L436.50,175.37 L437.00,175.20 L437.50,175.03 L438.00,174.87 L438.50,174.70 L439.00,174.53 L439.50,174.37 L440.00,174.21 L440.50,174.04 L441.00,173.87 L441.50,173.70 L442.00,173.52 L442.50,173.34 L443.00,173.14 L443.50,172.95 L444.00,172.74 L444.50,172.52 L445.00,172.29 L445.50,172.05 L446.00,171.79 L446.50,171.51 L447.00,171.19 L447.50,170.84 L448.00,170.48 L448.50,170.10 L449.00,169.70 L449.50,169.30 L450.00,168.90 L450.50,168.50 L451.00,168.10 L451.50,167.71 L452.00,167.31 L452.50,166.92 L453.00,166.52 L453.50,166.12 L454.00,165.71 L454.50,165.30 L455.00,164.89 L455.50,164.47 L456.00,164.04 L456.50,163.60 L457.00,163.15 L457.50,162.69 L458.00,162.22 L458.50,161.74 L459.00,161.24 L459.50,160.74 L460.00,160.21 L460.50,159.67 L461.00,159.11 L461.50,158.54 L462.00,157.93 L462.50,157.28 L463.00,156.57 L463.50,155.82 L464.00,155.03 L464.50,154.21 L465.00,153.37 L465.50,152.50 L466.00,151.63 L466.50,150.75 L467.00,149.87 L467.50,149.00 L468.00,148.15 L468.50,147.32 L469.00,146.51 L469.50,145.74 L470.00,144.99 L470.50,144.26 L471.00,143.54 L471.50,142.83 L472.00,142.12 L472.50,141.40 L473.00,140.68 L473.50,139.94 L474.00,139.19 L474.50,138.41 L475.00,137.60 L475.50,136.75 L476.00,135.83 L476.50,134.84 L477.00,133.80 L477.50,132.74 L478.00,131.68 L478.50,130.63 L479.00,129.61 L479.50,128.66 L480.00,127.78 L480.50,127.00 L481.00,126.29 L481.50,125.61 L482.00,124.96 L482.50,124.33 L483.00,123.73 L483.50,123.14 L484.00,122.58 L484.50,122.04 L485.00,121.51 L485.50,121.00 L486.00,120.50 L486.50,120.01 L487.00,119.53 L487.50,119.06 L488.00,118.60 L488.50,118.15 L489.00,117.72 L489.50,117.30 L490.00,116.90 L490.50,116.51 L491.00,116.13 L491.50,115.76 L492.00,115.39 L492.50,115.03 L493.00,114.66 L493.50,114.30 L494.00,113.94 L494.50,113.57 L495.00,113.20 L495.50,112.82 L496.00,112.42 L496.50,112.02 L497.00,111.60 L497.50,111.17 L498.00,110.72 L498.50,110.27 L499.00,109.82 L499.50,109.36 L500.00,108.91 L500.50,108.47 L501.00,108.03 L501.50,107.60 L502.00,107.19 L502.50,106.80 L503.00,106.43 L503.50,106.07 L504.00,105.71 L504.50,105.36 L505.00,105.01 L505.50,104.67 L506.00,104.33 L506.50,104.01 L507.00,103.69 L507.50,103.38 L508.00,103.08 L508.50,102.79 L509.00,102.51 L509.50,102.25 L510.00,101.99 L510.50,101.75 L511.00,101.52 L511.50,101.30 L512.00,101.09 L512.50,100.88 L513.00,100.68 L513.50,100.49 L514.00,100.30 L514.50,100.12 L515.00,99.94 L515.50,99.77 L516.00,99.60 L516.50,99.43 L517.00,99.26 L517.50,99.10 L518.00,98.94 L518.50,98.77 L519.00,98.62 L519.50,98.46 L520.00,98.31 L520.50,98.17 L521.00,98.02 L521.50,97.88 L522.00,97.74 L522.50,97.60 L523.00,97.47 L523.50,97.33 L524.00,97.20 L524.50,97.07 L525.00,96.94 L525.50,96.81 L526.00,96.67 L526.50,96.54 L527.00,96.40 L527.50,96.28 L528.00,96.16 L528.50,96.05 L529.00,95.95 L529.50,95.87 L530.00,95.80 L530.50,95.74 L531.00,95.68 L531.50,95.63 L532.00,95.57 L532.50,95.52 L533.00,95.47 L533.50,95.43 L534.00,95.38 L534.50,95.34 L535.00,95.31 L535.50,95.28 L536.00,95.25 L536.50,95.23 L537.00,95.21 L537.50,95.20 L538.00,95.20 L538.50,95.20 L539.00,95.21 L539.50,95.22 L540.00,95.23 L540.50,95.25 L541.00,95.26 L541.50,95.29 L542.00,95.31 L542.50,95.34 L543.00,95.37 L543.50,95.40 L544.00,95.43 L544.50,95.46 L545.00,95.50 L545.50,95.55 L546.00,95.62 L546.50,95.71 L547.00,95.82 L547.50,95.94 L548.00,96.08 L548.50,96.22 L549.00,96.37 L549.50,96.53 L550.00,96.69 L550.50,96.85 L551.00,97.00 L551.50,97.15 L552.00,97.29 L552.50,97.43 L553.00,97.55 L553.50,97.68 L554.00,97.81 L554.50,97.94 L555.00,98.07 L555.50,98.20 L556.00,98.32 L556.50,98.45 L557.00,98.58 L557.50,98.71 L558.00,98.84 L558.50,98.97 L559.00,99.10 L559.50,99.22 L560.00,99.35 L560.50,99.48 L561.00,99.61 L561.50,99.74 L562.00,99.86 L562.50,99.99 L563.00,100.12 L563.50,100.25 L564.00,100.37 L564.50,100.50 L565.00,100.63 L565.50,100.75 L566.00,100.87 L566.50,101.00 L567.00,101.12 L567.50,101.24 L568.00,101.36 L568.50,101.48 L569.00,101.60 L569.50,101.72 L570.00,101.84 L570.50,101.96 L571.00,102.08 L571.50,102.20 L572.00,102.32 L572.50,102.44 L573.00,102.57 L573.50,102.69 L574.00,102.82 L574.50,102.94 L575.00,103.07 L575.50,103.21 L576.00,103.34 L576.50,103.48 L577.00,103.62 L577.50,103.76 L578.00,103.90 L578.50,104.05 L579.00,104.20 L579.50,104.35 L580.00,104.51 L580.50,104.67 L581.00,104.83 L581.50,104.99 L582.00,105.15 L582.50,105.32 L583.00,105.49 L583.50,105.66 L584.00,105.82 L584.50,105.99 L585.00,106.17 L585.50,106.34 L586.00,106.51 L586.50,106.68 L587.00,106.85 L587.50,107.02 L588.00,107.19 L588.50,107.36 L589.00,107.53 L589.50,107.70 L590.00,107.87 L590.50,108.03 L591.00,108.20 L591.50,108.36 L592.00,108.53 L592.50,108.70 L593.00,108.86 L593.50,109.03 L594.00,109.19 L594.50,109.36 L595.00,109.53 L595.50,109.69 L596.00,109.86 L596.50,110.03 L597.00,110.20 L597.50,110.37 L598.00,110.54 L598.50,110.71 L599.00,110.88 L599.50,111.05 L600.00,111.22 L600.50,111.40 L601.00,111.57 L601.50,111.75 L602.00,111.93 L602.50,112.11 L603.00,112.29 L603.50,112.48 L604.00,112.67 L604.50,112.87 L605.00,113.06 L605.50,113.26 L606.00,113.45 L606.50,113.65 L607.00,113.85 L607.50,114.04 L608.00,114.23 L608.50,114.42 L609.00,114.61 L609.50,114.79 L610.00,114.96 L610.50,115.13 L611.00,115.30 L611.50,115.46 L612.00,115.62 L612.50,115.78 L613.00,115.93 L613.50,116.09 L614.00,116.24 L614.50,116.39 L615.00,116.54 L615.50,116.68 L616.00,116.83 L616.50,116.97 L617.00,117.12 L617.50,117.26 L618.00,117.41 L618.50,117.55 L619.00,117.70 L619.50,117.84 L620.00,117.99 L620.50,118.14 L621.00,118.29 L621.50,118.43 L622.00,118.58 L622.50,118.72 L623.00,118.86 L623.50,118.99 L624.00,119.13 L624.50,119.26 L625.00,119.40 L625.50,119.54 L626.00,119.67 L626.50,119.81 L627.00,119.96 L627.50,120.10 L628.00,120.25 L628.50,120.41 L629.00,120.57 L629.50,120.73 L630.00,120.90 L630.50,121.08 L631.00,121.26 L631.50,121.45 L632.00,121.65 L632.50,121.85 L633.00,122.06 L633.50,122.27 L634.00,122.49 L634.50,122.72 L635.00,122.96 L635.50,123.21 L636.00,123.47 L636.50,123.73 L637.00,124.01 L637.50,124.30 L638.00,124.60 L638.50,124.91 L639.00,125.23 L639.50,125.57 L640.00,125.93 L640.50,126.33 L641.00,126.76 L641.50,127.21 L642.00,127.69 L642.50,128.19 L643.00,128.72 L643.50,129.26 L644.00,129.82 L644.50,130.40 L645.00,130.98 L645.50,131.58 L646.00,132.21 L646.50,132.93 L647.00,133.70 L647.50,134.49 L648.00,135.27 L648.50,136.01 L649.00,136.68 L649.50,137.26 L650.00,137.79 L650.50,138.27 L651.00,138.74 L651.50,139.19 L652.00,139.66 L652.50,140.16 L653.00,140.70 L653.50,141.30 L654.00,141.98 L654.50,142.74 L655.00,143.57 L655.50,144.44 L656.00,145.36 L656.50,146.30 L657.00,147.26 L657.50,148.23 L658.00,149.18 L658.50,150.12 L659.00,151.02 L659.50,151.90 L660.00,152.78 L660.50,153.66 L661.00,154.54 L661.50,155.42 L662.00,156.29 L662.50,157.16 L663.00,158.03 L663.50,158.89 L664.00,159.75 L664.50,160.60 L665.00,161.44 L665.50,162.27 L666.00,163.11 L666.50,163.94 L667.00,164.77 L667.50,165.60 L668.00,166.42 L668.50,167.23 L669.00,168.04 L669.50,168.84 L670.00,169.63 L670.50,170.41 L671.00,171.19 L671.50,171.95 L672.00,172.70 L672.50,173.46 L673.00,174.22 L673.50,174.98 L674.00,175.74 L674.50,176.49 L675.00,177.24 L675.50,177.97 L676.00,178.68 L676.50,179.38 L677.00,180.05 L677.50,180.69 L678.00,181.30 L678.50,181.87 L679.00,182.40 L679.50,182.92 L680.00,183.43 L680.50,183.92 L681.00,184.41 L681.50,184.88 L682.00,185.34 L682.50,185.78 L683.00,186.22 L683.50,186.63 L684.00,187.04 L684.50,187.42 L685.00,187.79 L685.50,188.14 L686.00,188.47 L686.50,188.79 L687.00,189.08 L687.50,189.35 L688.00,189.61 L688.50,189.87 L689.00,190.12 L689.50,190.35 L690.00,190.58 L690.50,190.80 L691.00,191.01 L691.50,191.21 L692.00,191.39 L692.50,191.57 L693.00,191.73 L693.50,191.87 L694.00,192.00 L694.50,192.12 L695.00,192.23 L695.50,192.34 L696.00,192.44 L696.50,192.54 L697.00,192.64 L697.50,192.72 L698.00,192.80 L698.50,192.86 L699.00,192.92 L699.50,192.97 L700.00,193.00" stroke="#ff00ff" stroke-width="1.7" stroke-dasharray="6.2,3.3,1.6,3.3,1.6,3.3"/>
<path d="M403.00,178.90 L403.50,178.87 L404.00,178.84 L404.50,178.80 L405.00,178.76 L405.50,178.72 L406.00,178.67 L406.50,178.62 L407.00,178.57 L407.50,178.52 L408.00,178.46 L408.50,178.40 L409.00,178.34 L409.50,178.27 L410.00,178.20 L410.50,178.14 L411.00,178.06 L411.50,177.99 L412.00,177.91 L412.50,177.84 L413.00,177.76 L413.50,177.68 L414.00,177.60 L414.50,177.51 L415.00,177.43 L415.50,177.34 L416.00,177.26 L416.50,177.17 L417.00,177.08 L417.50,176.99 L418.00,176.90 L418.50,176.80 L419.00,176.70 L419.50,176.58 L420.00,176.46 L420.50,176.33 L421.00,176.20 L421.50,176.06 L422.00,175.91 L422.50,175.77 L423.00,175.62 L423.50,175.47 L424.00,175.32 L424.50,175.18 L425.00,175.03 L425.50,174.89 L426.00,174.76 L426.50,174.63 L427.00,174.50 L427.50,174.39 L428.00,174.28 L428.50,174.18 L429.00,174.09 L429.50,174.01 L430.00,173.94 L430.50,173.87 L431.00,173.80 L431.50,173.73 L432.00,173.66 L432.50,173.59 L433.00,173.52 L433.50,173.43 L434.00,173.34 L434.50,173.24 L435.00,173.13 L435.50,173.01 L436.00,172.87 L436.50,172.68 L437.00,172.44 L437.50,172.16 L438.00,171.83 L438.50,171.47 L439.00,171.09 L439.50,170.70 L440.00,170.30 L440.50,169.89 L441.00,169.50 L441.50,169.12 L442.00,168.76 L442.50,168.41 L443.00,168.06 L443.50,167.72 L444.00,167.38 L444.50,167.03 L445.00,166.68 L445.50,166.32 L446.00,165.95 L446.50,165.58 L447.00,165.18 L447.50,164.78 L448.00,164.35 L448.50,163.91 L449.00,163.45 L449.50,162.97 L450.00,162.47 L450.50,161.96 L451.00,161.44 L451.50,160.89 L452.00,160.34 L452.50,159.76 L453.00,159.17 L453.50,158.57 L454.00,157.95 L454.50,157.32 L455.00,156.67 L455.50,156.01 L456.00,155.33 L456.50,154.64 L457.00,153.94 L457.50,153.21 L458.00,152.43 L458.50,151.59 L459.00,150.72 L459.50,149.81 L460.00,148.88 L460.50,147.92 L461.00,146.96 L461.50,145.99 L462.00,145.03 L462.50,144.07 L463.00,143.14 L463.50,142.23 L464.00,141.36 L464.50,140.52 L465.00,139.73 L465.50,138.96 L466.00,138.22 L466.50,137.49 L467.00,136.77 L467.50,136.07 L468.00,135.37 L468.50,134.68 L469.00,134.00 L469.50,133.31 L470.00,132.62 L470.50,131.92 L471.00,131.22 L471.50,130.50 L472.00,129.77 L472.50,129.03 L473.00,128.29 L473.50,127.54 L474.00,126.79 L474.50,126.04 L475.00,125.29 L475.50,124.54 L476.00,123.81 L476.50,123.08 L477.00,122.37 L477.50,121.67 L478.00,120.99 L478.50,120.33 L479.00,119.67 L479.50,119.03 L480.00,118.39 L480.50,117.76 L481.00,117.13 L481.50,116.51 L482.00,115.89 L482.50,115.27 L483.00,114.64 L483.50,114.02 L484.00,113.38 L484.50,112.74 L485.00,112.09 L485.50,111.43 L486.00,110.76 L486.50,110.09 L487.00,109.41 L487.50,108.74 L488.00,108.08 L488.50,107.42 L489.00,106.77 L489.50,106.14 L490.00,105.53 L490.50,104.94 L491.00,104.37 L491.50,103.81 L492.00,103.24 L492.50,102.68 L493.00,102.12 L493.50,101.57 L494.00,101.04 L494.50,100.52 L495.00,100.02 L495.50,99.55 L496.00,99.11 L496.50,98.69 L497.00,98.31 L497.50,97.97 L498.00,97.64 L498.50,97.32 L499.00,97.02 L499.50,96.73 L500.00,96.45 L500.50,96.18 L501.00,95.92 L501.50,95.68 L502.00,95.44 L502.50,95.21 L503.00,95.00 L503.50,94.79 L504.00,94.60 L504.50,94.41 L505.00,94.23 L505.50,94.06 L506.00,93.90 L506.50,93.74 L507.00,93.59 L507.50,93.45 L508.00,93.31 L508.50,93.17 L509.00,93.04 L509.50,92.92 L510.00,92.80 L510.50,92.68 L511.00,92.57 L511.50,92.45 L512.00,92.33 L512.50,92.21 L513.00,92.09 L513.50,91.97 L514.00,91.86 L514.50,91.76 L515.00,91.68 L515.50,91.63 L516.00,91.60 L516.50,91.59 L517.00,91.57 L517.50,91.56 L518.00,91.55 L518.50,91.54 L519.00,91.54 L519.50,91.53 L520.00,91.52 L520.50,91.52 L521.00,91.51 L521.50,91.51 L522.00,91.50 L522.50,91.50 L523.00,91.50 L523.50,91.50 L524.00,91.51 L524.50,91.52 L525.00,91.55 L525.50,91.58 L526.00,91.63 L526.50,91.67 L527.00,91.72 L527.50,91.78 L528.00,91.84 L528.50,91.90 L529.00,91.97 L529.50,92.03 L530.00,92.10 L530.50,92.17 L531.00,92.25 L531.50,92.34 L532.00,92.43 L532.50,92.53 L533.00,92.64 L533.50,92.76 L534.00,92.89 L534.50,93.02 L535.00,93.15 L535.50,93.29 L536.00,93.44 L536.50,93.58 L537.00,93.74 L537.50,93.89 L538.00,94.05 L538.50,94.21 L539.00,94.37 L539.50,94.54 L540.00,94.70 L540.50,94.87 L541.00,95.04 L541.50,95.20 L542.00,95.37 L542.50,95.53 L543.00,95.71 L543.50,95.90 L544.00,96.09 L544.50,96.29 L545.00,96.49 L545.50,96.69 L546.00,96.90 L546.50,97.10 L547.00,97.30 L547.50,97.50 L548.00,97.70 L548.50,97.89 L549.00,98.09 L549.50,98.29 L550.00,98.49 L550.50,98.70 L551.00,98.90 L551.50,99.11 L552.00,99.33 L552.50,99.54 L553.00,99.76 L553.50,99.99 L554.00,100.22 L554.50,100.45 L555.00,100.68 L555.50,100.91 L556.00,101.15 L556.50,101.39 L557.00,101.63 L557.50,101.87 L558.00,102.11 L558.50,102.36 L559.00,102.61 L559.50,102.85 L560.00,103.10 L560.50,103.35 L561.00,103.60 L561.50,103.85 L562.00,104.10 L562.50,104.35 L563.00,104.60 L563.50,104.85 L564.00,105.11 L564.50,105.36 L565.00,105.62 L565.50,105.88 L566.00,106.14 L566.50,106.40 L567.00,106.66 L567.50,106.92 L568.00,107.19 L568.50,107.45 L569.00,107.71 L569.50,107.98 L570.00,108.24 L570.50,108.50 L571.00,108.76 L571.50,109.02 L572.00,109.28 L572.50,109.54 L573.00,109.80 L573.50,110.05 L574.00,110.31 L574.50,110.56 L575.00,110.81 L575.50,111.06 L576.00,111.31 L576.50,111.56 L577.00,111.81 L577.50,112.06 L578.00,112.31 L578.50,112.56 L579.00,112.81 L579.50,113.06 L580.00,113.30 L580.50,113.55 L581.00,113.80 L581.50,114.05 L582.00,114.30 L582.50,114.55 L583.00,114.80 L583.50,115.05 L584.00,115.30 L584.50,115.55 L585.00,115.80 L585.50,116.06 L586.00,116.31 L586.50,116.56 L587.00,116.81 L587.50,117.07 L588.00,117.32 L588.50,117.57 L589.00,117.83 L589.50,118.08 L590.00,118.33 L590.50,118.59 L591.00,118.84 L591.50,119.09 L592.00,119.34 L592.50,119.60 L593.00,119.85 L593.50,120.10 L594.00,120.35 L594.50,120.60 L595.00,120.86 L595.50,121.12 L596.00,121.38 L596.50,121.64 L597.00,121.91 L597.50,122.17 L598.00,122.43 L598.50,122.70 L599.00,122.96 L599.50,123.22 L600.00,123.47 L600.50,123.73 L601.00,123.98 L601.50,124.22 L602.00,124.47 L602.50,124.70 L603.00,124.93 L603.50,125.16 L604.00,125.37 L604.50,125.58 L605.00,125.78 L605.50,125.98 L606.00,126.17 L606.50,126.35 L607.00,126.53 L607.50,126.70 L608.00,126.87 L608.50,127.04 L609.00,127.21 L609.50,127.37 L610.00,127.53 L610.50,127.70 L611.00,127.86 L611.50,128.03 L612.00,128.20 L612.50,128.37 L613.00,128.54 L613.50,128.72 L614.00,128.91 L614.50,129.10 L615.00,129.30 L615.50,129.50 L616.00,129.71 L616.50,129.92 L617.00,130.14 L617.50,130.36 L618.00,130.58 L618.50,130.81 L619.00,131.04 L619.50,131.27 L620.00,131.51 L620.50,131.75 L621.00,131.99 L621.50,132.24 L622.00,132.50 L622.50,132.75 L623.00,133.01 L623.50,133.27 L624.00,133.54 L624.50,133.82 L625.00,134.09 L625.50,134.37 L626.00,134.66 L626.50,134.95 L627.00,135.24 L627.50,135.54 L628.00,135.84 L628.50,136.15 L629.00,136.46 L629.50,136.78 L630.00,137.10 L630.50,137.42 L631.00,137.75 L631.50,138.09 L632.00,138.43 L632.50,138.78 L633.00,139.13 L633.50,139.49 L634.00,139.86 L634.50,140.24 L635.00,140.63 L635.50,141.02 L636.00,141.42 L636.50,141.83 L637.00,142.25 L637.50,142.68 L638.00,143.12 L638.50,143.58 L639.00,144.04 L639.50,144.51 L640.00,144.99 L640.50,145.51 L641.00,146.04 L641.50,146.61 L642.00,147.19 L642.50,147.80 L643.00,148.43 L643.50,149.08 L644.00,149.75 L644.50,150.44 L645.00,151.14 L645.50,151.86 L646.00,152.60 L646.50,153.42 L647.00,154.30 L647.50,155.21 L648.00,156.13 L648.50,157.03 L649.00,157.88 L649.50,158.67 L650.00,159.43 L650.50,160.18 L651.00,160.92 L651.50,161.64 L652.00,162.35 L652.50,163.05 L653.00,163.74 L653.50,164.42 L654.00,165.09 L654.50,165.76 L655.00,166.41 L655.50,167.07 L656.00,167.71 L656.50,168.36 L657.00,169.00 L657.50,169.65 L658.00,170.29 L658.50,170.92 L659.00,171.56 L659.50,172.18 L660.00,172.79 L660.50,173.40 L661.00,173.99 L661.50,174.56 L662.00,175.13 L662.50,175.67 L663.00,176.19 L663.50,176.70 L664.00,177.19 L664.50,177.67 L665.00,178.14 L665.50,178.59 L666.00,179.04 L666.50,179.48 L667.00,179.91 L667.50,180.33 L668.00,180.75 L668.50,181.16 L669.00,181.56 L669.50,181.95 L670.00,182.34 L670.50,182.72 L671.00,183.10 L671.50,183.48 L672.00,183.85 L672.50,184.22 L673.00,184.60 L673.50,184.98 L674.00,185.36 L674.50,185.73 L675.00,186.10 L675.50,186.47 L676.00,186.83 L676.50,187.17 L677.00,187.51 L677.50,187.83 L678.00,188.14 L678.50,188.43 L679.00,188.70 L679.50,188.95 L680.00,189.18 L680.50,189.38 L681.00,189.57 L681.50,189.75 L682.00,189.93 L682.50,190.10 L683.00,190.26 L683.50,190.41 L684.00,190.56 L684.50,190.70 L685.00,190.84 L685.50,190.98 L686.00,191.11 L686.50,191.23 L687.00,191.35 L687.50,191.47 L688.00,191.59 L688.50,191.71 L689.00,191.82 L689.50,191.94 L690.00,192.05 L690.50,192.17 L691.00,192.28 L691.50,192.39 L692.00,192.50 L692.50,192.61 L693.00,192.72 L693.50,192.82 L694.00,192.93 L694.50,193.03 L695.00,193.13 L695.50,193.23 L696.00,193.32 L696.50,193.41 L697.00,193.51 L697.50,193.59 L698.00,193.68 L698.50,193.76 L699.00,193.85 L699.50,193.92 L700.00,194.00" stroke="#008080" stroke-width="1.7" stroke-dasharray="7.2,3.4,1.8,3.4"/>
<path d="M403.00,173.90 L403.50,173.90 L404.00,173.90 L404.50,173.89 L405.00,173.88 L405.50,173.88 L406.00,173.87 L406.50,173.85 L407.00,173.84 L407.50,173.82 L408.00,173.81 L408.50,173.79 L409.00,173.77 L409.50,173.75 L410.00,173.72 L410.50,173.70 L411.00,173.67 L411.50,173.65 L412.00,173.62 L412.50,173.59 L413.00,173.56 L413.50,173.53 L414.00,173.50 L414.50,173.46 L415.00,173.41 L415.50,173.34 L416.00,173.26 L416.50,173.17 L417.00,173.08 L417.50,172.97 L418.00,172.86 L418.50,172.74 L419.00,172.62 L419.50,172.50 L420.00,172.37 L420.50,172.25 L421.00,172.12 L421.50,172.00 L422.00,171.88 L422.50,171.76 L423.00,171.64 L423.50,171.52 L424.00,171.40 L424.50,171.28 L425.00,171.15 L425.50,171.02 L426.00,170.88 L426.50,170.73 L427.00,170.58 L427.50,170.42 L428.00,170.24 L428.50,170.06 L429.00,169.86 L429.50,169.62 L430.00,169.35 L430.50,169.04 L431.00,168.70 L431.50,168.35 L432.00,167.98 L432.50,167.60 L433.00,167.22 L433.50,166.85 L434.00,166.49 L434.50,166.15 L435.00,165.84 L435.50,165.55 L436.00,165.27 L436.50,165.00 L437.00,164.74 L437.50,164.49 L438.00,164.24 L438.50,164.00 L439.00,163.75 L439.50,163.51 L440.00,163.26 L440.50,163.00 L441.00,162.74 L441.50,162.46 L442.00,162.17 L442.50,161.87 L443.00,161.55 L443.50,161.21 L444.00,160.85 L444.50,160.47 L445.00,160.05 L445.50,159.61 L446.00,159.15 L446.50,158.66 L447.00,158.16 L447.50,157.63 L448.00,157.09 L448.50,156.53 L449.00,155.95 L449.50,155.36 L450.00,154.75 L450.50,154.10 L451.00,153.41 L451.50,152.68 L452.00,151.92 L452.50,151.13 L453.00,150.33 L453.50,149.53 L454.00,148.72 L454.50,147.91 L455.00,147.12 L455.50,146.35 L456.00,145.61 L456.50,144.89 L457.00,144.20 L457.50,143.51 L458.00,142.83 L458.50,142.15 L459.00,141.45 L459.50,140.73 L460.00,139.98 L460.50,139.19 L461.00,138.36 L461.50,137.47 L462.00,136.50 L462.50,135.37 L463.00,134.11 L463.50,132.77 L464.00,131.39 L464.50,130.03 L465.00,128.73 L465.50,127.54 L466.00,126.50 L466.50,125.58 L467.00,124.72 L467.50,123.91 L468.00,123.13 L468.50,122.39 L469.00,121.67 L469.50,120.97 L470.00,120.28 L470.50,119.58 L471.00,118.88 L471.50,118.18 L472.00,117.48 L472.50,116.79 L473.00,116.11 L473.50,115.45 L474.00,114.78 L474.50,114.13 L475.00,113.47 L475.50,112.81 L476.00,112.16 L476.50,111.50 L477.00,110.83 L477.50,110.16 L478.00,109.47 L478.50,108.79 L479.00,108.10 L479.50,107.41 L480.00,106.73 L480.50,106.07 L481.00,105.41 L481.50,104.78 L482.00,104.17 L482.50,103.58 L483.00,103.01 L483.50,102.43 L484.00,101.85 L484.50,101.28 L485.00,100.72 L485.50,100.17 L486.00,99.64 L486.50,99.13 L487.00,98.65 L487.50,98.19 L488.00,97.77 L488.50,97.38 L489.00,97.03 L489.50,96.71 L490.00,96.39 L490.50,96.09 L491.00,95.81 L491.50,95.53 L492.00,95.27 L492.50,95.01 L493.00,94.77 L493.50,94.54 L494.00,94.32 L494.50,94.11 L495.00,93.91 L495.50,93.72 L496.00,93.54 L496.50,93.37 L497.00,93.20 L497.50,93.04 L498.00,92.88 L498.50,92.73 L499.00,92.59 L499.50,92.45 L500.00,92.32 L500.50,92.19 L501.00,92.07 L501.50,91.95 L502.00,91.84 L502.50,91.74 L503.00,91.64 L503.50,91.55 L504.00,91.47 L504.50,91.38 L505.00,91.30 L505.50,91.22 L506.00,91.13 L506.50,91.05 L507.00,90.98 L507.50,90.90 L508.00,90.84 L508.50,90.78 L509.00,90.72 L509.50,90.68 L510.00,90.64 L510.50,90.62 L511.00,90.60 L511.50,90.60 L512.00,90.62 L512.50,90.64 L513.00,90.68 L513.50,90.74 L514.00,90.80 L514.50,90.87 L515.00,90.96 L515.50,91.04 L516.00,91.14 L516.50,91.23 L517.00,91.34 L517.50,91.44 L518.00,91.54 L518.50,91.67 L519.00,91.82 L519.50,91.98 L520.00,92.17 L520.50,92.37 L521.00,92.58 L521.50,92.81 L522.00,93.04 L522.50,93.28 L523.00,93.53 L523.50,93.77 L524.00,94.02 L524.50,94.26 L525.00,94.50 L525.50,94.74 L526.00,94.98 L526.50,95.22 L527.00,95.47 L527.50,95.73 L528.00,95.99 L528.50,96.25 L529.00,96.52 L529.50,96.79 L530.00,97.06 L530.50,97.34 L531.00,97.62 L531.50,97.90 L532.00,98.19 L532.50,98.48 L533.00,98.77 L533.50,99.06 L534.00,99.36 L534.50,99.66 L535.00,99.96 L535.50,100.27 L536.00,100.58 L536.50,100.90 L537.00,101.22 L537.50,101.55 L538.00,101.87 L538.50,102.21 L539.00,102.54 L539.50,102.88 L540.00,103.22 L540.50,103.56 L541.00,103.90 L541.50,104.25 L542.00,104.60 L542.50,104.96 L543.00,105.32 L543.50,105.69 L544.00,106.07 L544.50,106.45 L545.00,106.84 L545.50,107.22 L546.00,107.61 L546.50,107.99 L547.00,108.36 L547.50,108.73 L548.00,109.09 L548.50,109.44 L549.00,109.78 L549.50,110.11 L550.00,110.43 L550.50,110.75 L551.00,111.07 L551.50,111.38 L552.00,111.69 L552.50,112.00 L553.00,112.32 L553.50,112.63 L554.00,112.95 L554.50,113.27 L555.00,113.60 L555.50,113.93 L556.00,114.27 L556.50,114.62 L557.00,114.97 L557.50,115.33 L558.00,115.69 L558.50,116.05 L559.00,116.42 L559.50,116.78 L560.00,117.15 L560.50,117.52 L561.00,117.89 L561.50,118.25 L562.00,118.62 L562.50,118.98 L563.00,119.34 L563.50,119.71 L564.00,120.08 L564.50,120.45 L565.00,120.82 L565.50,121.19 L566.00,121.56 L566.50,121.93 L567.00,122.30 L567.50,122.67 L568.00,123.03 L568.50,123.39 L569.00,123.74 L569.50,124.09 L570.00,124.43 L570.50,124.77 L571.00,125.09 L571.50,125.41 L572.00,125.73 L572.50,126.04 L573.00,126.34 L573.50,126.64 L574.00,126.94 L574.50,127.24 L575.00,127.53 L575.50,127.83 L576.00,128.13 L576.50,128.43 L577.00,128.73 L577.50,129.04 L578.00,129.35 L578.50,129.66 L579.00,129.99 L579.50,130.32 L580.00,130.66 L580.50,131.00 L581.00,131.34 L581.50,131.69 L582.00,132.03 L582.50,132.38 L583.00,132.71 L583.50,133.04 L584.00,133.37 L584.50,133.68 L585.00,133.98 L585.50,134.27 L586.00,134.56 L586.50,134.84 L587.00,135.11 L587.50,135.37 L588.00,135.64 L588.50,135.89 L589.00,136.15 L589.50,136.40 L590.00,136.65 L590.50,136.89 L591.00,137.13 L591.50,137.37 L592.00,137.61 L592.50,137.85 L593.00,138.08 L593.50,138.32 L594.00,138.56 L594.50,138.79 L595.00,139.03 L595.50,139.27 L596.00,139.51 L596.50,139.75 L597.00,140.00 L597.50,140.24 L598.00,140.49 L598.50,140.75 L599.00,141.01 L599.50,141.27 L600.00,141.54 L600.50,141.81 L601.00,142.08 L601.50,142.36 L602.00,142.64 L602.50,142.92 L603.00,143.20 L603.50,143.49 L604.00,143.77 L604.50,144.06 L605.00,144.35 L605.50,144.64 L606.00,144.93 L606.50,145.23 L607.00,145.52 L607.50,145.82 L608.00,146.12 L608.50,146.42 L609.00,146.72 L609.50,147.03 L610.00,147.33 L610.50,147.64 L611.00,147.95 L611.50,148.26 L612.00,148.57 L612.50,148.89 L613.00,149.20 L613.50,149.52 L614.00,149.84 L614.50,150.16 L615.00,150.48 L615.50,150.80 L616.00,151.13 L616.50,151.45 L617.00,151.79 L617.50,152.12 L618.00,152.46 L618.50,152.80 L619.00,153.15 L619.50,153.49 L620.00,153.84 L620.50,154.19 L621.00,154.54 L621.50,154.90 L622.00,155.25 L622.50,155.61 L623.00,155.97 L623.50,156.33 L624.00,156.69 L624.50,157.05 L625.00,157.41 L625.50,157.77 L626.00,158.13 L626.50,158.49 L627.00,158.85 L627.50,159.21 L628.00,159.56 L628.50,159.92 L629.00,160.28 L629.50,160.63 L630.00,160.98 L630.50,161.33 L631.00,161.68 L631.50,162.02 L632.00,162.37 L632.50,162.72 L633.00,163.06 L633.50,163.40 L634.00,163.74 L634.50,164.09 L635.00,164.43 L635.50,164.77 L636.00,165.11 L636.50,165.45 L637.00,165.79 L637.50,166.14 L638.00,166.48 L638.50,166.82 L639.00,167.16 L639.50,167.51 L640.00,167.85 L640.50,168.20 L641.00,168.55 L641.50,168.89 L642.00,169.24 L642.50,169.59 L643.00,169.95 L643.50,170.30 L644.00,170.66 L644.50,171.02 L645.00,171.38 L645.50,171.75 L646.00,172.12 L646.50,172.49 L647.00,172.87 L647.50,173.26 L648.00,173.64 L648.50,174.02 L649.00,174.41 L649.50,174.80 L650.00,175.19 L650.50,175.57 L651.00,175.96 L651.50,176.34 L652.00,176.73 L652.50,177.11 L653.00,177.48 L653.50,177.86 L654.00,178.23 L654.50,178.60 L655.00,178.96 L655.50,179.31 L656.00,179.66 L656.50,180.01 L657.00,180.34 L657.50,180.67 L658.00,180.99 L658.50,181.31 L659.00,181.63 L659.50,181.95 L660.00,182.27 L660.50,182.58 L661.00,182.89 L661.50,183.20 L662.00,183.50 L662.50,183.80 L663.00,184.09 L663.50,184.38 L664.00,184.66 L664.50,184.94 L665.00,185.21 L665.50,185.47 L666.00,185.73 L666.50,185.98 L667.00,186.22 L667.50,186.45 L668.00,186.68 L668.50,186.90 L669.00,187.12 L669.50,187.33 L670.00,187.54 L670.50,187.75 L671.00,187.95 L671.50,188.15 L672.00,188.34 L672.50,188.53 L673.00,188.72 L673.50,188.90 L674.00,189.08 L674.50,189.26 L675.00,189.44 L675.50,189.61 L676.00,189.78 L676.50,189.94 L677.00,190.11 L677.50,190.27 L678.00,190.42 L678.50,190.58 L679.00,190.73 L679.50,190.88 L680.00,191.03 L680.50,191.18 L681.00,191.33 L681.50,191.47 L682.00,191.62 L682.50,191.76 L683.00,191.90 L683.50,192.04 L684.00,192.17 L684.50,192.31 L685.00,192.44 L685.50,192.57 L686.00,192.69 L686.50,192.81 L687.00,192.93 L687.50,193.05 L688.00,193.16 L688.50,193.27 L689.00,193.37 L689.50,193.47 L690.00,193.56 L690.50,193.65 L691.00,193.74 L691.50,193.83 L692.00,193.92 L692.50,194.00 L693.00,194.09 L693.50,194.17 L694.00,194.25 L694.50,194.32 L695.00,194.40 L695.50,194.47 L696.00,194.54 L696.50,194.61 L697.00,194.67 L697.50,194.73 L698.00,194.79 L698.50,194.85 L699.00,194.90 L699.50,194.95 L700.00,195.00" stroke="#0000ff" stroke-width="1.8" stroke-dasharray="1.7,5.8"/>
<path d="M403.00,169.00 L403.50,168.97 L404.00,168.93 L404.50,168.88 L405.00,168.83 L405.50,168.78 L406.00,168.72 L406.50,168.65 L407.00,168.58 L407.50,168.51 L408.00,168.43 L408.50,168.34 L409.00,168.26 L409.50,168.17 L410.00,168.07 L410.50,167.97 L411.00,167.87 L411.50,167.77 L412.00,167.66 L412.50,167.55 L413.00,167.44 L413.50,167.32 L414.00,167.20 L414.50,167.08 L415.00,166.96 L415.50,166.84 L416.00,166.71 L416.50,166.59 L417.00,166.46 L417.50,166.33 L418.00,166.20 L418.50,166.07 L419.00,165.92 L419.50,165.77 L420.00,165.61 L420.50,165.45 L421.00,165.27 L421.50,165.09 L422.00,164.91 L422.50,164.71 L423.00,164.51 L423.50,164.31 L424.00,164.10 L424.50,163.88 L425.00,163.66 L425.50,163.44 L426.00,163.21 L426.50,162.97 L427.00,162.74 L427.50,162.50 L428.00,162.25 L428.50,162.00 L429.00,161.75 L429.50,161.50 L430.00,161.25 L430.50,160.99 L431.00,160.71 L431.50,160.43 L432.00,160.13 L432.50,159.82 L433.00,159.51 L433.50,159.18 L434.00,158.84 L434.50,158.49 L435.00,158.13 L435.50,157.75 L436.00,157.35 L436.50,156.94 L437.00,156.52 L437.50,156.07 L438.00,155.62 L438.50,155.16 L439.00,154.69 L439.50,154.22 L440.00,153.74 L440.50,153.25 L441.00,152.77 L441.50,152.29 L442.00,151.81 L442.50,151.33 L443.00,150.86 L443.50,150.38 L444.00,149.89 L444.50,149.40 L445.00,148.88 L445.50,148.35 L446.00,147.79 L446.50,147.20 L447.00,146.58 L447.50,145.92 L448.00,145.23 L448.50,144.51 L449.00,143.77 L449.50,143.01 L450.00,142.22 L450.50,141.43 L451.00,140.62 L451.50,139.80 L452.00,138.98 L452.50,138.16 L453.00,137.34 L453.50,136.50 L454.00,135.64 L454.50,134.77 L455.00,133.88 L455.50,132.98 L456.00,132.07 L456.50,131.13 L457.00,130.19 L457.50,129.22 L458.00,128.22 L458.50,127.20 L459.00,126.15 L459.50,125.10 L460.00,124.05 L460.50,123.02 L461.00,122.00 L461.50,121.00 L462.00,119.99 L462.50,118.98 L463.00,117.98 L463.50,116.99 L464.00,116.01 L464.50,115.04 L465.00,114.10 L465.50,113.18 L466.00,112.27 L466.50,111.35 L467.00,110.43 L467.50,109.51 L468.00,108.60 L468.50,107.71 L469.00,106.86 L469.50,106.05 L470.00,105.28 L470.50,104.57 L471.00,103.93 L471.50,103.36 L472.00,102.82 L472.50,102.30 L473.00,101.80 L473.50,101.33 L474.00,100.88 L474.50,100.45 L475.00,100.04 L475.50,99.65 L476.00,99.27 L476.50,98.91 L477.00,98.56 L477.50,98.23 L478.00,97.91 L478.50,97.59 L479.00,97.27 L479.50,96.96 L480.00,96.65 L480.50,96.36 L481.00,96.07 L481.50,95.79 L482.00,95.53 L482.50,95.29 L483.00,95.06 L483.50,94.85 L484.00,94.66 L484.50,94.49 L485.00,94.35 L485.50,94.23 L486.00,94.11 L486.50,93.99 L487.00,93.88 L487.50,93.78 L488.00,93.68 L488.50,93.60 L489.00,93.53 L489.50,93.47 L490.00,93.43 L490.50,93.40 L491.00,93.40 L491.50,93.44 L492.00,93.50 L492.50,93.60 L493.00,93.72 L493.50,93.87 L494.00,94.03 L494.50,94.21 L495.00,94.40 L495.50,94.59 L496.00,94.79 L496.50,94.99 L497.00,95.19 L497.50,95.38 L498.00,95.58 L498.50,95.80 L499.00,96.03 L499.50,96.28 L500.00,96.54 L500.50,96.80 L501.00,97.07 L501.50,97.34 L502.00,97.61 L502.50,97.89 L503.00,98.15 L503.50,98.42 L504.00,98.69 L504.50,98.96 L505.00,99.24 L505.50,99.52 L506.00,99.80 L506.50,100.08 L507.00,100.37 L507.50,100.66 L508.00,100.96 L508.50,101.25 L509.00,101.56 L509.50,101.86 L510.00,102.17 L510.50,102.48 L511.00,102.80 L511.50,103.12 L512.00,103.44 L512.50,103.77 L513.00,104.11 L513.50,104.44 L514.00,104.78 L514.50,105.13 L515.00,105.48 L515.50,105.84 L516.00,106.20 L516.50,106.56 L517.00,106.93 L517.50,107.30 L518.00,107.67 L518.50,108.05 L519.00,108.43 L519.50,108.82 L520.00,109.21 L520.50,109.61 L521.00,110.01 L521.50,110.42 L522.00,110.85 L522.50,111.28 L523.00,111.71 L523.50,112.16 L524.00,112.62 L524.50,113.10 L525.00,113.59 L525.50,114.12 L526.00,114.67 L526.50,115.24 L527.00,115.83 L527.50,116.43 L528.00,117.03 L528.50,117.63 L529.00,118.23 L529.50,118.82 L530.00,119.40 L530.50,119.96 L531.00,120.49 L531.50,121.01 L532.00,121.51 L532.50,122.01 L533.00,122.50 L533.50,122.99 L534.00,123.47 L534.50,123.95 L535.00,124.42 L535.50,124.88 L536.00,125.34 L536.50,125.80 L537.00,126.25 L537.50,126.70 L538.00,127.15 L538.50,127.59 L539.00,128.03 L539.50,128.46 L540.00,128.90 L540.50,129.33 L541.00,129.76 L541.50,130.18 L542.00,130.59 L542.50,131.00 L543.00,131.40 L543.50,131.80 L544.00,132.20 L544.50,132.59 L545.00,132.98 L545.50,133.37 L546.00,133.76 L546.50,134.15 L547.00,134.54 L547.50,134.93 L548.00,135.32 L548.50,135.71 L549.00,136.11 L549.50,136.51 L550.00,136.92 L550.50,137.33 L551.00,137.75 L551.50,138.17 L552.00,138.60 L552.50,139.04 L553.00,139.47 L553.50,139.91 L554.00,140.35 L554.50,140.79 L555.00,141.22 L555.50,141.66 L556.00,142.09 L556.50,142.51 L557.00,142.94 L557.50,143.35 L558.00,143.76 L558.50,144.16 L559.00,144.55 L559.50,144.93 L560.00,145.29 L560.50,145.66 L561.00,146.01 L561.50,146.36 L562.00,146.70 L562.50,147.04 L563.00,147.38 L563.50,147.71 L564.00,148.03 L564.50,148.36 L565.00,148.68 L565.50,149.00 L566.00,149.32 L566.50,149.63 L567.00,149.95 L567.50,150.27 L568.00,150.59 L568.50,150.91 L569.00,151.24 L569.50,151.56 L570.00,151.88 L570.50,152.21 L571.00,152.53 L571.50,152.85 L572.00,153.17 L572.50,153.49 L573.00,153.80 L573.50,154.11 L574.00,154.43 L574.50,154.74 L575.00,155.06 L575.50,155.37 L576.00,155.69 L576.50,156.00 L577.00,156.31 L577.50,156.63 L578.00,156.94 L578.50,157.25 L579.00,157.56 L579.50,157.87 L580.00,158.17 L580.50,158.48 L581.00,158.78 L581.50,159.08 L582.00,159.37 L582.50,159.67 L583.00,159.96 L583.50,160.25 L584.00,160.53 L584.50,160.81 L585.00,161.09 L585.50,161.36 L586.00,161.64 L586.50,161.91 L587.00,162.17 L587.50,162.44 L588.00,162.71 L588.50,162.97 L589.00,163.23 L589.50,163.49 L590.00,163.75 L590.50,164.00 L591.00,164.26 L591.50,164.51 L592.00,164.76 L592.50,165.01 L593.00,165.26 L593.50,165.50 L594.00,165.75 L594.50,165.99 L595.00,166.23 L595.50,166.47 L596.00,166.71 L596.50,166.94 L597.00,167.18 L597.50,167.41 L598.00,167.65 L598.50,167.88 L599.00,168.11 L599.50,168.34 L600.00,168.56 L600.50,168.79 L601.00,169.01 L601.50,169.24 L602.00,169.46 L602.50,169.68 L603.00,169.90 L603.50,170.11 L604.00,170.33 L604.50,170.54 L605.00,170.76 L605.50,170.97 L606.00,171.18 L606.50,171.39 L607.00,171.59 L607.50,171.80 L608.00,172.01 L608.50,172.21 L609.00,172.41 L609.50,172.62 L610.00,172.82 L610.50,173.02 L611.00,173.22 L611.50,173.42 L612.00,173.62 L612.50,173.82 L613.00,174.02 L613.50,174.21 L614.00,174.41 L614.50,174.61 L615.00,174.80 L615.50,175.00 L616.00,175.19 L616.50,175.39 L617.00,175.58 L617.50,175.77 L618.00,175.96 L618.50,176.15 L619.00,176.34 L619.50,176.53 L620.00,176.71 L620.50,176.90 L621.00,177.08 L621.50,177.27 L622.00,177.45 L622.50,177.63 L623.00,177.82 L623.50,178.00 L624.00,178.18 L624.50,178.36 L625.00,178.55 L625.50,178.73 L626.00,178.91 L626.50,179.10 L627.00,179.28 L627.50,179.46 L628.00,179.65 L628.50,179.83 L629.00,180.00 L629.50,180.18 L630.00,180.35 L630.50,180.52 L631.00,180.69 L631.50,180.86 L632.00,181.02 L632.50,181.19 L633.00,181.36 L633.50,181.52 L634.00,181.69 L634.50,181.86 L635.00,182.02 L635.50,182.19 L636.00,182.37 L636.50,182.54 L637.00,182.72 L637.50,182.89 L638.00,183.08 L638.50,183.26 L639.00,183.45 L639.50,183.64 L640.00,183.84 L640.50,184.04 L641.00,184.25 L641.50,184.47 L642.00,184.68 L642.50,184.91 L643.00,185.14 L643.50,185.40 L644.00,185.67 L644.50,185.96 L645.00,186.25 L645.50,186.56 L646.00,186.86 L646.50,187.16 L647.00,187.45 L647.50,187.74 L648.00,188.01 L648.50,188.28 L649.00,188.56 L649.50,188.84 L650.00,189.12 L650.50,189.40 L651.00,189.68 L651.50,189.95 L652.00,190.23 L652.50,190.49 L653.00,190.75 L653.50,190.99 L654.00,191.23 L654.50,191.45 L655.00,191.65 L655.50,191.84 L656.00,192.01 L656.50,192.16 L657.00,192.30 L657.50,192.44 L658.00,192.58 L658.50,192.71 L659.00,192.83 L659.50,192.96 L660.00,193.08 L660.50,193.19 L661.00,193.30 L661.50,193.41 L662.00,193.51 L662.50,193.61 L663.00,193.71 L663.50,193.80 L664.00,193.89 L664.50,193.97 L665.00,194.05 L665.50,194.13 L666.00,194.20 L666.50,194.26 L667.00,194.33 L667.50,194.39 L668.00,194.45 L668.50,194.50 L669.00,194.56 L669.50,194.61 L670.00,194.66 L670.50,194.71 L671.00,194.76 L671.50,194.81 L672.00,194.85 L672.50,194.90 L673.00,194.94 L673.50,194.99 L674.00,195.03 L674.50,195.07 L675.00,195.11 L675.50,195.14 L676.00,195.18 L676.50,195.21 L677.00,195.25 L677.50,195.28 L678.00,195.31 L678.50,195.34 L679.00,195.37 L679.50,195.40 L680.00,195.42 L680.50,195.45 L681.00,195.47 L681.50,195.49 L682.00,195.51 L682.50,195.53 L683.00,195.55 L683.50,195.57 L684.00,195.59 L684.50,195.61 L685.00,195.63 L685.50,195.65 L686.00,195.67 L686.50,195.69 L687.00,195.71 L687.50,195.73 L688.00,195.75 L688.50,195.77 L689.00,195.78 L689.50,195.80 L690.00,195.82 L690.50,195.83 L691.00,195.85 L691.50,195.86 L692.00,195.88 L692.50,195.89 L693.00,195.90 L693.50,195.92 L694.00,195.93 L694.50,195.94 L695.00,195.95 L695.50,195.96 L696.00,195.97 L696.50,195.97 L697.00,195.98 L697.50,195.99 L698.00,195.99 L698.50,196.00 L699.00,196.00 L699.50,196.00 L700.00,196.00" stroke="#ff0000" stroke-width="1.7" stroke-dasharray="6.3,6"/>
<path d="M403.00,37.50 L403.50,36.97 L404.00,36.44 L404.50,35.93 L405.00,35.43 L405.50,34.95 L406.00,34.47 L406.50,34.02 L407.00,33.57 L407.50,33.15 L408.00,32.74 L408.50,32.35 L409.00,31.98 L409.50,31.63 L410.00,31.30 L410.50,30.98 L411.00,30.66 L411.50,30.34 L412.00,30.02 L412.50,29.71 L413.00,29.41 L413.50,29.12 L414.00,28.85 L414.50,28.59 L415.00,28.36 L415.50,28.15 L416.00,27.96 L416.50,27.81 L417.00,27.69 L417.50,27.60 L418.00,27.53 L418.50,27.47 L419.00,27.41 L419.50,27.35 L420.00,27.29 L420.50,27.24 L421.00,27.19 L421.50,27.15 L422.00,27.11 L422.50,27.08 L423.00,27.05 L423.50,27.03 L424.00,27.01 L424.50,27.00 L425.00,27.00 L425.50,27.01 L426.00,27.05 L426.50,27.10 L427.00,27.17 L427.50,27.26 L428.00,27.37 L428.50,27.49 L429.00,27.62 L429.50,27.76 L430.00,27.91 L430.50,28.07 L431.00,28.24 L431.50,28.41 L432.00,28.58 L432.50,28.75 L433.00,28.94 L433.50,29.15 L434.00,29.38 L434.50,29.64 L435.00,29.92 L435.50,30.23 L436.00,30.55 L436.50,30.89 L437.00,31.25 L437.50,31.63 L438.00,32.03 L438.50,32.44 L439.00,32.86 L439.50,33.30 L440.00,33.75 L440.50,34.23 L441.00,34.77 L441.50,35.35 L442.00,35.97 L442.50,36.64 L443.00,37.34 L443.50,38.07 L444.00,38.83 L444.50,39.61 L445.00,40.42 L445.50,41.24 L446.00,42.08 L446.50,42.93 L447.00,43.84 L447.50,44.80 L448.00,45.81 L448.50,46.86 L449.00,47.95 L449.50,49.05 L450.00,50.17 L450.50,51.30 L451.00,52.44 L451.50,53.57 L452.00,54.72 L452.50,55.90 L453.00,57.10 L453.50,58.32 L454.00,59.55 L454.50,60.79 L455.00,62.03 L455.50,63.27 L456.00,64.50 L456.50,65.73 L457.00,66.97 L457.50,68.22 L458.00,69.47 L458.50,70.72 L459.00,71.98 L459.50,73.24 L460.00,74.50 L460.50,75.77 L461.00,77.06 L461.50,78.36 L462.00,79.67 L462.50,80.97 L463.00,82.26 L463.50,83.53 L464.00,84.78 L464.50,86.00 L465.00,87.19 L465.50,88.35 L466.00,89.49 L466.50,90.61 L467.00,91.72 L467.50,92.82 L468.00,93.92 L468.50,95.02 L469.00,96.13 L469.50,97.24 L470.00,98.38 L470.50,99.53 L471.00,100.71 L471.50,101.92 L472.00,103.16 L472.50,104.41 L473.00,105.66 L473.50,106.91 L474.00,108.13 L474.50,109.34 L475.00,110.50 L475.50,111.64 L476.00,112.77 L476.50,113.88 L477.00,114.99 L477.50,116.08 L478.00,117.16 L478.50,118.22 L479.00,119.27 L479.50,120.31 L480.00,121.32 L480.50,122.32 L481.00,123.31 L481.50,124.26 L482.00,125.19 L482.50,126.08 L483.00,126.96 L483.50,127.82 L484.00,128.68 L484.50,129.54 L485.00,130.40 L485.50,131.28 L486.00,132.18 L486.50,133.11 L487.00,134.07 L487.50,135.07 L488.00,136.09 L488.50,137.13 L489.00,138.17 L489.50,139.20 L490.00,140.22 L490.50,141.21 L491.00,142.18 L491.50,143.13 L492.00,144.08 L492.50,145.03 L493.00,145.96 L493.50,146.89 L494.00,147.81 L494.50,148.71 L495.00,149.61 L495.50,150.48 L496.00,151.34 L496.50,152.18 L497.00,153.00 L497.50,153.81 L498.00,154.60 L498.50,155.39 L499.00,156.17 L499.50,156.94 L500.00,157.70 L500.50,158.44 L501.00,159.18 L501.50,159.90 L502.00,160.60 L502.50,161.29 L503.00,161.96 L503.50,162.61 L504.00,163.25 L504.50,163.87 L505.00,164.48 L505.50,165.09 L506.00,165.69 L506.50,166.28 L507.00,166.86 L507.50,167.43 L508.00,167.99 L508.50,168.54 L509.00,169.09 L509.50,169.62 L510.00,170.14 L510.50,170.65 L511.00,171.14 L511.50,171.62 L512.00,172.09 L512.50,172.55 L513.00,172.99 L513.50,173.42 L514.00,173.83 L514.50,174.24 L515.00,174.65 L515.50,175.04 L516.00,175.44 L516.50,175.83 L517.00,176.21 L517.50,176.59 L518.00,176.97 L518.50,177.34 L519.00,177.70 L519.50,178.06 L520.00,178.41 L520.50,178.76 L521.00,179.10 L521.50,179.43 L522.00,179.76 L522.50,180.09 L523.00,180.41 L523.50,180.72 L524.00,181.03 L524.50,181.33 L525.00,181.62 L525.50,181.91 L526.00,182.20 L526.50,182.47 L527.00,182.74 L527.50,183.01 L528.00,183.26 L528.50,183.52 L529.00,183.76 L529.50,184.00 L530.00,184.23 L530.50,184.46 L531.00,184.68 L531.50,184.90 L532.00,185.12 L532.50,185.33 L533.00,185.54 L533.50,185.74 L534.00,185.94 L534.50,186.13 L535.00,186.32 L535.50,186.51 L536.00,186.70 L536.50,186.88 L537.00,187.06 L537.50,187.23 L538.00,187.41 L538.50,187.58 L539.00,187.74 L539.50,187.91 L540.00,188.07 L540.50,188.23 L541.00,188.39 L541.50,188.55 L542.00,188.70 L542.50,188.86 L543.00,189.01 L543.50,189.16 L544.00,189.31 L544.50,189.45 L545.00,189.60 L545.50,189.74 L546.00,189.88 L546.50,190.02 L547.00,190.15 L547.50,190.29 L548.00,190.42 L548.50,190.55 L549.00,190.68 L549.50,190.81 L550.00,190.93 L550.50,191.06 L551.00,191.18 L551.50,191.30 L552.00,191.42 L552.50,191.54 L553.00,191.66 L553.50,191.78 L554.00,191.90 L554.50,192.01 L555.00,192.13 L555.50,192.24 L556.00,192.35 L556.50,192.47 L557.00,192.58 L557.50,192.69 L558.00,192.81 L558.50,192.92 L559.00,193.04 L559.50,193.16 L560.00,193.28 L560.50,193.41 L561.00,193.53 L561.50,193.65 L562.00,193.77 L562.50,193.88 L563.00,194.00 L563.50,194.11 L564.00,194.22 L564.50,194.32 L565.00,194.42 L565.50,194.51 L566.00,194.60 L566.50,194.69 L567.00,194.76 L567.50,194.83 L568.00,194.89 L568.50,194.95 L569.00,194.99 L569.50,195.03 L570.00,195.07 L570.50,195.11 L571.00,195.14 L571.50,195.18 L572.00,195.21 L572.50,195.25 L573.00,195.28 L573.50,195.31 L574.00,195.35 L574.50,195.38 L575.00,195.41 L575.50,195.44 L576.00,195.47 L576.50,195.50 L577.00,195.53 L577.50,195.56 L578.00,195.59 L578.50,195.62 L579.00,195.64 L579.50,195.67 L580.00,195.70 L580.50,195.72 L581.00,195.75 L581.50,195.77 L582.00,195.79 L582.50,195.82 L583.00,195.84 L583.50,195.86 L584.00,195.88 L584.50,195.90 L585.00,195.93 L585.50,195.95 L586.00,195.96 L586.50,195.98 L587.00,196.00 L587.50,196.02 L588.00,196.04 L588.50,196.05 L589.00,196.07 L589.50,196.09 L590.00,196.10 L590.50,196.12 L591.00,196.13 L591.50,196.14 L592.00,196.16 L592.50,196.17 L593.00,196.18 L593.50,196.19 L594.00,196.20 L594.50,196.21 L595.00,196.22 L595.50,196.23 L596.00,196.24 L596.50,196.25 L597.00,196.26 L597.50,196.27 L598.00,196.28 L598.50,196.28 L599.00,196.29 L599.50,196.29 L600.00,196.30 L600.50,196.31 L601.00,196.31 L601.50,196.32 L602.00,196.32 L602.50,196.33 L603.00,196.33 L603.50,196.34 L604.00,196.34 L604.50,196.35 L605.00,196.35 L605.50,196.36 L606.00,196.36 L606.50,196.37 L607.00,196.37 L607.50,196.37 L608.00,196.38 L608.50,196.38 L609.00,196.39 L609.50,196.39 L610.00,196.40 L610.50,196.40 L611.00,196.41 L611.50,196.41 L612.00,196.42 L612.50,196.42 L613.00,196.43 L613.50,196.43 L614.00,196.43 L614.50,196.44 L615.00,196.44 L615.50,196.45 L616.00,196.45 L616.50,196.46 L617.00,196.46 L617.50,196.46 L618.00,196.47 L618.50,196.47 L619.00,196.48 L619.50,196.48 L620.00,196.48 L620.50,196.49 L621.00,196.49 L621.50,196.50 L622.00,196.50 L622.50,196.50 L623.00,196.51 L623.50,196.51 L624.00,196.52 L624.50,196.52 L625.00,196.52 L625.50,196.53 L626.00,196.53 L626.50,196.54 L627.00,196.54 L627.50,196.54 L628.00,196.55 L628.50,196.55 L629.00,196.55 L629.50,196.56 L630.00,196.56 L630.50,196.56 L631.00,196.57 L631.50,196.57 L632.00,196.57 L632.50,196.58 L633.00,196.58 L633.50,196.58 L634.00,196.59 L634.50,196.59 L635.00,196.59 L635.50,196.60 L636.00,196.60 L636.50,196.60 L637.00,196.61 L637.50,196.61 L638.00,196.61 L638.50,196.62 L639.00,196.62 L639.50,196.62 L640.00,196.63 L640.50,196.63 L641.00,196.63 L641.50,196.63 L642.00,196.64 L642.50,196.64 L643.00,196.64 L643.50,196.65 L644.00,196.65 L644.50,196.65 L645.00,196.65 L645.50,196.66 L646.00,196.66 L646.50,196.66 L647.00,196.66 L647.50,196.67 L648.00,196.67 L648.50,196.67 L649.00,196.67 L649.50,196.68 L650.00,196.68 L650.50,196.68 L651.00,196.68 L651.50,196.69 L652.00,196.69 L652.50,196.69 L653.00,196.69 L653.50,196.70 L654.00,196.70 L654.50,196.70 L655.00,196.70 L655.50,196.71 L656.00,196.71 L656.50,196.71 L657.00,196.71 L657.50,196.71 L658.00,196.72 L658.50,196.72 L659.00,196.72 L659.50,196.72 L660.00,196.72 L660.50,196.73 L661.00,196.73 L661.50,196.73 L662.00,196.73 L662.50,196.73 L663.00,196.73 L663.50,196.74 L664.00,196.74 L664.50,196.74 L665.00,196.74 L665.50,196.74 L666.00,196.75 L666.50,196.75 L667.00,196.75 L667.50,196.75 L668.00,196.75 L668.50,196.75 L669.00,196.75 L669.50,196.76 L670.00,196.76 L670.50,196.76 L671.00,196.76 L671.50,196.76 L672.00,196.76 L672.50,196.76 L673.00,196.77 L673.50,196.77 L674.00,196.77 L674.50,196.77 L675.00,196.77 L675.50,196.77 L676.00,196.77 L676.50,196.77 L677.00,196.78 L677.50,196.78 L678.00,196.78 L678.50,196.78 L679.00,196.78 L679.50,196.78 L680.00,196.78 L680.50,196.78 L681.00,196.78 L681.50,196.78 L682.00,196.78 L682.50,196.79 L683.00,196.79 L683.50,196.79 L684.00,196.79 L684.50,196.79 L685.00,196.79 L685.50,196.79 L686.00,196.79 L686.50,196.79 L687.00,196.79 L687.50,196.79 L688.00,196.79 L688.50,196.79 L689.00,196.79 L689.50,196.79 L690.00,196.80 L690.50,196.80 L691.00,196.80 L691.50,196.80 L692.00,196.80 L692.50,196.80 L693.00,196.80 L693.50,196.80 L694.00,196.80 L694.50,196.80 L695.00,196.80 L695.50,196.80 L696.00,196.80 L696.50,196.80 L697.00,196.80 L697.50,196.80 L698.00,196.80 L698.50,196.80 L699.00,196.80 L699.50,196.80 L700.00,196.80" stroke="#000000" stroke-width="1.5"/>
</g>
<rect x="528" y="9.2" width="170" height="84.3" fill="#fff"/>
<path d="M403.6,196.50 h4 M698.6,196.50 h-4 M403.6,184.75 h2 M698.6,184.75 h-2 M403.6,173.00 h4 M698.6,173.00 h-4 M403.6,161.25 h2 M698.6,161.25 h-2 M403.6,149.50 h4 M698.6,149.50 h-4 M403.6,137.75 h2 M698.6,137.75 h-2 M403.6,126.00 h4 M698.6,126.00 h-4 M403.6,114.25 h2 M698.6,114.25 h-2 M403.6,102.50 h4 M698.6,102.50 h-4 M403.6,90.75 h2 M698.6,90.75 h-2 M403.6,79.00 h4 M698.6,79.00 h-4 M403.6,67.25 h2 M698.6,67.25 h-2 M403.6,55.50 h4 M698.6,55.50 h-4 M403.6,43.75 h2 M698.6,43.75 h-2 M403.6,32.00 h4 M698.6,32.00 h-4 M403.6,20.25 h2 M698.6,20.25 h-2 M403.6,8.50 h4 M698.6,8.50 h-4 M404.76,196.5 v-2 M406.19,196.5 v-2 M403.99,8.5 v2 M407.47,196.5 v-4 M405.27,8.5 v4 M415.89,196.5 v-2 M413.69,8.5 v2 M420.82,196.5 v-2 M418.62,8.5 v2 M424.31,196.5 v-2 M422.11,8.5 v2 M427.02,196.5 v-2 M424.82,8.5 v2 M429.23,196.5 v-2 M427.03,8.5 v2 M431.11,196.5 v-2 M428.91,8.5 v2 M432.73,196.5 v-2 M430.53,8.5 v2 M434.16,196.5 v-2 M431.96,8.5 v2 M435.44,196.5 v-4 M433.24,8.5 v4 M443.86,196.5 v-2 M441.66,8.5 v2 M448.79,196.5 v-2 M446.59,8.5 v2 M452.28,196.5 v-2 M450.08,8.5 v2 M454.99,196.5 v-2 M452.79,8.5 v2 M457.20,196.5 v-2 M455.00,8.5 v2 M459.08,196.5 v-2 M456.88,8.5 v2 M460.70,196.5 v-2 M458.50,8.5 v2 M462.13,196.5 v-2 M459.93,8.5 v2 M463.41,196.5 v-4 M461.21,8.5 v4 M471.83,196.5 v-2 M469.63,8.5 v2 M476.76,196.5 v-2 M474.56,8.5 v2 M480.25,196.5 v-2 M478.05,8.5 v2 M482.96,196.5 v-2 M480.76,8.5 v2 M485.17,196.5 v-2 M482.97,8.5 v2 M487.05,196.5 v-2 M484.85,8.5 v2 M488.67,196.5 v-2 M486.47,8.5 v2 M490.10,196.5 v-2 M487.90,8.5 v2 M491.38,196.5 v-4 M489.18,8.5 v4 M499.80,196.5 v-2 M497.60,8.5 v2 M504.73,196.5 v-2 M502.53,8.5 v2 M508.22,196.5 v-2 M506.02,8.5 v2 M510.93,196.5 v-2 M508.73,8.5 v2 M513.14,196.5 v-2 M510.94,8.5 v2 M515.02,196.5 v-2 M512.82,8.5 v2 M516.64,196.5 v-2 M514.44,8.5 v2 M518.07,196.5 v-2 M515.87,8.5 v2 M519.35,196.5 v-4 M517.15,8.5 v4 M527.77,196.5 v-2 M525.57,8.5 v2 M532.70,196.5 v-2 M530.50,8.5 v2 M536.19,196.5 v-2 M533.99,8.5 v2 M538.90,196.5 v-2 M536.70,8.5 v2 M541.11,196.5 v-2 M538.91,8.5 v2 M542.99,196.5 v-2 M540.79,8.5 v2 M544.61,196.5 v-2 M542.41,8.5 v2 M546.04,196.5 v-2 M543.84,8.5 v2 M547.32,196.5 v-4 M545.12,8.5 v4 M555.74,196.5 v-2 M553.54,8.5 v2 M560.67,196.5 v-2 M558.47,8.5 v2 M564.16,196.5 v-2 M561.96,8.5 v2 M566.87,196.5 v-2 M564.67,8.5 v2 M569.08,196.5 v-2 M566.88,8.5 v2 M570.96,196.5 v-2 M568.76,8.5 v2 M572.58,196.5 v-2 M570.38,8.5 v2 M574.01,196.5 v-2 M571.81,8.5 v2 M575.29,196.5 v-4 M573.09,8.5 v4 M583.71,196.5 v-2 M581.51,8.5 v2 M588.64,196.5 v-2 M586.44,8.5 v2 M592.13,196.5 v-2 M589.93,8.5 v2 M594.84,196.5 v-2 M592.64,8.5 v2 M597.05,196.5 v-2 M594.85,8.5 v2 M598.93,196.5 v-2 M596.73,8.5 v2 M600.55,196.5 v-2 M598.35,8.5 v2 M601.98,196.5 v-2 M599.78,8.5 v2 M603.26,196.5 v-4 M601.06,8.5 v4 M611.68,196.5 v-2 M609.48,8.5 v2 M616.61,196.5 v-2 M614.41,8.5 v2 M620.10,196.5 v-2 M617.90,8.5 v2 M622.81,196.5 v-2 M620.61,8.5 v2 M625.02,196.5 v-2 M622.82,8.5 v2 M626.90,196.5 v-2 M624.70,8.5 v2 M628.52,196.5 v-2 M626.32,8.5 v2 M629.95,196.5 v-2 M627.75,8.5 v2 M631.23,196.5 v-4 M629.03,8.5 v4 M639.65,196.5 v-2 M637.45,8.5 v2 M644.58,196.5 v-2 M642.38,8.5 v2 M648.07,196.5 v-2 M645.87,8.5 v2 M650.78,196.5 v-2 M648.58,8.5 v2 M652.99,196.5 v-2 M650.79,8.5 v2 M654.87,196.5 v-2 M652.67,8.5 v2 M656.49,196.5 v-2 M654.29,8.5 v2 M657.92,196.5 v-2 M655.72,8.5 v2 M659.20,196.5 v-4 M657.00,8.5 v4 M667.62,196.5 v-2 M665.42,8.5 v2 M672.55,196.5 v-2 M670.35,8.5 v2 M676.04,196.5 v-2 M673.84,8.5 v2 M678.75,196.5 v-2 M676.55,8.5 v2 M680.96,196.5 v-2 M678.76,8.5 v2 M682.84,196.5 v-2 M680.64,8.5 v2 M684.46,196.5 v-2 M682.26,8.5 v2 M685.89,196.5 v-2 M683.69,8.5 v2 M687.17,196.5 v-4 M684.97,8.5 v4 M695.59,196.5 v-2 M693.39,8.5 v2" stroke="#111" stroke-width="1" fill="none"/>
<rect x="403.6" y="8.5" width="295.0" height="188.0" fill="none" stroke="#111" stroke-width="1.25"/>
<text x="399.7" y="201.50" text-anchor="end" font-size="17.3">0</text>
<text x="399.7" y="178.00" text-anchor="end" font-size="17.3">1</text>
<text x="399.7" y="154.50" text-anchor="end" font-size="17.3">2</text>
<text x="399.7" y="131.00" text-anchor="end" font-size="17.3">3</text>
<text x="399.7" y="107.50" text-anchor="end" font-size="17.3">4</text>
<text x="399.7" y="84.00" text-anchor="end" font-size="17.3">5</text>
<text x="399.7" y="60.50" text-anchor="end" font-size="17.3">6</text>
<text x="399.7" y="37.00" text-anchor="end" font-size="17.3">7</text>
<text x="399.7" y="13.50" text-anchor="end" font-size="17.3">8</text>
<text x="421.23" y="218.3" font-size="17.3" transform="translate(421.23 0) scale(1.0 1) translate(-421.23 0)">10</text>
<text x="441.27" y="208.5" font-size="11" transform="translate(441.27 0) scale(1.0 1) translate(-441.27 0)">-8</text>
<text x="477.17" y="218.3" font-size="17.3" transform="translate(477.17 0) scale(1.0 1) translate(-477.17 0)">10</text>
<text x="497.21" y="208.5" font-size="11" transform="translate(497.21 0) scale(1.0 1) translate(-497.21 0)">-6</text>
<text x="533.11" y="218.3" font-size="17.3" transform="translate(533.11 0) scale(1.0 1) translate(-533.11 0)">10</text>
<text x="553.15" y="208.5" font-size="11" transform="translate(553.15 0) scale(1.0 1) translate(-553.15 0)">-4</text>
<text x="589.05" y="218.3" font-size="17.3" transform="translate(589.05 0) scale(1.0 1) translate(-589.05 0)">10</text>
<text x="609.09" y="208.5" font-size="11" transform="translate(609.09 0) scale(1.0 1) translate(-609.09 0)">-2</text>
<text x="646.82" y="218.3" font-size="17.3" transform="translate(646.82 0) scale(1.0 1) translate(-646.82 0)">10</text>
<text x="666.86" y="208.5" font-size="11" transform="translate(666.86 0) scale(1.0 1) translate(-666.86 0)">0</text>
<text x="489.8" y="232.6" font-size="19" transform="translate(489.8 0) scale(0.985 1) translate(-489.8 0)">energy (MeV)</text>
<text transform="translate(381.3 175.2) rotate(-90) scale(1.0 1)" x="0" y="0" font-size="19">response (cm<tspan font-size="11.0" dy="-10.1">2</tspan><tspan dy="10.1">)</tspan></text>
<text x="493" y="36.5" font-size="18" transform="translate(493 0) scale(1.12 1) translate(-493 0)">(b)</text>
<path d="M536.2,18.30 H569.2" stroke="#000000" stroke-width="1.5"/>
<text x="572.3" y="23.20" font-size="13.8" font-weight="bold" transform="translate(572.3 0) scale(0.99 1) translate(-572.3 0)">bare</text>
<path d="M536.2,35.35 H569.2" stroke="#ff0000" stroke-width="1.5" stroke-dasharray="6.3,6"/>
<text x="572.3" y="40.25" font-size="13.8" font-weight="bold" transform="translate(572.3 0) scale(0.99 1) translate(-572.3 0)">2.5in.</text>
<path d="M536.2,52.40 H569.2" stroke="#0000ff" stroke-width="1.5" stroke-dasharray="1.7,5.8"/>
<text x="572.3" y="57.30" font-size="13.8" font-weight="bold" transform="translate(572.3 0) scale(0.99 1) translate(-572.3 0)">3in.</text>
<path d="M536.2,69.45 H569.2" stroke="#008080" stroke-width="1.5" stroke-dasharray="7.2,3.4,1.8,3.4"/>
<text x="572.3" y="74.35" font-size="13.8" font-weight="bold" transform="translate(572.3 0) scale(0.99 1) translate(-572.3 0)">3.5in.</text>
<path d="M536.2,86.50 H569.2" stroke="#ff00ff" stroke-width="1.5" stroke-dasharray="6.2,3.3,1.6,3.3,1.6,3.3"/>
<text x="572.3" y="91.40" font-size="13.8" font-weight="bold" transform="translate(572.3 0) scale(0.99 1) translate(-572.3 0)">4in.</text>
<path d="M627.6,18.30 H660.6" stroke="#808000" stroke-width="1.5" stroke-dasharray="3.8,2.1"/>
<text x="663.6" y="23.20" font-size="13.8" font-weight="bold" transform="translate(663.6 0) scale(0.99 1) translate(-663.6 0)">5in.</text>
<path d="M627.6,35.35 H660.6" stroke="#000080" stroke-width="1.5" stroke-dasharray="1.7,1.7"/>
<text x="663.6" y="40.25" font-size="13.8" font-weight="bold" transform="translate(663.6 0) scale(0.99 1) translate(-663.6 0)">6in.</text>
<path d="M627.6,52.40 H660.6" stroke="#800000" stroke-width="1.5" stroke-dasharray="4.8,2.2,1.4,2.2"/>
<text x="663.6" y="57.30" font-size="13.8" font-weight="bold" transform="translate(663.6 0) scale(0.99 1) translate(-663.6 0)">8in.</text>
<path d="M627.6,69.45 H660.6" stroke="#00ff00" stroke-width="1.5" stroke-dasharray="1.2,1.3"/>
<text x="663.6" y="74.35" font-size="13.8" font-weight="bold" transform="translate(663.6 0) scale(0.99 1) translate(-663.6 0)">10in.</text>
<path d="M627.6,86.50 H660.6" stroke="#008000" stroke-width="1.5" stroke-dasharray="6.3,6"/>
<text x="663.6" y="91.40" font-size="13.8" font-weight="bold" transform="translate(663.6 0) scale(0.99 1) translate(-663.6 0)">12in.</text>
</g>
</svg>
</body></html>
